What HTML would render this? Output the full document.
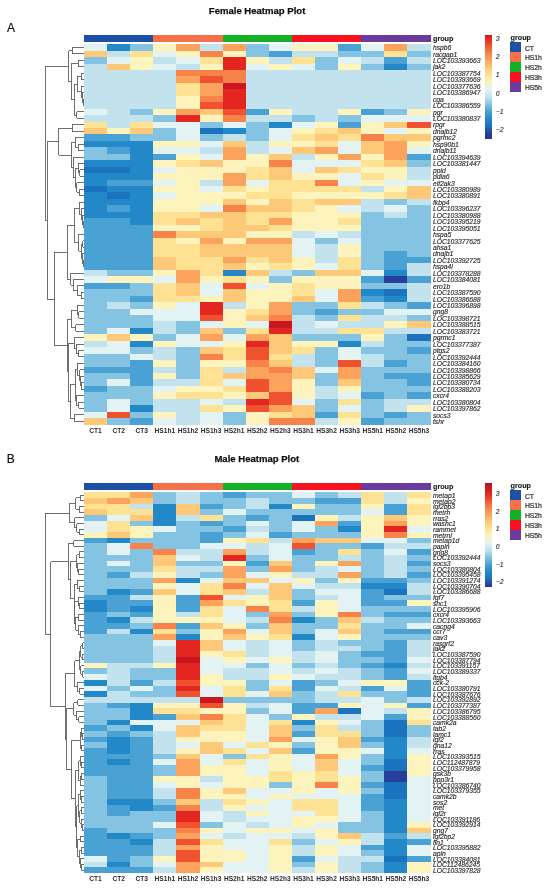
<!DOCTYPE html>
<html><head><meta charset="utf-8"><style>
html,body{margin:0;padding:0;background:#fff;}
body{width:550px;height:889px;overflow:hidden;}
svg{display:block;will-change:transform;}
text{font-family:"Liberation Sans",sans-serif;}
.title{font-size:9.55px;font-weight:bold;fill:#111;stroke:#111;stroke-width:0.25px;}
.letter{font-size:12px;fill:#111;stroke:#111;stroke-width:0.2px;}
.grp{font-size:7.2px;font-weight:bold;fill:#1a1a1a;stroke:#1a1a1a;stroke-width:0.15px;}
.rl{font-size:6.75px;font-style:italic;fill:#2a2a2a;stroke:#2a2a2a;stroke-width:0.15px;}
.cl{font-size:6.6px;font-weight:bold;fill:#2a2a2a;}
.tick{font-size:6.8px;font-style:italic;fill:#333;stroke:#333;stroke-width:0.15px;}
.leg{font-size:6.8px;fill:#262626;stroke:#262626;stroke-width:0.2px;}
.dg{stroke:#5f5f5f;stroke-width:0.9;fill:none;}
</style></head><body>
<svg width="550" height="889" viewBox="0 0 550 889" shape-rendering="crispEdges">
<defs><linearGradient id="cbf" x1="0" y1="0" x2="0" y2="1"><stop offset="-0.0352" stop-color="#c9161f"/><stop offset="0.0352" stop-color="#e3261f"/><stop offset="0.1056" stop-color="#f0522f"/><stop offset="0.1761" stop-color="#f7834a"/><stop offset="0.2465" stop-color="#fba35c"/><stop offset="0.3169" stop-color="#fdc877"/><stop offset="0.3873" stop-color="#fde294"/><stop offset="0.4577" stop-color="#fcf3bd"/><stop offset="0.5282" stop-color="#e3f2f3"/><stop offset="0.5986" stop-color="#c2e3ee"/><stop offset="0.6690" stop-color="#84c3e2"/><stop offset="0.7394" stop-color="#4aa2d4"/><stop offset="0.8099" stop-color="#2388c8"/><stop offset="0.8803" stop-color="#1b72bd"/><stop offset="0.9507" stop-color="#263f98"/><stop offset="1.0035" stop-color="#2a3590"/></linearGradient><linearGradient id="cbm" x1="0" y1="0" x2="0" y2="1"><stop offset="-0.0153" stop-color="#b3121f"/><stop offset="0.0357" stop-color="#c9161f"/><stop offset="0.1036" stop-color="#e3261f"/><stop offset="0.1715" stop-color="#f0522f"/><stop offset="0.2394" stop-color="#f7834a"/><stop offset="0.3073" stop-color="#fba35c"/><stop offset="0.3752" stop-color="#fdc877"/><stop offset="0.4431" stop-color="#fde294"/><stop offset="0.5110" stop-color="#fcf3bd"/><stop offset="0.5789" stop-color="#e3f2f3"/><stop offset="0.6469" stop-color="#c2e3ee"/><stop offset="0.7148" stop-color="#84c3e2"/><stop offset="0.7827" stop-color="#4aa2d4"/><stop offset="0.8506" stop-color="#2388c8"/><stop offset="0.9185" stop-color="#1b72bd"/><stop offset="0.9864" stop-color="#263f98"/><stop offset="1.0374" stop-color="#2a3590"/></linearGradient></defs>
<text x="208.8" y="13.6" class="title">Female Heatmap Plot</text>
<text x="7.1" y="31.8" class="letter">A</text>
<rect x="84.00" y="35.00" width="69.60" height="7" fill="#1c4fa6"/>
<rect x="153.30" y="35.00" width="69.60" height="7" fill="#f6704a"/>
<rect x="222.60" y="35.00" width="69.60" height="7" fill="#14b026"/>
<rect x="291.90" y="35.00" width="69.60" height="7" fill="#fa1220"/>
<rect x="361.20" y="35.00" width="69.60" height="7" fill="#6a3b9e"/>
<text x="433" y="41" class="grp">group</text>
<rect x="84.00" y="44.20" width="23.45" height="6.80" fill="#e3f2f3"/>
<rect x="107.10" y="44.20" width="23.45" height="6.80" fill="#2388c8"/>
<rect x="130.20" y="44.20" width="23.45" height="6.80" fill="#84c3e2"/>
<rect x="153.30" y="44.20" width="23.45" height="6.80" fill="#fcf3bd"/>
<rect x="176.40" y="44.20" width="23.45" height="6.80" fill="#fba35c"/>
<rect x="199.50" y="44.20" width="23.45" height="6.80" fill="#c2e3ee"/>
<rect x="222.60" y="44.20" width="23.45" height="6.80" fill="#fba35c"/>
<rect x="245.70" y="44.20" width="23.45" height="6.80" fill="#84c3e2"/>
<rect x="268.80" y="44.20" width="23.45" height="6.80" fill="#e3f2f3"/>
<rect x="291.90" y="44.20" width="23.45" height="6.80" fill="#fcf3bd"/>
<rect x="315.00" y="44.20" width="23.45" height="6.80" fill="#fcf3bd"/>
<rect x="338.10" y="44.20" width="23.45" height="6.80" fill="#4aa2d4"/>
<rect x="361.20" y="44.20" width="23.45" height="6.80" fill="#e3f2f3"/>
<rect x="384.30" y="44.20" width="23.45" height="6.80" fill="#fba35c"/>
<rect x="407.40" y="44.20" width="23.45" height="6.80" fill="#c2e3ee"/>
<rect x="84.00" y="50.65" width="23.45" height="6.80" fill="#fdc877"/>
<rect x="107.10" y="50.65" width="23.45" height="6.80" fill="#c2e3ee"/>
<rect x="130.20" y="50.65" width="23.45" height="6.80" fill="#fde294"/>
<rect x="153.30" y="50.65" width="23.45" height="6.80" fill="#e3f2f3"/>
<rect x="176.40" y="50.65" width="23.45" height="6.80" fill="#fcf3bd"/>
<rect x="199.50" y="50.65" width="23.45" height="6.80" fill="#f7834a"/>
<rect x="222.60" y="50.65" width="23.45" height="6.80" fill="#fcf3bd"/>
<rect x="245.70" y="50.65" width="23.45" height="6.80" fill="#84c3e2"/>
<rect x="268.80" y="50.65" width="23.45" height="6.80" fill="#4aa2d4"/>
<rect x="291.90" y="50.65" width="23.45" height="6.80" fill="#c2e3ee"/>
<rect x="315.00" y="50.65" width="23.45" height="6.80" fill="#c2e3ee"/>
<rect x="338.10" y="50.65" width="23.45" height="6.80" fill="#84c3e2"/>
<rect x="361.20" y="50.65" width="23.45" height="6.80" fill="#84c3e2"/>
<rect x="384.30" y="50.65" width="23.45" height="6.80" fill="#fde294"/>
<rect x="407.40" y="50.65" width="23.45" height="6.80" fill="#84c3e2"/>
<rect x="84.00" y="57.09" width="23.45" height="6.80" fill="#84c3e2"/>
<rect x="107.10" y="57.09" width="23.45" height="6.80" fill="#e3f2f3"/>
<rect x="130.20" y="57.09" width="23.45" height="6.80" fill="#fcf3bd"/>
<rect x="153.30" y="57.09" width="23.45" height="6.80" fill="#c2e3ee"/>
<rect x="176.40" y="57.09" width="23.45" height="6.80" fill="#e3f2f3"/>
<rect x="199.50" y="57.09" width="23.45" height="6.80" fill="#fde294"/>
<rect x="222.60" y="57.09" width="23.45" height="6.80" fill="#e3261f"/>
<rect x="245.70" y="57.09" width="23.45" height="6.80" fill="#fcf3bd"/>
<rect x="268.80" y="57.09" width="23.45" height="6.80" fill="#c2e3ee"/>
<rect x="291.90" y="57.09" width="23.45" height="6.80" fill="#fde294"/>
<rect x="315.00" y="57.09" width="23.45" height="6.80" fill="#84c3e2"/>
<rect x="338.10" y="57.09" width="23.45" height="6.80" fill="#e3f2f3"/>
<rect x="361.20" y="57.09" width="23.45" height="6.80" fill="#c2e3ee"/>
<rect x="384.30" y="57.09" width="23.45" height="6.80" fill="#4aa2d4"/>
<rect x="407.40" y="57.09" width="23.45" height="6.80" fill="#c2e3ee"/>
<rect x="84.00" y="63.54" width="23.45" height="6.80" fill="#c2e3ee"/>
<rect x="107.10" y="63.54" width="23.45" height="6.80" fill="#fdc877"/>
<rect x="130.20" y="63.54" width="23.45" height="6.80" fill="#fcf3bd"/>
<rect x="153.30" y="63.54" width="23.45" height="6.80" fill="#e3f2f3"/>
<rect x="176.40" y="63.54" width="23.45" height="6.80" fill="#c2e3ee"/>
<rect x="199.50" y="63.54" width="23.45" height="6.80" fill="#fcf3bd"/>
<rect x="222.60" y="63.54" width="23.45" height="6.80" fill="#e3261f"/>
<rect x="245.70" y="63.54" width="23.45" height="6.80" fill="#e3f2f3"/>
<rect x="268.80" y="63.54" width="23.45" height="6.80" fill="#fcf3bd"/>
<rect x="291.90" y="63.54" width="23.45" height="6.80" fill="#e3f2f3"/>
<rect x="315.00" y="63.54" width="23.45" height="6.80" fill="#84c3e2"/>
<rect x="338.10" y="63.54" width="23.45" height="6.80" fill="#fcf3bd"/>
<rect x="361.20" y="63.54" width="23.45" height="6.80" fill="#84c3e2"/>
<rect x="384.30" y="63.54" width="23.45" height="6.80" fill="#2388c8"/>
<rect x="407.40" y="63.54" width="23.45" height="6.80" fill="#84c3e2"/>
<rect x="84.00" y="69.99" width="23.45" height="6.80" fill="#c2e3ee"/>
<rect x="107.10" y="69.99" width="23.45" height="6.80" fill="#c2e3ee"/>
<rect x="130.20" y="69.99" width="23.45" height="6.80" fill="#c2e3ee"/>
<rect x="153.30" y="69.99" width="23.45" height="6.80" fill="#c2e3ee"/>
<rect x="176.40" y="69.99" width="23.45" height="6.80" fill="#f7834a"/>
<rect x="199.50" y="69.99" width="23.45" height="6.80" fill="#f7834a"/>
<rect x="222.60" y="69.99" width="23.45" height="6.80" fill="#f7834a"/>
<rect x="245.70" y="69.99" width="23.45" height="6.80" fill="#c2e3ee"/>
<rect x="268.80" y="69.99" width="23.45" height="6.80" fill="#c2e3ee"/>
<rect x="291.90" y="69.99" width="23.45" height="6.80" fill="#c2e3ee"/>
<rect x="315.00" y="69.99" width="23.45" height="6.80" fill="#c2e3ee"/>
<rect x="338.10" y="69.99" width="23.45" height="6.80" fill="#c2e3ee"/>
<rect x="361.20" y="69.99" width="23.45" height="6.80" fill="#c2e3ee"/>
<rect x="384.30" y="69.99" width="23.45" height="6.80" fill="#c2e3ee"/>
<rect x="407.40" y="69.99" width="23.45" height="6.80" fill="#c2e3ee"/>
<rect x="84.00" y="76.44" width="23.45" height="6.80" fill="#c2e3ee"/>
<rect x="107.10" y="76.44" width="23.45" height="6.80" fill="#c2e3ee"/>
<rect x="130.20" y="76.44" width="23.45" height="6.80" fill="#c2e3ee"/>
<rect x="153.30" y="76.44" width="23.45" height="6.80" fill="#c2e3ee"/>
<rect x="176.40" y="76.44" width="23.45" height="6.80" fill="#fba35c"/>
<rect x="199.50" y="76.44" width="23.45" height="6.80" fill="#f0522f"/>
<rect x="222.60" y="76.44" width="23.45" height="6.80" fill="#f7834a"/>
<rect x="245.70" y="76.44" width="23.45" height="6.80" fill="#c2e3ee"/>
<rect x="268.80" y="76.44" width="23.45" height="6.80" fill="#c2e3ee"/>
<rect x="291.90" y="76.44" width="23.45" height="6.80" fill="#c2e3ee"/>
<rect x="315.00" y="76.44" width="23.45" height="6.80" fill="#c2e3ee"/>
<rect x="338.10" y="76.44" width="23.45" height="6.80" fill="#c2e3ee"/>
<rect x="361.20" y="76.44" width="23.45" height="6.80" fill="#c2e3ee"/>
<rect x="384.30" y="76.44" width="23.45" height="6.80" fill="#c2e3ee"/>
<rect x="407.40" y="76.44" width="23.45" height="6.80" fill="#c2e3ee"/>
<rect x="84.00" y="82.88" width="23.45" height="6.80" fill="#c2e3ee"/>
<rect x="107.10" y="82.88" width="23.45" height="6.80" fill="#c2e3ee"/>
<rect x="130.20" y="82.88" width="23.45" height="6.80" fill="#c2e3ee"/>
<rect x="153.30" y="82.88" width="23.45" height="6.80" fill="#c2e3ee"/>
<rect x="176.40" y="82.88" width="23.45" height="6.80" fill="#fde294"/>
<rect x="199.50" y="82.88" width="23.45" height="6.80" fill="#fba35c"/>
<rect x="222.60" y="82.88" width="23.45" height="6.80" fill="#c9161f"/>
<rect x="245.70" y="82.88" width="23.45" height="6.80" fill="#c2e3ee"/>
<rect x="268.80" y="82.88" width="23.45" height="6.80" fill="#c2e3ee"/>
<rect x="291.90" y="82.88" width="23.45" height="6.80" fill="#c2e3ee"/>
<rect x="315.00" y="82.88" width="23.45" height="6.80" fill="#c2e3ee"/>
<rect x="338.10" y="82.88" width="23.45" height="6.80" fill="#c2e3ee"/>
<rect x="361.20" y="82.88" width="23.45" height="6.80" fill="#c2e3ee"/>
<rect x="384.30" y="82.88" width="23.45" height="6.80" fill="#c2e3ee"/>
<rect x="407.40" y="82.88" width="23.45" height="6.80" fill="#c2e3ee"/>
<rect x="84.00" y="89.33" width="23.45" height="6.80" fill="#c2e3ee"/>
<rect x="107.10" y="89.33" width="23.45" height="6.80" fill="#c2e3ee"/>
<rect x="130.20" y="89.33" width="23.45" height="6.80" fill="#c2e3ee"/>
<rect x="153.30" y="89.33" width="23.45" height="6.80" fill="#c2e3ee"/>
<rect x="176.40" y="89.33" width="23.45" height="6.80" fill="#fde294"/>
<rect x="199.50" y="89.33" width="23.45" height="6.80" fill="#fba35c"/>
<rect x="222.60" y="89.33" width="23.45" height="6.80" fill="#e3261f"/>
<rect x="245.70" y="89.33" width="23.45" height="6.80" fill="#c2e3ee"/>
<rect x="268.80" y="89.33" width="23.45" height="6.80" fill="#c2e3ee"/>
<rect x="291.90" y="89.33" width="23.45" height="6.80" fill="#c2e3ee"/>
<rect x="315.00" y="89.33" width="23.45" height="6.80" fill="#c2e3ee"/>
<rect x="338.10" y="89.33" width="23.45" height="6.80" fill="#c2e3ee"/>
<rect x="361.20" y="89.33" width="23.45" height="6.80" fill="#c2e3ee"/>
<rect x="384.30" y="89.33" width="23.45" height="6.80" fill="#c2e3ee"/>
<rect x="407.40" y="89.33" width="23.45" height="6.80" fill="#c2e3ee"/>
<rect x="84.00" y="95.78" width="23.45" height="6.80" fill="#c2e3ee"/>
<rect x="107.10" y="95.78" width="23.45" height="6.80" fill="#c2e3ee"/>
<rect x="130.20" y="95.78" width="23.45" height="6.80" fill="#c2e3ee"/>
<rect x="153.30" y="95.78" width="23.45" height="6.80" fill="#c2e3ee"/>
<rect x="176.40" y="95.78" width="23.45" height="6.80" fill="#fcf3bd"/>
<rect x="199.50" y="95.78" width="23.45" height="6.80" fill="#f7834a"/>
<rect x="222.60" y="95.78" width="23.45" height="6.80" fill="#e3261f"/>
<rect x="245.70" y="95.78" width="23.45" height="6.80" fill="#c2e3ee"/>
<rect x="268.80" y="95.78" width="23.45" height="6.80" fill="#c2e3ee"/>
<rect x="291.90" y="95.78" width="23.45" height="6.80" fill="#c2e3ee"/>
<rect x="315.00" y="95.78" width="23.45" height="6.80" fill="#c2e3ee"/>
<rect x="338.10" y="95.78" width="23.45" height="6.80" fill="#c2e3ee"/>
<rect x="361.20" y="95.78" width="23.45" height="6.80" fill="#c2e3ee"/>
<rect x="384.30" y="95.78" width="23.45" height="6.80" fill="#c2e3ee"/>
<rect x="407.40" y="95.78" width="23.45" height="6.80" fill="#c2e3ee"/>
<rect x="84.00" y="102.23" width="23.45" height="6.80" fill="#c2e3ee"/>
<rect x="107.10" y="102.23" width="23.45" height="6.80" fill="#c2e3ee"/>
<rect x="130.20" y="102.23" width="23.45" height="6.80" fill="#c2e3ee"/>
<rect x="153.30" y="102.23" width="23.45" height="6.80" fill="#c2e3ee"/>
<rect x="176.40" y="102.23" width="23.45" height="6.80" fill="#fcf3bd"/>
<rect x="199.50" y="102.23" width="23.45" height="6.80" fill="#f0522f"/>
<rect x="222.60" y="102.23" width="23.45" height="6.80" fill="#e3261f"/>
<rect x="245.70" y="102.23" width="23.45" height="6.80" fill="#c2e3ee"/>
<rect x="268.80" y="102.23" width="23.45" height="6.80" fill="#c2e3ee"/>
<rect x="291.90" y="102.23" width="23.45" height="6.80" fill="#c2e3ee"/>
<rect x="315.00" y="102.23" width="23.45" height="6.80" fill="#c2e3ee"/>
<rect x="338.10" y="102.23" width="23.45" height="6.80" fill="#c2e3ee"/>
<rect x="361.20" y="102.23" width="23.45" height="6.80" fill="#c2e3ee"/>
<rect x="384.30" y="102.23" width="23.45" height="6.80" fill="#c2e3ee"/>
<rect x="407.40" y="102.23" width="23.45" height="6.80" fill="#c2e3ee"/>
<rect x="84.00" y="108.67" width="23.45" height="6.80" fill="#e3f2f3"/>
<rect x="107.10" y="108.67" width="23.45" height="6.80" fill="#c2e3ee"/>
<rect x="130.20" y="108.67" width="23.45" height="6.80" fill="#84c3e2"/>
<rect x="153.30" y="108.67" width="23.45" height="6.80" fill="#fcf3bd"/>
<rect x="176.40" y="108.67" width="23.45" height="6.80" fill="#fba35c"/>
<rect x="199.50" y="108.67" width="23.45" height="6.80" fill="#fdc877"/>
<rect x="222.60" y="108.67" width="23.45" height="6.80" fill="#f0522f"/>
<rect x="245.70" y="108.67" width="23.45" height="6.80" fill="#4aa2d4"/>
<rect x="268.80" y="108.67" width="23.45" height="6.80" fill="#fcf3bd"/>
<rect x="291.90" y="108.67" width="23.45" height="6.80" fill="#c2e3ee"/>
<rect x="315.00" y="108.67" width="23.45" height="6.80" fill="#c2e3ee"/>
<rect x="338.10" y="108.67" width="23.45" height="6.80" fill="#fcf3bd"/>
<rect x="361.20" y="108.67" width="23.45" height="6.80" fill="#4aa2d4"/>
<rect x="384.30" y="108.67" width="23.45" height="6.80" fill="#84c3e2"/>
<rect x="407.40" y="108.67" width="23.45" height="6.80" fill="#fcf3bd"/>
<rect x="84.00" y="115.12" width="23.45" height="6.80" fill="#c2e3ee"/>
<rect x="107.10" y="115.12" width="23.45" height="6.80" fill="#c2e3ee"/>
<rect x="130.20" y="115.12" width="23.45" height="6.80" fill="#c2e3ee"/>
<rect x="153.30" y="115.12" width="23.45" height="6.80" fill="#84c3e2"/>
<rect x="176.40" y="115.12" width="23.45" height="6.80" fill="#e3261f"/>
<rect x="199.50" y="115.12" width="23.45" height="6.80" fill="#fcf3bd"/>
<rect x="222.60" y="115.12" width="23.45" height="6.80" fill="#f7834a"/>
<rect x="245.70" y="115.12" width="23.45" height="6.80" fill="#c2e3ee"/>
<rect x="268.80" y="115.12" width="23.45" height="6.80" fill="#c2e3ee"/>
<rect x="291.90" y="115.12" width="23.45" height="6.80" fill="#84c3e2"/>
<rect x="315.00" y="115.12" width="23.45" height="6.80" fill="#c2e3ee"/>
<rect x="338.10" y="115.12" width="23.45" height="6.80" fill="#84c3e2"/>
<rect x="361.20" y="115.12" width="23.45" height="6.80" fill="#e3f2f3"/>
<rect x="384.30" y="115.12" width="23.45" height="6.80" fill="#e3f2f3"/>
<rect x="407.40" y="115.12" width="23.45" height="6.80" fill="#e3f2f3"/>
<rect x="84.00" y="121.57" width="23.45" height="6.80" fill="#fde294"/>
<rect x="107.10" y="121.57" width="23.45" height="6.80" fill="#c2e3ee"/>
<rect x="130.20" y="121.57" width="23.45" height="6.80" fill="#fde294"/>
<rect x="153.30" y="121.57" width="23.45" height="6.80" fill="#e3f2f3"/>
<rect x="176.40" y="121.57" width="23.45" height="6.80" fill="#e3f2f3"/>
<rect x="199.50" y="121.57" width="23.45" height="6.80" fill="#84c3e2"/>
<rect x="222.60" y="121.57" width="23.45" height="6.80" fill="#e3f2f3"/>
<rect x="245.70" y="121.57" width="23.45" height="6.80" fill="#84c3e2"/>
<rect x="268.80" y="121.57" width="23.45" height="6.80" fill="#2388c8"/>
<rect x="291.90" y="121.57" width="23.45" height="6.80" fill="#e3f2f3"/>
<rect x="315.00" y="121.57" width="23.45" height="6.80" fill="#fcf3bd"/>
<rect x="338.10" y="121.57" width="23.45" height="6.80" fill="#4aa2d4"/>
<rect x="361.20" y="121.57" width="23.45" height="6.80" fill="#fcf3bd"/>
<rect x="384.30" y="121.57" width="23.45" height="6.80" fill="#fdc877"/>
<rect x="407.40" y="121.57" width="23.45" height="6.80" fill="#f0522f"/>
<rect x="84.00" y="128.02" width="23.45" height="6.80" fill="#fdc877"/>
<rect x="107.10" y="128.02" width="23.45" height="6.80" fill="#fcf3bd"/>
<rect x="130.20" y="128.02" width="23.45" height="6.80" fill="#fdc877"/>
<rect x="153.30" y="128.02" width="23.45" height="6.80" fill="#84c3e2"/>
<rect x="176.40" y="128.02" width="23.45" height="6.80" fill="#e3f2f3"/>
<rect x="199.50" y="128.02" width="23.45" height="6.80" fill="#1b72bd"/>
<rect x="222.60" y="128.02" width="23.45" height="6.80" fill="#2388c8"/>
<rect x="245.70" y="128.02" width="23.45" height="6.80" fill="#84c3e2"/>
<rect x="268.80" y="128.02" width="23.45" height="6.80" fill="#e3f2f3"/>
<rect x="291.90" y="128.02" width="23.45" height="6.80" fill="#fcf3bd"/>
<rect x="315.00" y="128.02" width="23.45" height="6.80" fill="#fde294"/>
<rect x="338.10" y="128.02" width="23.45" height="6.80" fill="#fdc877"/>
<rect x="361.20" y="128.02" width="23.45" height="6.80" fill="#fcf3bd"/>
<rect x="384.30" y="128.02" width="23.45" height="6.80" fill="#e3f2f3"/>
<rect x="407.40" y="128.02" width="23.45" height="6.80" fill="#fcf3bd"/>
<rect x="84.00" y="134.46" width="23.45" height="6.80" fill="#4aa2d4"/>
<rect x="107.10" y="134.46" width="23.45" height="6.80" fill="#4aa2d4"/>
<rect x="130.20" y="134.46" width="23.45" height="6.80" fill="#84c3e2"/>
<rect x="153.30" y="134.46" width="23.45" height="6.80" fill="#84c3e2"/>
<rect x="176.40" y="134.46" width="23.45" height="6.80" fill="#e3f2f3"/>
<rect x="199.50" y="134.46" width="23.45" height="6.80" fill="#84c3e2"/>
<rect x="222.60" y="134.46" width="23.45" height="6.80" fill="#c2e3ee"/>
<rect x="245.70" y="134.46" width="23.45" height="6.80" fill="#84c3e2"/>
<rect x="268.80" y="134.46" width="23.45" height="6.80" fill="#e3f2f3"/>
<rect x="291.90" y="134.46" width="23.45" height="6.80" fill="#fde294"/>
<rect x="315.00" y="134.46" width="23.45" height="6.80" fill="#fdc877"/>
<rect x="338.10" y="134.46" width="23.45" height="6.80" fill="#fde294"/>
<rect x="361.20" y="134.46" width="23.45" height="6.80" fill="#f7834a"/>
<rect x="384.30" y="134.46" width="23.45" height="6.80" fill="#fdc877"/>
<rect x="407.40" y="134.46" width="23.45" height="6.80" fill="#fdc877"/>
<rect x="84.00" y="140.91" width="23.45" height="6.80" fill="#2388c8"/>
<rect x="107.10" y="140.91" width="23.45" height="6.80" fill="#2388c8"/>
<rect x="130.20" y="140.91" width="23.45" height="6.80" fill="#2388c8"/>
<rect x="153.30" y="140.91" width="23.45" height="6.80" fill="#fcf3bd"/>
<rect x="176.40" y="140.91" width="23.45" height="6.80" fill="#fcf3bd"/>
<rect x="199.50" y="140.91" width="23.45" height="6.80" fill="#e3f2f3"/>
<rect x="222.60" y="140.91" width="23.45" height="6.80" fill="#fdc877"/>
<rect x="245.70" y="140.91" width="23.45" height="6.80" fill="#c2e3ee"/>
<rect x="268.80" y="140.91" width="23.45" height="6.80" fill="#fcf3bd"/>
<rect x="291.90" y="140.91" width="23.45" height="6.80" fill="#fcf3bd"/>
<rect x="315.00" y="140.91" width="23.45" height="6.80" fill="#fde294"/>
<rect x="338.10" y="140.91" width="23.45" height="6.80" fill="#e3f2f3"/>
<rect x="361.20" y="140.91" width="23.45" height="6.80" fill="#fdc877"/>
<rect x="384.30" y="140.91" width="23.45" height="6.80" fill="#fba35c"/>
<rect x="407.40" y="140.91" width="23.45" height="6.80" fill="#fcf3bd"/>
<rect x="84.00" y="147.36" width="23.45" height="6.80" fill="#84c3e2"/>
<rect x="107.10" y="147.36" width="23.45" height="6.80" fill="#4aa2d4"/>
<rect x="130.20" y="147.36" width="23.45" height="6.80" fill="#2388c8"/>
<rect x="153.30" y="147.36" width="23.45" height="6.80" fill="#e3f2f3"/>
<rect x="176.40" y="147.36" width="23.45" height="6.80" fill="#e3f2f3"/>
<rect x="199.50" y="147.36" width="23.45" height="6.80" fill="#c2e3ee"/>
<rect x="222.60" y="147.36" width="23.45" height="6.80" fill="#fba35c"/>
<rect x="245.70" y="147.36" width="23.45" height="6.80" fill="#c2e3ee"/>
<rect x="268.80" y="147.36" width="23.45" height="6.80" fill="#e3f2f3"/>
<rect x="291.90" y="147.36" width="23.45" height="6.80" fill="#fdc877"/>
<rect x="315.00" y="147.36" width="23.45" height="6.80" fill="#fba35c"/>
<rect x="338.10" y="147.36" width="23.45" height="6.80" fill="#e3f2f3"/>
<rect x="361.20" y="147.36" width="23.45" height="6.80" fill="#fdc877"/>
<rect x="384.30" y="147.36" width="23.45" height="6.80" fill="#fba35c"/>
<rect x="407.40" y="147.36" width="23.45" height="6.80" fill="#e3f2f3"/>
<rect x="84.00" y="153.81" width="23.45" height="6.80" fill="#84c3e2"/>
<rect x="107.10" y="153.81" width="23.45" height="6.80" fill="#84c3e2"/>
<rect x="130.20" y="153.81" width="23.45" height="6.80" fill="#2388c8"/>
<rect x="153.30" y="153.81" width="23.45" height="6.80" fill="#4aa2d4"/>
<rect x="176.40" y="153.81" width="23.45" height="6.80" fill="#fcf3bd"/>
<rect x="199.50" y="153.81" width="23.45" height="6.80" fill="#e3f2f3"/>
<rect x="222.60" y="153.81" width="23.45" height="6.80" fill="#fba35c"/>
<rect x="245.70" y="153.81" width="23.45" height="6.80" fill="#fcf3bd"/>
<rect x="268.80" y="153.81" width="23.45" height="6.80" fill="#fdc877"/>
<rect x="291.90" y="153.81" width="23.45" height="6.80" fill="#c2e3ee"/>
<rect x="315.00" y="153.81" width="23.45" height="6.80" fill="#fcf3bd"/>
<rect x="338.10" y="153.81" width="23.45" height="6.80" fill="#fba35c"/>
<rect x="361.20" y="153.81" width="23.45" height="6.80" fill="#fcf3bd"/>
<rect x="384.30" y="153.81" width="23.45" height="6.80" fill="#fba35c"/>
<rect x="407.40" y="153.81" width="23.45" height="6.80" fill="#4aa2d4"/>
<rect x="84.00" y="160.25" width="23.45" height="6.80" fill="#2388c8"/>
<rect x="107.10" y="160.25" width="23.45" height="6.80" fill="#2388c8"/>
<rect x="130.20" y="160.25" width="23.45" height="6.80" fill="#2388c8"/>
<rect x="153.30" y="160.25" width="23.45" height="6.80" fill="#fcf3bd"/>
<rect x="176.40" y="160.25" width="23.45" height="6.80" fill="#fde294"/>
<rect x="199.50" y="160.25" width="23.45" height="6.80" fill="#fdc877"/>
<rect x="222.60" y="160.25" width="23.45" height="6.80" fill="#fcf3bd"/>
<rect x="245.70" y="160.25" width="23.45" height="6.80" fill="#fcf3bd"/>
<rect x="268.80" y="160.25" width="23.45" height="6.80" fill="#f7834a"/>
<rect x="291.90" y="160.25" width="23.45" height="6.80" fill="#e3f2f3"/>
<rect x="315.00" y="160.25" width="23.45" height="6.80" fill="#e3f2f3"/>
<rect x="338.10" y="160.25" width="23.45" height="6.80" fill="#e3f2f3"/>
<rect x="361.20" y="160.25" width="23.45" height="6.80" fill="#fde294"/>
<rect x="384.30" y="160.25" width="23.45" height="6.80" fill="#fdc877"/>
<rect x="407.40" y="160.25" width="23.45" height="6.80" fill="#84c3e2"/>
<rect x="84.00" y="166.70" width="23.45" height="6.80" fill="#1b72bd"/>
<rect x="107.10" y="166.70" width="23.45" height="6.80" fill="#1b72bd"/>
<rect x="130.20" y="166.70" width="23.45" height="6.80" fill="#2388c8"/>
<rect x="153.30" y="166.70" width="23.45" height="6.80" fill="#e3f2f3"/>
<rect x="176.40" y="166.70" width="23.45" height="6.80" fill="#fcf3bd"/>
<rect x="199.50" y="166.70" width="23.45" height="6.80" fill="#fcf3bd"/>
<rect x="222.60" y="166.70" width="23.45" height="6.80" fill="#fcf3bd"/>
<rect x="245.70" y="166.70" width="23.45" height="6.80" fill="#fde294"/>
<rect x="268.80" y="166.70" width="23.45" height="6.80" fill="#fdc877"/>
<rect x="291.90" y="166.70" width="23.45" height="6.80" fill="#e3f2f3"/>
<rect x="315.00" y="166.70" width="23.45" height="6.80" fill="#fdc877"/>
<rect x="338.10" y="166.70" width="23.45" height="6.80" fill="#fde294"/>
<rect x="361.20" y="166.70" width="23.45" height="6.80" fill="#fcf3bd"/>
<rect x="384.30" y="166.70" width="23.45" height="6.80" fill="#fcf3bd"/>
<rect x="407.40" y="166.70" width="23.45" height="6.80" fill="#c2e3ee"/>
<rect x="84.00" y="173.15" width="23.45" height="6.80" fill="#2388c8"/>
<rect x="107.10" y="173.15" width="23.45" height="6.80" fill="#2388c8"/>
<rect x="130.20" y="173.15" width="23.45" height="6.80" fill="#2388c8"/>
<rect x="153.30" y="173.15" width="23.45" height="6.80" fill="#fcf3bd"/>
<rect x="176.40" y="173.15" width="23.45" height="6.80" fill="#fcf3bd"/>
<rect x="199.50" y="173.15" width="23.45" height="6.80" fill="#fcf3bd"/>
<rect x="222.60" y="173.15" width="23.45" height="6.80" fill="#fba35c"/>
<rect x="245.70" y="173.15" width="23.45" height="6.80" fill="#fde294"/>
<rect x="268.80" y="173.15" width="23.45" height="6.80" fill="#fdc877"/>
<rect x="291.90" y="173.15" width="23.45" height="6.80" fill="#fcf3bd"/>
<rect x="315.00" y="173.15" width="23.45" height="6.80" fill="#fcf3bd"/>
<rect x="338.10" y="173.15" width="23.45" height="6.80" fill="#e3f2f3"/>
<rect x="361.20" y="173.15" width="23.45" height="6.80" fill="#fde294"/>
<rect x="384.30" y="173.15" width="23.45" height="6.80" fill="#fcf3bd"/>
<rect x="407.40" y="173.15" width="23.45" height="6.80" fill="#c2e3ee"/>
<rect x="84.00" y="179.60" width="23.45" height="6.80" fill="#2388c8"/>
<rect x="107.10" y="179.60" width="23.45" height="6.80" fill="#4aa2d4"/>
<rect x="130.20" y="179.60" width="23.45" height="6.80" fill="#4aa2d4"/>
<rect x="153.30" y="179.60" width="23.45" height="6.80" fill="#e3f2f3"/>
<rect x="176.40" y="179.60" width="23.45" height="6.80" fill="#fcf3bd"/>
<rect x="199.50" y="179.60" width="23.45" height="6.80" fill="#c2e3ee"/>
<rect x="222.60" y="179.60" width="23.45" height="6.80" fill="#fba35c"/>
<rect x="245.70" y="179.60" width="23.45" height="6.80" fill="#e3f2f3"/>
<rect x="268.80" y="179.60" width="23.45" height="6.80" fill="#fde294"/>
<rect x="291.90" y="179.60" width="23.45" height="6.80" fill="#fde294"/>
<rect x="315.00" y="179.60" width="23.45" height="6.80" fill="#f7834a"/>
<rect x="338.10" y="179.60" width="23.45" height="6.80" fill="#e3f2f3"/>
<rect x="361.20" y="179.60" width="23.45" height="6.80" fill="#fcf3bd"/>
<rect x="384.30" y="179.60" width="23.45" height="6.80" fill="#e3f2f3"/>
<rect x="407.40" y="179.60" width="23.45" height="6.80" fill="#e3f2f3"/>
<rect x="84.00" y="186.04" width="23.45" height="6.80" fill="#1b72bd"/>
<rect x="107.10" y="186.04" width="23.45" height="6.80" fill="#2388c8"/>
<rect x="130.20" y="186.04" width="23.45" height="6.80" fill="#2388c8"/>
<rect x="153.30" y="186.04" width="23.45" height="6.80" fill="#fcf3bd"/>
<rect x="176.40" y="186.04" width="23.45" height="6.80" fill="#fcf3bd"/>
<rect x="199.50" y="186.04" width="23.45" height="6.80" fill="#e3f2f3"/>
<rect x="222.60" y="186.04" width="23.45" height="6.80" fill="#fde294"/>
<rect x="245.70" y="186.04" width="23.45" height="6.80" fill="#fcf3bd"/>
<rect x="268.80" y="186.04" width="23.45" height="6.80" fill="#fde294"/>
<rect x="291.90" y="186.04" width="23.45" height="6.80" fill="#fde294"/>
<rect x="315.00" y="186.04" width="23.45" height="6.80" fill="#fde294"/>
<rect x="338.10" y="186.04" width="23.45" height="6.80" fill="#fde294"/>
<rect x="361.20" y="186.04" width="23.45" height="6.80" fill="#c2e3ee"/>
<rect x="384.30" y="186.04" width="23.45" height="6.80" fill="#fcf3bd"/>
<rect x="407.40" y="186.04" width="23.45" height="6.80" fill="#fdc877"/>
<rect x="84.00" y="192.49" width="23.45" height="6.80" fill="#2388c8"/>
<rect x="107.10" y="192.49" width="23.45" height="6.80" fill="#1b72bd"/>
<rect x="130.20" y="192.49" width="23.45" height="6.80" fill="#2388c8"/>
<rect x="153.30" y="192.49" width="23.45" height="6.80" fill="#e3f2f3"/>
<rect x="176.40" y="192.49" width="23.45" height="6.80" fill="#fcf3bd"/>
<rect x="199.50" y="192.49" width="23.45" height="6.80" fill="#fcf3bd"/>
<rect x="222.60" y="192.49" width="23.45" height="6.80" fill="#fcf3bd"/>
<rect x="245.70" y="192.49" width="23.45" height="6.80" fill="#fde294"/>
<rect x="268.80" y="192.49" width="23.45" height="6.80" fill="#fde294"/>
<rect x="291.90" y="192.49" width="23.45" height="6.80" fill="#fcf3bd"/>
<rect x="315.00" y="192.49" width="23.45" height="6.80" fill="#fcf3bd"/>
<rect x="338.10" y="192.49" width="23.45" height="6.80" fill="#fcf3bd"/>
<rect x="361.20" y="192.49" width="23.45" height="6.80" fill="#fcf3bd"/>
<rect x="384.30" y="192.49" width="23.45" height="6.80" fill="#fde294"/>
<rect x="407.40" y="192.49" width="23.45" height="6.80" fill="#fdc877"/>
<rect x="84.00" y="198.94" width="23.45" height="6.80" fill="#2388c8"/>
<rect x="107.10" y="198.94" width="23.45" height="6.80" fill="#2388c8"/>
<rect x="130.20" y="198.94" width="23.45" height="6.80" fill="#2388c8"/>
<rect x="153.30" y="198.94" width="23.45" height="6.80" fill="#fcf3bd"/>
<rect x="176.40" y="198.94" width="23.45" height="6.80" fill="#fcf3bd"/>
<rect x="199.50" y="198.94" width="23.45" height="6.80" fill="#fcf3bd"/>
<rect x="222.60" y="198.94" width="23.45" height="6.80" fill="#fdc877"/>
<rect x="245.70" y="198.94" width="23.45" height="6.80" fill="#fcf3bd"/>
<rect x="268.80" y="198.94" width="23.45" height="6.80" fill="#fdc877"/>
<rect x="291.90" y="198.94" width="23.45" height="6.80" fill="#fde294"/>
<rect x="315.00" y="198.94" width="23.45" height="6.80" fill="#fdc877"/>
<rect x="338.10" y="198.94" width="23.45" height="6.80" fill="#fdc877"/>
<rect x="361.20" y="198.94" width="23.45" height="6.80" fill="#c2e3ee"/>
<rect x="384.30" y="198.94" width="23.45" height="6.80" fill="#84c3e2"/>
<rect x="407.40" y="198.94" width="23.45" height="6.80" fill="#c2e3ee"/>
<rect x="84.00" y="205.39" width="23.45" height="6.80" fill="#2388c8"/>
<rect x="107.10" y="205.39" width="23.45" height="6.80" fill="#4aa2d4"/>
<rect x="130.20" y="205.39" width="23.45" height="6.80" fill="#2388c8"/>
<rect x="153.30" y="205.39" width="23.45" height="6.80" fill="#fcf3bd"/>
<rect x="176.40" y="205.39" width="23.45" height="6.80" fill="#fcf3bd"/>
<rect x="199.50" y="205.39" width="23.45" height="6.80" fill="#e3f2f3"/>
<rect x="222.60" y="205.39" width="23.45" height="6.80" fill="#f7834a"/>
<rect x="245.70" y="205.39" width="23.45" height="6.80" fill="#fdc877"/>
<rect x="268.80" y="205.39" width="23.45" height="6.80" fill="#fdc877"/>
<rect x="291.90" y="205.39" width="23.45" height="6.80" fill="#fde294"/>
<rect x="315.00" y="205.39" width="23.45" height="6.80" fill="#fcf3bd"/>
<rect x="338.10" y="205.39" width="23.45" height="6.80" fill="#e3f2f3"/>
<rect x="361.20" y="205.39" width="23.45" height="6.80" fill="#c2e3ee"/>
<rect x="384.30" y="205.39" width="23.45" height="6.80" fill="#e3f2f3"/>
<rect x="407.40" y="205.39" width="23.45" height="6.80" fill="#84c3e2"/>
<rect x="84.00" y="211.83" width="23.45" height="6.80" fill="#2388c8"/>
<rect x="107.10" y="211.83" width="23.45" height="6.80" fill="#2388c8"/>
<rect x="130.20" y="211.83" width="23.45" height="6.80" fill="#2388c8"/>
<rect x="153.30" y="211.83" width="23.45" height="6.80" fill="#fde294"/>
<rect x="176.40" y="211.83" width="23.45" height="6.80" fill="#fde294"/>
<rect x="199.50" y="211.83" width="23.45" height="6.80" fill="#fdc877"/>
<rect x="222.60" y="211.83" width="23.45" height="6.80" fill="#fdc877"/>
<rect x="245.70" y="211.83" width="23.45" height="6.80" fill="#fde294"/>
<rect x="268.80" y="211.83" width="23.45" height="6.80" fill="#fde294"/>
<rect x="291.90" y="211.83" width="23.45" height="6.80" fill="#fcf3bd"/>
<rect x="315.00" y="211.83" width="23.45" height="6.80" fill="#fcf3bd"/>
<rect x="338.10" y="211.83" width="23.45" height="6.80" fill="#fcf3bd"/>
<rect x="361.20" y="211.83" width="23.45" height="6.80" fill="#84c3e2"/>
<rect x="384.30" y="211.83" width="23.45" height="6.80" fill="#c2e3ee"/>
<rect x="407.40" y="211.83" width="23.45" height="6.80" fill="#84c3e2"/>
<rect x="84.00" y="218.28" width="23.45" height="6.80" fill="#4aa2d4"/>
<rect x="107.10" y="218.28" width="23.45" height="6.80" fill="#4aa2d4"/>
<rect x="130.20" y="218.28" width="23.45" height="6.80" fill="#2388c8"/>
<rect x="153.30" y="218.28" width="23.45" height="6.80" fill="#fde294"/>
<rect x="176.40" y="218.28" width="23.45" height="6.80" fill="#fdc877"/>
<rect x="199.50" y="218.28" width="23.45" height="6.80" fill="#fde294"/>
<rect x="222.60" y="218.28" width="23.45" height="6.80" fill="#fdc877"/>
<rect x="245.70" y="218.28" width="23.45" height="6.80" fill="#fde294"/>
<rect x="268.80" y="218.28" width="23.45" height="6.80" fill="#fba35c"/>
<rect x="291.90" y="218.28" width="23.45" height="6.80" fill="#fcf3bd"/>
<rect x="315.00" y="218.28" width="23.45" height="6.80" fill="#fcf3bd"/>
<rect x="338.10" y="218.28" width="23.45" height="6.80" fill="#fde294"/>
<rect x="361.20" y="218.28" width="23.45" height="6.80" fill="#84c3e2"/>
<rect x="384.30" y="218.28" width="23.45" height="6.80" fill="#84c3e2"/>
<rect x="407.40" y="218.28" width="23.45" height="6.80" fill="#84c3e2"/>
<rect x="84.00" y="224.73" width="23.45" height="6.80" fill="#4aa2d4"/>
<rect x="107.10" y="224.73" width="23.45" height="6.80" fill="#4aa2d4"/>
<rect x="130.20" y="224.73" width="23.45" height="6.80" fill="#4aa2d4"/>
<rect x="153.30" y="224.73" width="23.45" height="6.80" fill="#fcf3bd"/>
<rect x="176.40" y="224.73" width="23.45" height="6.80" fill="#fcf3bd"/>
<rect x="199.50" y="224.73" width="23.45" height="6.80" fill="#fde294"/>
<rect x="222.60" y="224.73" width="23.45" height="6.80" fill="#fdc877"/>
<rect x="245.70" y="224.73" width="23.45" height="6.80" fill="#fdc877"/>
<rect x="268.80" y="224.73" width="23.45" height="6.80" fill="#fde294"/>
<rect x="291.90" y="224.73" width="23.45" height="6.80" fill="#fcf3bd"/>
<rect x="315.00" y="224.73" width="23.45" height="6.80" fill="#fcf3bd"/>
<rect x="338.10" y="224.73" width="23.45" height="6.80" fill="#fcf3bd"/>
<rect x="361.20" y="224.73" width="23.45" height="6.80" fill="#84c3e2"/>
<rect x="384.30" y="224.73" width="23.45" height="6.80" fill="#84c3e2"/>
<rect x="407.40" y="224.73" width="23.45" height="6.80" fill="#84c3e2"/>
<rect x="84.00" y="231.18" width="23.45" height="6.80" fill="#4aa2d4"/>
<rect x="107.10" y="231.18" width="23.45" height="6.80" fill="#4aa2d4"/>
<rect x="130.20" y="231.18" width="23.45" height="6.80" fill="#4aa2d4"/>
<rect x="153.30" y="231.18" width="23.45" height="6.80" fill="#f7834a"/>
<rect x="176.40" y="231.18" width="23.45" height="6.80" fill="#fdc877"/>
<rect x="199.50" y="231.18" width="23.45" height="6.80" fill="#fdc877"/>
<rect x="222.60" y="231.18" width="23.45" height="6.80" fill="#fdc877"/>
<rect x="245.70" y="231.18" width="23.45" height="6.80" fill="#fcf3bd"/>
<rect x="268.80" y="231.18" width="23.45" height="6.80" fill="#fcf3bd"/>
<rect x="291.90" y="231.18" width="23.45" height="6.80" fill="#c2e3ee"/>
<rect x="315.00" y="231.18" width="23.45" height="6.80" fill="#e3f2f3"/>
<rect x="338.10" y="231.18" width="23.45" height="6.80" fill="#c2e3ee"/>
<rect x="361.20" y="231.18" width="23.45" height="6.80" fill="#84c3e2"/>
<rect x="384.30" y="231.18" width="23.45" height="6.80" fill="#84c3e2"/>
<rect x="407.40" y="231.18" width="23.45" height="6.80" fill="#84c3e2"/>
<rect x="84.00" y="237.62" width="23.45" height="6.80" fill="#4aa2d4"/>
<rect x="107.10" y="237.62" width="23.45" height="6.80" fill="#4aa2d4"/>
<rect x="130.20" y="237.62" width="23.45" height="6.80" fill="#4aa2d4"/>
<rect x="153.30" y="237.62" width="23.45" height="6.80" fill="#fde294"/>
<rect x="176.40" y="237.62" width="23.45" height="6.80" fill="#fcf3bd"/>
<rect x="199.50" y="237.62" width="23.45" height="6.80" fill="#fba35c"/>
<rect x="222.60" y="237.62" width="23.45" height="6.80" fill="#fcf3bd"/>
<rect x="245.70" y="237.62" width="23.45" height="6.80" fill="#fba35c"/>
<rect x="268.80" y="237.62" width="23.45" height="6.80" fill="#fba35c"/>
<rect x="291.90" y="237.62" width="23.45" height="6.80" fill="#e3f2f3"/>
<rect x="315.00" y="237.62" width="23.45" height="6.80" fill="#84c3e2"/>
<rect x="338.10" y="237.62" width="23.45" height="6.80" fill="#e3f2f3"/>
<rect x="361.20" y="237.62" width="23.45" height="6.80" fill="#84c3e2"/>
<rect x="384.30" y="237.62" width="23.45" height="6.80" fill="#84c3e2"/>
<rect x="407.40" y="237.62" width="23.45" height="6.80" fill="#84c3e2"/>
<rect x="84.00" y="244.07" width="23.45" height="6.80" fill="#4aa2d4"/>
<rect x="107.10" y="244.07" width="23.45" height="6.80" fill="#4aa2d4"/>
<rect x="130.20" y="244.07" width="23.45" height="6.80" fill="#4aa2d4"/>
<rect x="153.30" y="244.07" width="23.45" height="6.80" fill="#fde294"/>
<rect x="176.40" y="244.07" width="23.45" height="6.80" fill="#fde294"/>
<rect x="199.50" y="244.07" width="23.45" height="6.80" fill="#fdc877"/>
<rect x="222.60" y="244.07" width="23.45" height="6.80" fill="#fdc877"/>
<rect x="245.70" y="244.07" width="23.45" height="6.80" fill="#fdc877"/>
<rect x="268.80" y="244.07" width="23.45" height="6.80" fill="#fdc877"/>
<rect x="291.90" y="244.07" width="23.45" height="6.80" fill="#e3f2f3"/>
<rect x="315.00" y="244.07" width="23.45" height="6.80" fill="#c2e3ee"/>
<rect x="338.10" y="244.07" width="23.45" height="6.80" fill="#fcf3bd"/>
<rect x="361.20" y="244.07" width="23.45" height="6.80" fill="#84c3e2"/>
<rect x="384.30" y="244.07" width="23.45" height="6.80" fill="#84c3e2"/>
<rect x="407.40" y="244.07" width="23.45" height="6.80" fill="#84c3e2"/>
<rect x="84.00" y="250.52" width="23.45" height="6.80" fill="#4aa2d4"/>
<rect x="107.10" y="250.52" width="23.45" height="6.80" fill="#4aa2d4"/>
<rect x="130.20" y="250.52" width="23.45" height="6.80" fill="#4aa2d4"/>
<rect x="153.30" y="250.52" width="23.45" height="6.80" fill="#fde294"/>
<rect x="176.40" y="250.52" width="23.45" height="6.80" fill="#fde294"/>
<rect x="199.50" y="250.52" width="23.45" height="6.80" fill="#fdc877"/>
<rect x="222.60" y="250.52" width="23.45" height="6.80" fill="#fdc877"/>
<rect x="245.70" y="250.52" width="23.45" height="6.80" fill="#fdc877"/>
<rect x="268.80" y="250.52" width="23.45" height="6.80" fill="#fdc877"/>
<rect x="291.90" y="250.52" width="23.45" height="6.80" fill="#e3f2f3"/>
<rect x="315.00" y="250.52" width="23.45" height="6.80" fill="#c2e3ee"/>
<rect x="338.10" y="250.52" width="23.45" height="6.80" fill="#fcf3bd"/>
<rect x="361.20" y="250.52" width="23.45" height="6.80" fill="#84c3e2"/>
<rect x="384.30" y="250.52" width="23.45" height="6.80" fill="#4aa2d4"/>
<rect x="407.40" y="250.52" width="23.45" height="6.80" fill="#84c3e2"/>
<rect x="84.00" y="256.97" width="23.45" height="6.80" fill="#4aa2d4"/>
<rect x="107.10" y="256.97" width="23.45" height="6.80" fill="#4aa2d4"/>
<rect x="130.20" y="256.97" width="23.45" height="6.80" fill="#4aa2d4"/>
<rect x="153.30" y="256.97" width="23.45" height="6.80" fill="#fdc877"/>
<rect x="176.40" y="256.97" width="23.45" height="6.80" fill="#fde294"/>
<rect x="199.50" y="256.97" width="23.45" height="6.80" fill="#fde294"/>
<rect x="222.60" y="256.97" width="23.45" height="6.80" fill="#fba35c"/>
<rect x="245.70" y="256.97" width="23.45" height="6.80" fill="#fde294"/>
<rect x="268.80" y="256.97" width="23.45" height="6.80" fill="#fdc877"/>
<rect x="291.90" y="256.97" width="23.45" height="6.80" fill="#fcf3bd"/>
<rect x="315.00" y="256.97" width="23.45" height="6.80" fill="#c2e3ee"/>
<rect x="338.10" y="256.97" width="23.45" height="6.80" fill="#fde294"/>
<rect x="361.20" y="256.97" width="23.45" height="6.80" fill="#84c3e2"/>
<rect x="384.30" y="256.97" width="23.45" height="6.80" fill="#4aa2d4"/>
<rect x="407.40" y="256.97" width="23.45" height="6.80" fill="#4aa2d4"/>
<rect x="84.00" y="263.41" width="23.45" height="6.80" fill="#4aa2d4"/>
<rect x="107.10" y="263.41" width="23.45" height="6.80" fill="#4aa2d4"/>
<rect x="130.20" y="263.41" width="23.45" height="6.80" fill="#4aa2d4"/>
<rect x="153.30" y="263.41" width="23.45" height="6.80" fill="#fdc877"/>
<rect x="176.40" y="263.41" width="23.45" height="6.80" fill="#fde294"/>
<rect x="199.50" y="263.41" width="23.45" height="6.80" fill="#fde294"/>
<rect x="222.60" y="263.41" width="23.45" height="6.80" fill="#fdc877"/>
<rect x="245.70" y="263.41" width="23.45" height="6.80" fill="#fcf3bd"/>
<rect x="268.80" y="263.41" width="23.45" height="6.80" fill="#fde294"/>
<rect x="291.90" y="263.41" width="23.45" height="6.80" fill="#fcf3bd"/>
<rect x="315.00" y="263.41" width="23.45" height="6.80" fill="#e3f2f3"/>
<rect x="338.10" y="263.41" width="23.45" height="6.80" fill="#fde294"/>
<rect x="361.20" y="263.41" width="23.45" height="6.80" fill="#84c3e2"/>
<rect x="384.30" y="263.41" width="23.45" height="6.80" fill="#4aa2d4"/>
<rect x="407.40" y="263.41" width="23.45" height="6.80" fill="#c2e3ee"/>
<rect x="84.00" y="269.86" width="23.45" height="6.80" fill="#c2e3ee"/>
<rect x="107.10" y="269.86" width="23.45" height="6.80" fill="#84c3e2"/>
<rect x="130.20" y="269.86" width="23.45" height="6.80" fill="#84c3e2"/>
<rect x="153.30" y="269.86" width="23.45" height="6.80" fill="#fcf3bd"/>
<rect x="176.40" y="269.86" width="23.45" height="6.80" fill="#fba35c"/>
<rect x="199.50" y="269.86" width="23.45" height="6.80" fill="#fde294"/>
<rect x="222.60" y="269.86" width="23.45" height="6.80" fill="#2388c8"/>
<rect x="245.70" y="269.86" width="23.45" height="6.80" fill="#fdc877"/>
<rect x="268.80" y="269.86" width="23.45" height="6.80" fill="#c2e3ee"/>
<rect x="291.90" y="269.86" width="23.45" height="6.80" fill="#84c3e2"/>
<rect x="315.00" y="269.86" width="23.45" height="6.80" fill="#fdc877"/>
<rect x="338.10" y="269.86" width="23.45" height="6.80" fill="#fdc877"/>
<rect x="361.20" y="269.86" width="23.45" height="6.80" fill="#e3f2f3"/>
<rect x="384.30" y="269.86" width="23.45" height="6.80" fill="#2388c8"/>
<rect x="407.40" y="269.86" width="23.45" height="6.80" fill="#c2e3ee"/>
<rect x="84.00" y="276.31" width="23.45" height="6.80" fill="#e3f2f3"/>
<rect x="107.10" y="276.31" width="23.45" height="6.80" fill="#fcf3bd"/>
<rect x="130.20" y="276.31" width="23.45" height="6.80" fill="#fcf3bd"/>
<rect x="153.30" y="276.31" width="23.45" height="6.80" fill="#e3f2f3"/>
<rect x="176.40" y="276.31" width="23.45" height="6.80" fill="#fba35c"/>
<rect x="199.50" y="276.31" width="23.45" height="6.80" fill="#fcf3bd"/>
<rect x="222.60" y="276.31" width="23.45" height="6.80" fill="#fde294"/>
<rect x="245.70" y="276.31" width="23.45" height="6.80" fill="#fcf3bd"/>
<rect x="268.80" y="276.31" width="23.45" height="6.80" fill="#84c3e2"/>
<rect x="291.90" y="276.31" width="23.45" height="6.80" fill="#fcf3bd"/>
<rect x="315.00" y="276.31" width="23.45" height="6.80" fill="#fcf3bd"/>
<rect x="338.10" y="276.31" width="23.45" height="6.80" fill="#fcf3bd"/>
<rect x="361.20" y="276.31" width="23.45" height="6.80" fill="#4aa2d4"/>
<rect x="384.30" y="276.31" width="23.45" height="6.80" fill="#263f98"/>
<rect x="407.40" y="276.31" width="23.45" height="6.80" fill="#4aa2d4"/>
<rect x="84.00" y="282.76" width="23.45" height="6.80" fill="#4aa2d4"/>
<rect x="107.10" y="282.76" width="23.45" height="6.80" fill="#4aa2d4"/>
<rect x="130.20" y="282.76" width="23.45" height="6.80" fill="#84c3e2"/>
<rect x="153.30" y="282.76" width="23.45" height="6.80" fill="#fde294"/>
<rect x="176.40" y="282.76" width="23.45" height="6.80" fill="#fdc877"/>
<rect x="199.50" y="282.76" width="23.45" height="6.80" fill="#e3f2f3"/>
<rect x="222.60" y="282.76" width="23.45" height="6.80" fill="#f0522f"/>
<rect x="245.70" y="282.76" width="23.45" height="6.80" fill="#e3f2f3"/>
<rect x="268.80" y="282.76" width="23.45" height="6.80" fill="#fcf3bd"/>
<rect x="291.90" y="282.76" width="23.45" height="6.80" fill="#fde294"/>
<rect x="315.00" y="282.76" width="23.45" height="6.80" fill="#fcf3bd"/>
<rect x="338.10" y="282.76" width="23.45" height="6.80" fill="#fcf3bd"/>
<rect x="361.20" y="282.76" width="23.45" height="6.80" fill="#84c3e2"/>
<rect x="384.30" y="282.76" width="23.45" height="6.80" fill="#84c3e2"/>
<rect x="407.40" y="282.76" width="23.45" height="6.80" fill="#c2e3ee"/>
<rect x="84.00" y="289.20" width="23.45" height="6.80" fill="#84c3e2"/>
<rect x="107.10" y="289.20" width="23.45" height="6.80" fill="#84c3e2"/>
<rect x="130.20" y="289.20" width="23.45" height="6.80" fill="#84c3e2"/>
<rect x="153.30" y="289.20" width="23.45" height="6.80" fill="#fde294"/>
<rect x="176.40" y="289.20" width="23.45" height="6.80" fill="#fdc877"/>
<rect x="199.50" y="289.20" width="23.45" height="6.80" fill="#e3f2f3"/>
<rect x="222.60" y="289.20" width="23.45" height="6.80" fill="#fdc877"/>
<rect x="245.70" y="289.20" width="23.45" height="6.80" fill="#fcf3bd"/>
<rect x="268.80" y="289.20" width="23.45" height="6.80" fill="#fcf3bd"/>
<rect x="291.90" y="289.20" width="23.45" height="6.80" fill="#fde294"/>
<rect x="315.00" y="289.20" width="23.45" height="6.80" fill="#e3f2f3"/>
<rect x="338.10" y="289.20" width="23.45" height="6.80" fill="#fba35c"/>
<rect x="361.20" y="289.20" width="23.45" height="6.80" fill="#2388c8"/>
<rect x="384.30" y="289.20" width="23.45" height="6.80" fill="#1b72bd"/>
<rect x="407.40" y="289.20" width="23.45" height="6.80" fill="#c2e3ee"/>
<rect x="84.00" y="295.65" width="23.45" height="6.80" fill="#84c3e2"/>
<rect x="107.10" y="295.65" width="23.45" height="6.80" fill="#84c3e2"/>
<rect x="130.20" y="295.65" width="23.45" height="6.80" fill="#4aa2d4"/>
<rect x="153.30" y="295.65" width="23.45" height="6.80" fill="#fde294"/>
<rect x="176.40" y="295.65" width="23.45" height="6.80" fill="#fde294"/>
<rect x="199.50" y="295.65" width="23.45" height="6.80" fill="#fcf3bd"/>
<rect x="222.60" y="295.65" width="23.45" height="6.80" fill="#fdc877"/>
<rect x="245.70" y="295.65" width="23.45" height="6.80" fill="#fcf3bd"/>
<rect x="268.80" y="295.65" width="23.45" height="6.80" fill="#fcf3bd"/>
<rect x="291.90" y="295.65" width="23.45" height="6.80" fill="#fdc877"/>
<rect x="315.00" y="295.65" width="23.45" height="6.80" fill="#e3f2f3"/>
<rect x="338.10" y="295.65" width="23.45" height="6.80" fill="#fba35c"/>
<rect x="361.20" y="295.65" width="23.45" height="6.80" fill="#4aa2d4"/>
<rect x="384.30" y="295.65" width="23.45" height="6.80" fill="#2388c8"/>
<rect x="407.40" y="295.65" width="23.45" height="6.80" fill="#c2e3ee"/>
<rect x="84.00" y="302.10" width="23.45" height="6.80" fill="#84c3e2"/>
<rect x="107.10" y="302.10" width="23.45" height="6.80" fill="#c2e3ee"/>
<rect x="130.20" y="302.10" width="23.45" height="6.80" fill="#84c3e2"/>
<rect x="153.30" y="302.10" width="23.45" height="6.80" fill="#fcf3bd"/>
<rect x="176.40" y="302.10" width="23.45" height="6.80" fill="#e3f2f3"/>
<rect x="199.50" y="302.10" width="23.45" height="6.80" fill="#e3261f"/>
<rect x="222.60" y="302.10" width="23.45" height="6.80" fill="#c2e3ee"/>
<rect x="245.70" y="302.10" width="23.45" height="6.80" fill="#fcf3bd"/>
<rect x="268.80" y="302.10" width="23.45" height="6.80" fill="#fba35c"/>
<rect x="291.90" y="302.10" width="23.45" height="6.80" fill="#84c3e2"/>
<rect x="315.00" y="302.10" width="23.45" height="6.80" fill="#84c3e2"/>
<rect x="338.10" y="302.10" width="23.45" height="6.80" fill="#fde294"/>
<rect x="361.20" y="302.10" width="23.45" height="6.80" fill="#c2e3ee"/>
<rect x="384.30" y="302.10" width="23.45" height="6.80" fill="#84c3e2"/>
<rect x="407.40" y="302.10" width="23.45" height="6.80" fill="#4aa2d4"/>
<rect x="84.00" y="308.55" width="23.45" height="6.80" fill="#84c3e2"/>
<rect x="107.10" y="308.55" width="23.45" height="6.80" fill="#84c3e2"/>
<rect x="130.20" y="308.55" width="23.45" height="6.80" fill="#e3f2f3"/>
<rect x="153.30" y="308.55" width="23.45" height="6.80" fill="#e3f2f3"/>
<rect x="176.40" y="308.55" width="23.45" height="6.80" fill="#e3f2f3"/>
<rect x="199.50" y="308.55" width="23.45" height="6.80" fill="#e3261f"/>
<rect x="222.60" y="308.55" width="23.45" height="6.80" fill="#fcf3bd"/>
<rect x="245.70" y="308.55" width="23.45" height="6.80" fill="#fde294"/>
<rect x="268.80" y="308.55" width="23.45" height="6.80" fill="#fba35c"/>
<rect x="291.90" y="308.55" width="23.45" height="6.80" fill="#84c3e2"/>
<rect x="315.00" y="308.55" width="23.45" height="6.80" fill="#4aa2d4"/>
<rect x="338.10" y="308.55" width="23.45" height="6.80" fill="#84c3e2"/>
<rect x="361.20" y="308.55" width="23.45" height="6.80" fill="#84c3e2"/>
<rect x="384.30" y="308.55" width="23.45" height="6.80" fill="#e3f2f3"/>
<rect x="407.40" y="308.55" width="23.45" height="6.80" fill="#e3f2f3"/>
<rect x="84.00" y="314.99" width="23.45" height="6.80" fill="#84c3e2"/>
<rect x="107.10" y="314.99" width="23.45" height="6.80" fill="#84c3e2"/>
<rect x="130.20" y="314.99" width="23.45" height="6.80" fill="#84c3e2"/>
<rect x="153.30" y="314.99" width="23.45" height="6.80" fill="#e3f2f3"/>
<rect x="176.40" y="314.99" width="23.45" height="6.80" fill="#e3f2f3"/>
<rect x="199.50" y="314.99" width="23.45" height="6.80" fill="#f0522f"/>
<rect x="222.60" y="314.99" width="23.45" height="6.80" fill="#fcf3bd"/>
<rect x="245.70" y="314.99" width="23.45" height="6.80" fill="#fdc877"/>
<rect x="268.80" y="314.99" width="23.45" height="6.80" fill="#f7834a"/>
<rect x="291.90" y="314.99" width="23.45" height="6.80" fill="#c2e3ee"/>
<rect x="315.00" y="314.99" width="23.45" height="6.80" fill="#84c3e2"/>
<rect x="338.10" y="314.99" width="23.45" height="6.80" fill="#fde294"/>
<rect x="361.20" y="314.99" width="23.45" height="6.80" fill="#c2e3ee"/>
<rect x="384.30" y="314.99" width="23.45" height="6.80" fill="#c2e3ee"/>
<rect x="407.40" y="314.99" width="23.45" height="6.80" fill="#84c3e2"/>
<rect x="84.00" y="321.44" width="23.45" height="6.80" fill="#84c3e2"/>
<rect x="107.10" y="321.44" width="23.45" height="6.80" fill="#84c3e2"/>
<rect x="130.20" y="321.44" width="23.45" height="6.80" fill="#84c3e2"/>
<rect x="153.30" y="321.44" width="23.45" height="6.80" fill="#c2e3ee"/>
<rect x="176.40" y="321.44" width="23.45" height="6.80" fill="#84c3e2"/>
<rect x="199.50" y="321.44" width="23.45" height="6.80" fill="#e3f2f3"/>
<rect x="222.60" y="321.44" width="23.45" height="6.80" fill="#fcf3bd"/>
<rect x="245.70" y="321.44" width="23.45" height="6.80" fill="#e3f2f3"/>
<rect x="268.80" y="321.44" width="23.45" height="6.80" fill="#c9161f"/>
<rect x="291.90" y="321.44" width="23.45" height="6.80" fill="#c2e3ee"/>
<rect x="315.00" y="321.44" width="23.45" height="6.80" fill="#e3f2f3"/>
<rect x="338.10" y="321.44" width="23.45" height="6.80" fill="#c2e3ee"/>
<rect x="361.20" y="321.44" width="23.45" height="6.80" fill="#c2e3ee"/>
<rect x="384.30" y="321.44" width="23.45" height="6.80" fill="#fcf3bd"/>
<rect x="407.40" y="321.44" width="23.45" height="6.80" fill="#fdc877"/>
<rect x="84.00" y="327.89" width="23.45" height="6.80" fill="#84c3e2"/>
<rect x="107.10" y="327.89" width="23.45" height="6.80" fill="#e3f2f3"/>
<rect x="130.20" y="327.89" width="23.45" height="6.80" fill="#2388c8"/>
<rect x="153.30" y="327.89" width="23.45" height="6.80" fill="#c2e3ee"/>
<rect x="176.40" y="327.89" width="23.45" height="6.80" fill="#84c3e2"/>
<rect x="199.50" y="327.89" width="23.45" height="6.80" fill="#fdc877"/>
<rect x="222.60" y="327.89" width="23.45" height="6.80" fill="#84c3e2"/>
<rect x="245.70" y="327.89" width="23.45" height="6.80" fill="#fde294"/>
<rect x="268.80" y="327.89" width="23.45" height="6.80" fill="#e3261f"/>
<rect x="291.90" y="327.89" width="23.45" height="6.80" fill="#c2e3ee"/>
<rect x="315.00" y="327.89" width="23.45" height="6.80" fill="#c2e3ee"/>
<rect x="338.10" y="327.89" width="23.45" height="6.80" fill="#fde294"/>
<rect x="361.20" y="327.89" width="23.45" height="6.80" fill="#fde294"/>
<rect x="384.30" y="327.89" width="23.45" height="6.80" fill="#c2e3ee"/>
<rect x="407.40" y="327.89" width="23.45" height="6.80" fill="#c2e3ee"/>
<rect x="84.00" y="334.34" width="23.45" height="6.80" fill="#fcf3bd"/>
<rect x="107.10" y="334.34" width="23.45" height="6.80" fill="#fdc877"/>
<rect x="130.20" y="334.34" width="23.45" height="6.80" fill="#fcf3bd"/>
<rect x="153.30" y="334.34" width="23.45" height="6.80" fill="#84c3e2"/>
<rect x="176.40" y="334.34" width="23.45" height="6.80" fill="#e3f2f3"/>
<rect x="199.50" y="334.34" width="23.45" height="6.80" fill="#fba35c"/>
<rect x="222.60" y="334.34" width="23.45" height="6.80" fill="#e3f2f3"/>
<rect x="245.70" y="334.34" width="23.45" height="6.80" fill="#fba35c"/>
<rect x="268.80" y="334.34" width="23.45" height="6.80" fill="#fdc877"/>
<rect x="291.90" y="334.34" width="23.45" height="6.80" fill="#84c3e2"/>
<rect x="315.00" y="334.34" width="23.45" height="6.80" fill="#84c3e2"/>
<rect x="338.10" y="334.34" width="23.45" height="6.80" fill="#84c3e2"/>
<rect x="361.20" y="334.34" width="23.45" height="6.80" fill="#fcf3bd"/>
<rect x="384.30" y="334.34" width="23.45" height="6.80" fill="#84c3e2"/>
<rect x="407.40" y="334.34" width="23.45" height="6.80" fill="#1b72bd"/>
<rect x="84.00" y="340.78" width="23.45" height="6.80" fill="#c2e3ee"/>
<rect x="107.10" y="340.78" width="23.45" height="6.80" fill="#e3f2f3"/>
<rect x="130.20" y="340.78" width="23.45" height="6.80" fill="#2388c8"/>
<rect x="153.30" y="340.78" width="23.45" height="6.80" fill="#fcf3bd"/>
<rect x="176.40" y="340.78" width="23.45" height="6.80" fill="#e3f2f3"/>
<rect x="199.50" y="340.78" width="23.45" height="6.80" fill="#e3f2f3"/>
<rect x="222.60" y="340.78" width="23.45" height="6.80" fill="#fcf3bd"/>
<rect x="245.70" y="340.78" width="23.45" height="6.80" fill="#e3261f"/>
<rect x="268.80" y="340.78" width="23.45" height="6.80" fill="#fdc877"/>
<rect x="291.90" y="340.78" width="23.45" height="6.80" fill="#fcf3bd"/>
<rect x="315.00" y="340.78" width="23.45" height="6.80" fill="#fcf3bd"/>
<rect x="338.10" y="340.78" width="23.45" height="6.80" fill="#2388c8"/>
<rect x="361.20" y="340.78" width="23.45" height="6.80" fill="#c2e3ee"/>
<rect x="384.30" y="340.78" width="23.45" height="6.80" fill="#84c3e2"/>
<rect x="407.40" y="340.78" width="23.45" height="6.80" fill="#84c3e2"/>
<rect x="84.00" y="347.23" width="23.45" height="6.80" fill="#e3f2f3"/>
<rect x="107.10" y="347.23" width="23.45" height="6.80" fill="#e3f2f3"/>
<rect x="130.20" y="347.23" width="23.45" height="6.80" fill="#84c3e2"/>
<rect x="153.30" y="347.23" width="23.45" height="6.80" fill="#c2e3ee"/>
<rect x="176.40" y="347.23" width="23.45" height="6.80" fill="#84c3e2"/>
<rect x="199.50" y="347.23" width="23.45" height="6.80" fill="#fdc877"/>
<rect x="222.60" y="347.23" width="23.45" height="6.80" fill="#fde294"/>
<rect x="245.70" y="347.23" width="23.45" height="6.80" fill="#f0522f"/>
<rect x="268.80" y="347.23" width="23.45" height="6.80" fill="#fdc877"/>
<rect x="291.90" y="347.23" width="23.45" height="6.80" fill="#fde294"/>
<rect x="315.00" y="347.23" width="23.45" height="6.80" fill="#84c3e2"/>
<rect x="338.10" y="347.23" width="23.45" height="6.80" fill="#e3f2f3"/>
<rect x="361.20" y="347.23" width="23.45" height="6.80" fill="#84c3e2"/>
<rect x="384.30" y="347.23" width="23.45" height="6.80" fill="#84c3e2"/>
<rect x="407.40" y="347.23" width="23.45" height="6.80" fill="#4aa2d4"/>
<rect x="84.00" y="353.68" width="23.45" height="6.80" fill="#84c3e2"/>
<rect x="107.10" y="353.68" width="23.45" height="6.80" fill="#84c3e2"/>
<rect x="130.20" y="353.68" width="23.45" height="6.80" fill="#e3f2f3"/>
<rect x="153.30" y="353.68" width="23.45" height="6.80" fill="#c2e3ee"/>
<rect x="176.40" y="353.68" width="23.45" height="6.80" fill="#84c3e2"/>
<rect x="199.50" y="353.68" width="23.45" height="6.80" fill="#f7834a"/>
<rect x="222.60" y="353.68" width="23.45" height="6.80" fill="#fde294"/>
<rect x="245.70" y="353.68" width="23.45" height="6.80" fill="#f0522f"/>
<rect x="268.80" y="353.68" width="23.45" height="6.80" fill="#fde294"/>
<rect x="291.90" y="353.68" width="23.45" height="6.80" fill="#c2e3ee"/>
<rect x="315.00" y="353.68" width="23.45" height="6.80" fill="#84c3e2"/>
<rect x="338.10" y="353.68" width="23.45" height="6.80" fill="#e3f2f3"/>
<rect x="361.20" y="353.68" width="23.45" height="6.80" fill="#c2e3ee"/>
<rect x="384.30" y="353.68" width="23.45" height="6.80" fill="#84c3e2"/>
<rect x="407.40" y="353.68" width="23.45" height="6.80" fill="#84c3e2"/>
<rect x="84.00" y="360.13" width="23.45" height="6.80" fill="#84c3e2"/>
<rect x="107.10" y="360.13" width="23.45" height="6.80" fill="#84c3e2"/>
<rect x="130.20" y="360.13" width="23.45" height="6.80" fill="#4aa2d4"/>
<rect x="153.30" y="360.13" width="23.45" height="6.80" fill="#fcf3bd"/>
<rect x="176.40" y="360.13" width="23.45" height="6.80" fill="#84c3e2"/>
<rect x="199.50" y="360.13" width="23.45" height="6.80" fill="#fcf3bd"/>
<rect x="222.60" y="360.13" width="23.45" height="6.80" fill="#fcf3bd"/>
<rect x="245.70" y="360.13" width="23.45" height="6.80" fill="#f7834a"/>
<rect x="268.80" y="360.13" width="23.45" height="6.80" fill="#fdc877"/>
<rect x="291.90" y="360.13" width="23.45" height="6.80" fill="#c2e3ee"/>
<rect x="315.00" y="360.13" width="23.45" height="6.80" fill="#84c3e2"/>
<rect x="338.10" y="360.13" width="23.45" height="6.80" fill="#f0522f"/>
<rect x="361.20" y="360.13" width="23.45" height="6.80" fill="#c2e3ee"/>
<rect x="384.30" y="360.13" width="23.45" height="6.80" fill="#4aa2d4"/>
<rect x="407.40" y="360.13" width="23.45" height="6.80" fill="#84c3e2"/>
<rect x="84.00" y="366.57" width="23.45" height="6.80" fill="#4aa2d4"/>
<rect x="107.10" y="366.57" width="23.45" height="6.80" fill="#4aa2d4"/>
<rect x="130.20" y="366.57" width="23.45" height="6.80" fill="#4aa2d4"/>
<rect x="153.30" y="366.57" width="23.45" height="6.80" fill="#c2e3ee"/>
<rect x="176.40" y="366.57" width="23.45" height="6.80" fill="#84c3e2"/>
<rect x="199.50" y="366.57" width="23.45" height="6.80" fill="#fde294"/>
<rect x="222.60" y="366.57" width="23.45" height="6.80" fill="#c2e3ee"/>
<rect x="245.70" y="366.57" width="23.45" height="6.80" fill="#fba35c"/>
<rect x="268.80" y="366.57" width="23.45" height="6.80" fill="#f7834a"/>
<rect x="291.90" y="366.57" width="23.45" height="6.80" fill="#fdc877"/>
<rect x="315.00" y="366.57" width="23.45" height="6.80" fill="#e3f2f3"/>
<rect x="338.10" y="366.57" width="23.45" height="6.80" fill="#fba35c"/>
<rect x="361.20" y="366.57" width="23.45" height="6.80" fill="#84c3e2"/>
<rect x="384.30" y="366.57" width="23.45" height="6.80" fill="#84c3e2"/>
<rect x="407.40" y="366.57" width="23.45" height="6.80" fill="#84c3e2"/>
<rect x="84.00" y="373.02" width="23.45" height="6.80" fill="#84c3e2"/>
<rect x="107.10" y="373.02" width="23.45" height="6.80" fill="#84c3e2"/>
<rect x="130.20" y="373.02" width="23.45" height="6.80" fill="#4aa2d4"/>
<rect x="153.30" y="373.02" width="23.45" height="6.80" fill="#fcf3bd"/>
<rect x="176.40" y="373.02" width="23.45" height="6.80" fill="#84c3e2"/>
<rect x="199.50" y="373.02" width="23.45" height="6.80" fill="#fde294"/>
<rect x="222.60" y="373.02" width="23.45" height="6.80" fill="#fdc877"/>
<rect x="245.70" y="373.02" width="23.45" height="6.80" fill="#fba35c"/>
<rect x="268.80" y="373.02" width="23.45" height="6.80" fill="#fba35c"/>
<rect x="291.90" y="373.02" width="23.45" height="6.80" fill="#fdc877"/>
<rect x="315.00" y="373.02" width="23.45" height="6.80" fill="#84c3e2"/>
<rect x="338.10" y="373.02" width="23.45" height="6.80" fill="#fba35c"/>
<rect x="361.20" y="373.02" width="23.45" height="6.80" fill="#84c3e2"/>
<rect x="384.30" y="373.02" width="23.45" height="6.80" fill="#4aa2d4"/>
<rect x="407.40" y="373.02" width="23.45" height="6.80" fill="#4aa2d4"/>
<rect x="84.00" y="379.47" width="23.45" height="6.80" fill="#84c3e2"/>
<rect x="107.10" y="379.47" width="23.45" height="6.80" fill="#e3f2f3"/>
<rect x="130.20" y="379.47" width="23.45" height="6.80" fill="#4aa2d4"/>
<rect x="153.30" y="379.47" width="23.45" height="6.80" fill="#c2e3ee"/>
<rect x="176.40" y="379.47" width="23.45" height="6.80" fill="#c2e3ee"/>
<rect x="199.50" y="379.47" width="23.45" height="6.80" fill="#fde294"/>
<rect x="222.60" y="379.47" width="23.45" height="6.80" fill="#e3f2f3"/>
<rect x="245.70" y="379.47" width="23.45" height="6.80" fill="#f0522f"/>
<rect x="268.80" y="379.47" width="23.45" height="6.80" fill="#fba35c"/>
<rect x="291.90" y="379.47" width="23.45" height="6.80" fill="#fcf3bd"/>
<rect x="315.00" y="379.47" width="23.45" height="6.80" fill="#84c3e2"/>
<rect x="338.10" y="379.47" width="23.45" height="6.80" fill="#fdc877"/>
<rect x="361.20" y="379.47" width="23.45" height="6.80" fill="#84c3e2"/>
<rect x="384.30" y="379.47" width="23.45" height="6.80" fill="#84c3e2"/>
<rect x="407.40" y="379.47" width="23.45" height="6.80" fill="#4aa2d4"/>
<rect x="84.00" y="385.92" width="23.45" height="6.80" fill="#4aa2d4"/>
<rect x="107.10" y="385.92" width="23.45" height="6.80" fill="#84c3e2"/>
<rect x="130.20" y="385.92" width="23.45" height="6.80" fill="#84c3e2"/>
<rect x="153.30" y="385.92" width="23.45" height="6.80" fill="#e3f2f3"/>
<rect x="176.40" y="385.92" width="23.45" height="6.80" fill="#fcf3bd"/>
<rect x="199.50" y="385.92" width="23.45" height="6.80" fill="#fcf3bd"/>
<rect x="222.60" y="385.92" width="23.45" height="6.80" fill="#fde294"/>
<rect x="245.70" y="385.92" width="23.45" height="6.80" fill="#f0522f"/>
<rect x="268.80" y="385.92" width="23.45" height="6.80" fill="#fba35c"/>
<rect x="291.90" y="385.92" width="23.45" height="6.80" fill="#fcf3bd"/>
<rect x="315.00" y="385.92" width="23.45" height="6.80" fill="#c2e3ee"/>
<rect x="338.10" y="385.92" width="23.45" height="6.80" fill="#fcf3bd"/>
<rect x="361.20" y="385.92" width="23.45" height="6.80" fill="#84c3e2"/>
<rect x="384.30" y="385.92" width="23.45" height="6.80" fill="#84c3e2"/>
<rect x="407.40" y="385.92" width="23.45" height="6.80" fill="#84c3e2"/>
<rect x="84.00" y="392.36" width="23.45" height="6.80" fill="#84c3e2"/>
<rect x="107.10" y="392.36" width="23.45" height="6.80" fill="#84c3e2"/>
<rect x="130.20" y="392.36" width="23.45" height="6.80" fill="#84c3e2"/>
<rect x="153.30" y="392.36" width="23.45" height="6.80" fill="#fcf3bd"/>
<rect x="176.40" y="392.36" width="23.45" height="6.80" fill="#fde294"/>
<rect x="199.50" y="392.36" width="23.45" height="6.80" fill="#fde294"/>
<rect x="222.60" y="392.36" width="23.45" height="6.80" fill="#fcf3bd"/>
<rect x="245.70" y="392.36" width="23.45" height="6.80" fill="#fdc877"/>
<rect x="268.80" y="392.36" width="23.45" height="6.80" fill="#f0522f"/>
<rect x="291.90" y="392.36" width="23.45" height="6.80" fill="#fcf3bd"/>
<rect x="315.00" y="392.36" width="23.45" height="6.80" fill="#c2e3ee"/>
<rect x="338.10" y="392.36" width="23.45" height="6.80" fill="#e3f2f3"/>
<rect x="361.20" y="392.36" width="23.45" height="6.80" fill="#4aa2d4"/>
<rect x="384.30" y="392.36" width="23.45" height="6.80" fill="#84c3e2"/>
<rect x="407.40" y="392.36" width="23.45" height="6.80" fill="#4aa2d4"/>
<rect x="84.00" y="398.81" width="23.45" height="6.80" fill="#84c3e2"/>
<rect x="107.10" y="398.81" width="23.45" height="6.80" fill="#e3f2f3"/>
<rect x="130.20" y="398.81" width="23.45" height="6.80" fill="#84c3e2"/>
<rect x="153.30" y="398.81" width="23.45" height="6.80" fill="#c2e3ee"/>
<rect x="176.40" y="398.81" width="23.45" height="6.80" fill="#c2e3ee"/>
<rect x="199.50" y="398.81" width="23.45" height="6.80" fill="#e3f2f3"/>
<rect x="222.60" y="398.81" width="23.45" height="6.80" fill="#c2e3ee"/>
<rect x="245.70" y="398.81" width="23.45" height="6.80" fill="#e3261f"/>
<rect x="268.80" y="398.81" width="23.45" height="6.80" fill="#f0522f"/>
<rect x="291.90" y="398.81" width="23.45" height="6.80" fill="#e3f2f3"/>
<rect x="315.00" y="398.81" width="23.45" height="6.80" fill="#84c3e2"/>
<rect x="338.10" y="398.81" width="23.45" height="6.80" fill="#fde294"/>
<rect x="361.20" y="398.81" width="23.45" height="6.80" fill="#84c3e2"/>
<rect x="384.30" y="398.81" width="23.45" height="6.80" fill="#c2e3ee"/>
<rect x="407.40" y="398.81" width="23.45" height="6.80" fill="#c2e3ee"/>
<rect x="84.00" y="405.26" width="23.45" height="6.80" fill="#84c3e2"/>
<rect x="107.10" y="405.26" width="23.45" height="6.80" fill="#e3f2f3"/>
<rect x="130.20" y="405.26" width="23.45" height="6.80" fill="#2388c8"/>
<rect x="153.30" y="405.26" width="23.45" height="6.80" fill="#c2e3ee"/>
<rect x="176.40" y="405.26" width="23.45" height="6.80" fill="#c2e3ee"/>
<rect x="199.50" y="405.26" width="23.45" height="6.80" fill="#fde294"/>
<rect x="222.60" y="405.26" width="23.45" height="6.80" fill="#fcf3bd"/>
<rect x="245.70" y="405.26" width="23.45" height="6.80" fill="#f0522f"/>
<rect x="268.80" y="405.26" width="23.45" height="6.80" fill="#fba35c"/>
<rect x="291.90" y="405.26" width="23.45" height="6.80" fill="#fdc877"/>
<rect x="315.00" y="405.26" width="23.45" height="6.80" fill="#84c3e2"/>
<rect x="338.10" y="405.26" width="23.45" height="6.80" fill="#e3f2f3"/>
<rect x="361.20" y="405.26" width="23.45" height="6.80" fill="#84c3e2"/>
<rect x="384.30" y="405.26" width="23.45" height="6.80" fill="#c2e3ee"/>
<rect x="407.40" y="405.26" width="23.45" height="6.80" fill="#fcf3bd"/>
<rect x="84.00" y="411.71" width="23.45" height="6.80" fill="#e3f2f3"/>
<rect x="107.10" y="411.71" width="23.45" height="6.80" fill="#f0522f"/>
<rect x="130.20" y="411.71" width="23.45" height="6.80" fill="#84c3e2"/>
<rect x="153.30" y="411.71" width="23.45" height="6.80" fill="#fcf3bd"/>
<rect x="176.40" y="411.71" width="23.45" height="6.80" fill="#c2e3ee"/>
<rect x="199.50" y="411.71" width="23.45" height="6.80" fill="#e3f2f3"/>
<rect x="222.60" y="411.71" width="23.45" height="6.80" fill="#84c3e2"/>
<rect x="245.70" y="411.71" width="23.45" height="6.80" fill="#fcf3bd"/>
<rect x="268.80" y="411.71" width="23.45" height="6.80" fill="#fde294"/>
<rect x="291.90" y="411.71" width="23.45" height="6.80" fill="#fdc877"/>
<rect x="315.00" y="411.71" width="23.45" height="6.80" fill="#4aa2d4"/>
<rect x="338.10" y="411.71" width="23.45" height="6.80" fill="#fde294"/>
<rect x="361.20" y="411.71" width="23.45" height="6.80" fill="#84c3e2"/>
<rect x="384.30" y="411.71" width="23.45" height="6.80" fill="#4aa2d4"/>
<rect x="407.40" y="411.71" width="23.45" height="6.80" fill="#84c3e2"/>
<rect x="84.00" y="418.15" width="23.45" height="6.80" fill="#fdc877"/>
<rect x="107.10" y="418.15" width="23.45" height="6.80" fill="#84c3e2"/>
<rect x="130.20" y="418.15" width="23.45" height="6.80" fill="#4aa2d4"/>
<rect x="153.30" y="418.15" width="23.45" height="6.80" fill="#e3f2f3"/>
<rect x="176.40" y="418.15" width="23.45" height="6.80" fill="#c2e3ee"/>
<rect x="199.50" y="418.15" width="23.45" height="6.80" fill="#e3f2f3"/>
<rect x="222.60" y="418.15" width="23.45" height="6.80" fill="#84c3e2"/>
<rect x="245.70" y="418.15" width="23.45" height="6.80" fill="#fcf3bd"/>
<rect x="268.80" y="418.15" width="23.45" height="6.80" fill="#f7834a"/>
<rect x="291.90" y="418.15" width="23.45" height="6.80" fill="#f7834a"/>
<rect x="315.00" y="418.15" width="23.45" height="6.80" fill="#c2e3ee"/>
<rect x="338.10" y="418.15" width="23.45" height="6.80" fill="#fcf3bd"/>
<rect x="361.20" y="418.15" width="23.45" height="6.80" fill="#4aa2d4"/>
<rect x="384.30" y="418.15" width="23.45" height="6.80" fill="#84c3e2"/>
<rect x="407.40" y="418.15" width="23.45" height="6.80" fill="#84c3e2"/>
<text x="432.9" y="50.12" class="rl">hspb6</text>
<text x="432.9" y="56.57" class="rl">racgap1</text>
<text x="432.9" y="63.02" class="rl">LOC103393663</text>
<text x="432.9" y="69.47" class="rl">jak2</text>
<text x="432.9" y="75.91" class="rl">LOC103387754</text>
<text x="432.9" y="82.36" class="rl">LOC103393669</text>
<text x="432.9" y="88.81" class="rl">LOC103377636</text>
<text x="432.9" y="95.26" class="rl">LOC103386947</text>
<text x="432.9" y="101.70" class="rl">cga</text>
<text x="432.9" y="108.15" class="rl">LOC103386559</text>
<text x="432.9" y="114.60" class="rl">pgr</text>
<text x="432.9" y="121.05" class="rl">LOC103380837</text>
<text x="432.9" y="127.49" class="rl">rpgr</text>
<text x="432.9" y="133.94" class="rl">dnajb12</text>
<text x="432.9" y="140.39" class="rl">pgrmc2</text>
<text x="432.9" y="146.84" class="rl">hsp90b1</text>
<text x="432.9" y="153.28" class="rl">dnajb11</text>
<text x="432.9" y="159.73" class="rl">LOC103394639</text>
<text x="432.9" y="166.18" class="rl">LOC103381447</text>
<text x="432.9" y="172.63" class="rl">ppid</text>
<text x="432.9" y="179.07" class="rl">pdia6</text>
<text x="432.9" y="185.52" class="rl">eif2ak3</text>
<text x="432.9" y="191.97" class="rl">LOC103380989</text>
<text x="432.9" y="198.42" class="rl">LOC103380891</text>
<text x="432.9" y="204.86" class="rl">fkbp4</text>
<text x="432.9" y="211.31" class="rl">LOC103396237</text>
<text x="432.9" y="217.76" class="rl">LOC103380988</text>
<text x="432.9" y="224.21" class="rl">LOC103395219</text>
<text x="432.9" y="230.65" class="rl">LOC103395051</text>
<text x="432.9" y="237.10" class="rl">hspa5</text>
<text x="432.9" y="243.55" class="rl">LOC103377625</text>
<text x="432.9" y="249.99" class="rl">ahsa1</text>
<text x="432.9" y="256.44" class="rl">dnajb1</text>
<text x="432.9" y="262.89" class="rl">LOC103392725</text>
<text x="432.9" y="269.34" class="rl">hspa4l</text>
<text x="432.9" y="275.78" class="rl">LOC103378288</text>
<text x="432.9" y="282.23" class="rl">LOC103384081</text>
<text x="432.9" y="288.68" class="rl">ero1b</text>
<text x="432.9" y="295.13" class="rl">LOC103387590</text>
<text x="432.9" y="301.57" class="rl">LOC103386688</text>
<text x="432.9" y="308.02" class="rl">LOC103396898</text>
<text x="432.9" y="314.47" class="rl">gng8</text>
<text x="432.9" y="320.92" class="rl">LOC103398721</text>
<text x="432.9" y="327.36" class="rl">LOC103388515</text>
<text x="432.9" y="333.81" class="rl">LOC103383721</text>
<text x="432.9" y="340.26" class="rl">pgrmc1</text>
<text x="432.9" y="346.71" class="rl">LOC103377387</text>
<text x="432.9" y="353.15" class="rl">ptgs2</text>
<text x="432.9" y="359.60" class="rl">LOC103392444</text>
<text x="432.9" y="366.05" class="rl">LOC103384160</text>
<text x="432.9" y="372.50" class="rl">LOC103398866</text>
<text x="432.9" y="378.94" class="rl">LOC103385629</text>
<text x="432.9" y="385.39" class="rl">LOC103380734</text>
<text x="432.9" y="391.84" class="rl">LOC103388203</text>
<text x="432.9" y="398.29" class="rl">cxcr4</text>
<text x="432.9" y="404.73" class="rl">LOC103380804</text>
<text x="432.9" y="411.18" class="rl">LOC103397862</text>
<text x="432.9" y="417.63" class="rl">socs3</text>
<text x="432.9" y="424.08" class="rl">tshr</text>
<text x="95.55" y="432.80" class="cl" text-anchor="middle">CT1</text>
<text x="118.65" y="432.80" class="cl" text-anchor="middle">CT2</text>
<text x="141.75" y="432.80" class="cl" text-anchor="middle">CT3</text>
<text x="164.85" y="432.80" class="cl" text-anchor="middle">HS1h1</text>
<text x="187.95" y="432.80" class="cl" text-anchor="middle">HS1h2</text>
<text x="211.05" y="432.80" class="cl" text-anchor="middle">HS1h3</text>
<text x="234.15" y="432.80" class="cl" text-anchor="middle">HS2h1</text>
<text x="257.25" y="432.80" class="cl" text-anchor="middle">HS2h2</text>
<text x="280.35" y="432.80" class="cl" text-anchor="middle">HS2h3</text>
<text x="303.45" y="432.80" class="cl" text-anchor="middle">HS3h1</text>
<text x="326.55" y="432.80" class="cl" text-anchor="middle">HS3h2</text>
<text x="349.65" y="432.80" class="cl" text-anchor="middle">HS3h3</text>
<text x="372.75" y="432.80" class="cl" text-anchor="middle">HS5h1</text>
<text x="395.85" y="432.80" class="cl" text-anchor="middle">HS5h2</text>
<text x="418.95" y="432.80" class="cl" text-anchor="middle">HS5h3</text>
<rect x="485" y="34.7" width="7.1" height="103.89999999999999" fill="url(#cbf)"/>
<text x="495.8" y="40.76" class="tick">3</text>
<text x="495.8" y="59.05" class="tick">2</text>
<text x="495.8" y="77.34" class="tick">1</text>
<text x="495.8" y="95.64" class="tick">0</text>
<text x="495.8" y="113.93" class="tick">−1</text>
<text x="495.8" y="132.22" class="tick">−2</text>
<text x="510.6" y="39.6" class="grp">group</text>
<rect x="510.3" y="42.00" width="10.6" height="10.0" fill="#1c4fa6"/>
<text x="524.9" y="50.50" class="leg">CT</text>
<rect x="510.3" y="51.95" width="10.6" height="10.0" fill="#f6704a"/>
<text x="524.9" y="60.45" class="leg">HS1h</text>
<rect x="510.3" y="61.90" width="10.6" height="10.0" fill="#14b026"/>
<text x="524.9" y="70.40" class="leg">HS2h</text>
<rect x="510.3" y="71.85" width="10.6" height="10.0" fill="#fa1220"/>
<text x="524.9" y="80.35" class="leg">HS3h</text>
<rect x="510.3" y="81.80" width="10.6" height="10.0" fill="#6a3b9e"/>
<text x="524.9" y="90.30" class="leg">HS5h</text>
<path class="dg" d="M72.20,47.42V53.87M72.20,47.42H83.60M72.20,53.87H83.60M78.30,60.32V66.77M78.30,60.32H83.60M78.30,66.77H83.60M81.40,73.21V79.66M81.40,73.21H83.60M81.40,79.66H83.60M83.00,99.00V105.45M83.00,99.00H83.60M83.00,105.45H83.60M82.00,92.56V102.23M82.00,92.56H83.60M82.00,102.23H83.00M81.00,86.11V97.39M81.00,86.11H83.60M81.00,97.39H82.00M77.40,76.44V91.75M77.40,76.44H81.40M77.40,91.75H81.00M76.50,111.90V118.35M76.50,111.90H83.60M76.50,118.35H83.60M74.20,84.09V115.12M74.20,84.09H77.40M74.20,115.12H76.50M71.00,63.54V99.61M71.00,63.54H78.30M71.00,99.61H74.20M68.80,50.65V81.58M68.80,50.65H72.20M68.80,81.58H71.00M72.00,124.79V131.24M72.00,124.79H83.60M72.00,131.24H83.60M78.25,144.14V150.58M78.25,144.14H83.60M78.25,150.58H83.60M75.10,137.69V147.36M75.10,137.69H83.60M75.10,147.36H78.25M79.60,169.93V176.37M79.60,169.93H83.60M79.60,176.37H83.60M78.70,163.48V173.15M78.70,163.48H83.60M78.70,173.15H79.60M79.60,189.27V195.72M79.60,189.27H83.60M79.60,195.72H83.60M76.90,182.82V192.49M76.90,182.82H83.60M76.90,192.49H79.60M75.60,168.31V187.66M75.60,168.31H78.70M75.60,187.66H76.90M73.30,157.03V177.98M73.30,157.03H83.60M73.30,177.98H75.60M71.05,142.52V167.51M71.05,142.52H75.10M71.05,167.51H73.30M58.50,128.02V155.02M58.50,128.02H72.00M58.50,155.02H71.05M83.00,221.51V227.95M83.00,221.51H83.60M83.00,227.95H83.60M82.10,215.06V224.73M82.10,215.06H83.60M82.10,224.73H83.00M81.20,208.61V219.89M81.20,208.61H83.60M81.20,219.89H82.10M79.00,202.16V214.25M79.00,202.16H83.60M79.00,214.25H81.20M82.50,240.85V247.29M82.50,240.85H83.60M82.50,247.29H83.60M83.00,260.19V266.64M83.00,260.19H83.60M83.00,266.64H83.60M82.00,253.74V263.41M82.00,253.74H83.60M82.00,263.41H83.00M81.50,244.07V258.58M81.50,244.07H82.50M81.50,258.58H82.00M78.50,234.40V251.32M78.50,234.40H83.60M78.50,251.32H81.50M74.50,208.21V242.86M74.50,208.21H79.00M74.50,242.86H78.50M81.00,292.43V298.87M81.00,292.43H83.60M81.00,298.87H83.60M77.40,285.98V295.65M77.40,285.98H83.60M77.40,295.65H81.00M73.30,279.53V290.82M73.30,279.53H83.60M73.30,290.82H77.40M70.60,273.08V285.17M70.60,273.08H83.60M70.60,285.17H73.30M67.30,225.53V279.13M67.30,225.53H74.50M67.30,279.13H70.60M78.70,311.77V318.22M78.70,311.77H83.60M78.70,318.22H83.60M77.40,305.32V314.99M77.40,305.32H83.60M77.40,314.99H78.70M75.60,324.66V331.11M75.60,324.66H83.60M75.60,331.11H83.60M71.05,310.16V327.89M71.05,310.16H77.40M71.05,327.89H75.60M78.70,350.45V356.90M78.70,350.45H83.60M78.70,356.90H83.60M76.00,344.01V353.68M76.00,344.01H83.60M76.00,353.68H78.70M74.20,337.56V348.84M74.20,337.56H83.60M74.20,348.84H76.00M81.40,382.69V389.14M81.40,382.69H83.60M81.40,389.14H83.60M80.50,376.24V385.92M80.50,376.24H83.60M80.50,385.92H81.40M79.60,369.80V381.08M79.60,369.80H83.60M79.60,381.08H80.50M77.30,363.35V375.44M77.30,363.35H83.60M77.30,375.44H79.60M78.70,402.03V408.48M78.70,402.03H83.60M78.70,408.48H83.60M76.40,395.59V405.26M76.40,395.59H83.60M76.40,405.26H78.70M75.40,369.39V400.42M75.40,369.39H77.30M75.40,400.42H76.40M74.00,414.93V421.38M74.00,414.93H83.60M74.00,421.38H83.60M70.20,384.91V418.15M70.20,384.91H75.40M70.20,418.15H74.00M68.30,343.20V401.53M68.30,343.20H74.20M68.30,401.53H70.20M67.50,319.02V372.37M67.50,319.02H71.05M67.50,372.37H68.30M54.40,252.33V345.69M54.40,252.33H67.30M54.40,345.69H67.50M47.20,141.52V299.01M47.20,141.52H58.50M47.20,299.01H54.40M45.00,66.11V220.26M45.00,66.11H68.80M45.00,220.26H47.20"/>
<text x="214.4" y="461.6" class="title">Male Heatmap Plot</text>
<text x="6.8" y="462.5" class="letter">B</text>
<rect x="84.00" y="483.00" width="69.60" height="7" fill="#1c4fa6"/>
<rect x="153.30" y="483.00" width="69.60" height="7" fill="#f6704a"/>
<rect x="222.60" y="483.00" width="69.60" height="7" fill="#14b026"/>
<rect x="291.90" y="483.00" width="69.60" height="7" fill="#fa1220"/>
<rect x="361.20" y="483.00" width="69.60" height="7" fill="#6a3b9e"/>
<text x="433" y="489" class="grp">group</text>
<rect x="84.00" y="492.30" width="23.45" height="6.03" fill="#fde294"/>
<rect x="107.10" y="492.30" width="23.45" height="6.03" fill="#fde294"/>
<rect x="130.20" y="492.30" width="23.45" height="6.03" fill="#fba35c"/>
<rect x="153.30" y="492.30" width="23.45" height="6.03" fill="#84c3e2"/>
<rect x="176.40" y="492.30" width="23.45" height="6.03" fill="#c2e3ee"/>
<rect x="199.50" y="492.30" width="23.45" height="6.03" fill="#84c3e2"/>
<rect x="222.60" y="492.30" width="23.45" height="6.03" fill="#4aa2d4"/>
<rect x="245.70" y="492.30" width="23.45" height="6.03" fill="#84c3e2"/>
<rect x="268.80" y="492.30" width="23.45" height="6.03" fill="#84c3e2"/>
<rect x="291.90" y="492.30" width="23.45" height="6.03" fill="#e3f2f3"/>
<rect x="315.00" y="492.30" width="23.45" height="6.03" fill="#84c3e2"/>
<rect x="338.10" y="492.30" width="23.45" height="6.03" fill="#c2e3ee"/>
<rect x="361.20" y="492.30" width="23.45" height="6.03" fill="#fde294"/>
<rect x="384.30" y="492.30" width="23.45" height="6.03" fill="#c2e3ee"/>
<rect x="407.40" y="492.30" width="23.45" height="6.03" fill="#fde294"/>
<rect x="84.00" y="497.98" width="23.45" height="6.03" fill="#fdc877"/>
<rect x="107.10" y="497.98" width="23.45" height="6.03" fill="#fba35c"/>
<rect x="130.20" y="497.98" width="23.45" height="6.03" fill="#fdc877"/>
<rect x="153.30" y="497.98" width="23.45" height="6.03" fill="#84c3e2"/>
<rect x="176.40" y="497.98" width="23.45" height="6.03" fill="#c2e3ee"/>
<rect x="199.50" y="497.98" width="23.45" height="6.03" fill="#84c3e2"/>
<rect x="222.60" y="497.98" width="23.45" height="6.03" fill="#84c3e2"/>
<rect x="245.70" y="497.98" width="23.45" height="6.03" fill="#c2e3ee"/>
<rect x="268.80" y="497.98" width="23.45" height="6.03" fill="#84c3e2"/>
<rect x="291.90" y="497.98" width="23.45" height="6.03" fill="#84c3e2"/>
<rect x="315.00" y="497.98" width="23.45" height="6.03" fill="#4aa2d4"/>
<rect x="338.10" y="497.98" width="23.45" height="6.03" fill="#4aa2d4"/>
<rect x="361.20" y="497.98" width="23.45" height="6.03" fill="#fde294"/>
<rect x="384.30" y="497.98" width="23.45" height="6.03" fill="#c2e3ee"/>
<rect x="407.40" y="497.98" width="23.45" height="6.03" fill="#fcf3bd"/>
<rect x="84.00" y="503.67" width="23.45" height="6.03" fill="#fde294"/>
<rect x="107.10" y="503.67" width="23.45" height="6.03" fill="#fde294"/>
<rect x="130.20" y="503.67" width="23.45" height="6.03" fill="#c2e3ee"/>
<rect x="153.30" y="503.67" width="23.45" height="6.03" fill="#2388c8"/>
<rect x="176.40" y="503.67" width="23.45" height="6.03" fill="#fdc877"/>
<rect x="199.50" y="503.67" width="23.45" height="6.03" fill="#4aa2d4"/>
<rect x="222.60" y="503.67" width="23.45" height="6.03" fill="#84c3e2"/>
<rect x="245.70" y="503.67" width="23.45" height="6.03" fill="#c2e3ee"/>
<rect x="268.80" y="503.67" width="23.45" height="6.03" fill="#2388c8"/>
<rect x="291.90" y="503.67" width="23.45" height="6.03" fill="#fcf3bd"/>
<rect x="315.00" y="503.67" width="23.45" height="6.03" fill="#84c3e2"/>
<rect x="338.10" y="503.67" width="23.45" height="6.03" fill="#84c3e2"/>
<rect x="361.20" y="503.67" width="23.45" height="6.03" fill="#fcf3bd"/>
<rect x="384.30" y="503.67" width="23.45" height="6.03" fill="#4aa2d4"/>
<rect x="407.40" y="503.67" width="23.45" height="6.03" fill="#fde294"/>
<rect x="84.00" y="509.35" width="23.45" height="6.03" fill="#fdc877"/>
<rect x="107.10" y="509.35" width="23.45" height="6.03" fill="#fde294"/>
<rect x="130.20" y="509.35" width="23.45" height="6.03" fill="#fde294"/>
<rect x="153.30" y="509.35" width="23.45" height="6.03" fill="#2388c8"/>
<rect x="176.40" y="509.35" width="23.45" height="6.03" fill="#fdc877"/>
<rect x="199.50" y="509.35" width="23.45" height="6.03" fill="#84c3e2"/>
<rect x="222.60" y="509.35" width="23.45" height="6.03" fill="#e3f2f3"/>
<rect x="245.70" y="509.35" width="23.45" height="6.03" fill="#84c3e2"/>
<rect x="268.80" y="509.35" width="23.45" height="6.03" fill="#84c3e2"/>
<rect x="291.90" y="509.35" width="23.45" height="6.03" fill="#84c3e2"/>
<rect x="315.00" y="509.35" width="23.45" height="6.03" fill="#84c3e2"/>
<rect x="338.10" y="509.35" width="23.45" height="6.03" fill="#84c3e2"/>
<rect x="361.20" y="509.35" width="23.45" height="6.03" fill="#e3f2f3"/>
<rect x="384.30" y="509.35" width="23.45" height="6.03" fill="#4aa2d4"/>
<rect x="407.40" y="509.35" width="23.45" height="6.03" fill="#fde294"/>
<rect x="84.00" y="515.03" width="23.45" height="6.03" fill="#84c3e2"/>
<rect x="107.10" y="515.03" width="23.45" height="6.03" fill="#e3f2f3"/>
<rect x="130.20" y="515.03" width="23.45" height="6.03" fill="#fdc877"/>
<rect x="153.30" y="515.03" width="23.45" height="6.03" fill="#2388c8"/>
<rect x="176.40" y="515.03" width="23.45" height="6.03" fill="#c2e3ee"/>
<rect x="199.50" y="515.03" width="23.45" height="6.03" fill="#fde294"/>
<rect x="222.60" y="515.03" width="23.45" height="6.03" fill="#84c3e2"/>
<rect x="245.70" y="515.03" width="23.45" height="6.03" fill="#4aa2d4"/>
<rect x="268.80" y="515.03" width="23.45" height="6.03" fill="#84c3e2"/>
<rect x="291.90" y="515.03" width="23.45" height="6.03" fill="#1b72bd"/>
<rect x="315.00" y="515.03" width="23.45" height="6.03" fill="#fcf3bd"/>
<rect x="338.10" y="515.03" width="23.45" height="6.03" fill="#c2e3ee"/>
<rect x="361.20" y="515.03" width="23.45" height="6.03" fill="#fcf3bd"/>
<rect x="384.30" y="515.03" width="23.45" height="6.03" fill="#fdc877"/>
<rect x="407.40" y="515.03" width="23.45" height="6.03" fill="#fcf3bd"/>
<rect x="84.00" y="520.72" width="23.45" height="6.03" fill="#e3f2f3"/>
<rect x="107.10" y="520.72" width="23.45" height="6.03" fill="#fde294"/>
<rect x="130.20" y="520.72" width="23.45" height="6.03" fill="#84c3e2"/>
<rect x="153.30" y="520.72" width="23.45" height="6.03" fill="#2388c8"/>
<rect x="176.40" y="520.72" width="23.45" height="6.03" fill="#84c3e2"/>
<rect x="199.50" y="520.72" width="23.45" height="6.03" fill="#4aa2d4"/>
<rect x="222.60" y="520.72" width="23.45" height="6.03" fill="#84c3e2"/>
<rect x="245.70" y="520.72" width="23.45" height="6.03" fill="#e3f2f3"/>
<rect x="268.80" y="520.72" width="23.45" height="6.03" fill="#84c3e2"/>
<rect x="291.90" y="520.72" width="23.45" height="6.03" fill="#e3f2f3"/>
<rect x="315.00" y="520.72" width="23.45" height="6.03" fill="#fba35c"/>
<rect x="338.10" y="520.72" width="23.45" height="6.03" fill="#4aa2d4"/>
<rect x="361.20" y="520.72" width="23.45" height="6.03" fill="#fcf3bd"/>
<rect x="384.30" y="520.72" width="23.45" height="6.03" fill="#fba35c"/>
<rect x="407.40" y="520.72" width="23.45" height="6.03" fill="#fcf3bd"/>
<rect x="84.00" y="526.40" width="23.45" height="6.03" fill="#e3f2f3"/>
<rect x="107.10" y="526.40" width="23.45" height="6.03" fill="#fde294"/>
<rect x="130.20" y="526.40" width="23.45" height="6.03" fill="#fcf3bd"/>
<rect x="153.30" y="526.40" width="23.45" height="6.03" fill="#e3f2f3"/>
<rect x="176.40" y="526.40" width="23.45" height="6.03" fill="#84c3e2"/>
<rect x="199.50" y="526.40" width="23.45" height="6.03" fill="#84c3e2"/>
<rect x="222.60" y="526.40" width="23.45" height="6.03" fill="#4aa2d4"/>
<rect x="245.70" y="526.40" width="23.45" height="6.03" fill="#c2e3ee"/>
<rect x="268.80" y="526.40" width="23.45" height="6.03" fill="#84c3e2"/>
<rect x="291.90" y="526.40" width="23.45" height="6.03" fill="#e3f2f3"/>
<rect x="315.00" y="526.40" width="23.45" height="6.03" fill="#84c3e2"/>
<rect x="338.10" y="526.40" width="23.45" height="6.03" fill="#2388c8"/>
<rect x="361.20" y="526.40" width="23.45" height="6.03" fill="#fcf3bd"/>
<rect x="384.30" y="526.40" width="23.45" height="6.03" fill="#e3261f"/>
<rect x="407.40" y="526.40" width="23.45" height="6.03" fill="#e3f2f3"/>
<rect x="84.00" y="532.09" width="23.45" height="6.03" fill="#fcf3bd"/>
<rect x="107.10" y="532.09" width="23.45" height="6.03" fill="#fdc877"/>
<rect x="130.20" y="532.09" width="23.45" height="6.03" fill="#fcf3bd"/>
<rect x="153.30" y="532.09" width="23.45" height="6.03" fill="#84c3e2"/>
<rect x="176.40" y="532.09" width="23.45" height="6.03" fill="#84c3e2"/>
<rect x="199.50" y="532.09" width="23.45" height="6.03" fill="#4aa2d4"/>
<rect x="222.60" y="532.09" width="23.45" height="6.03" fill="#84c3e2"/>
<rect x="245.70" y="532.09" width="23.45" height="6.03" fill="#e3f2f3"/>
<rect x="268.80" y="532.09" width="23.45" height="6.03" fill="#4aa2d4"/>
<rect x="291.90" y="532.09" width="23.45" height="6.03" fill="#84c3e2"/>
<rect x="315.00" y="532.09" width="23.45" height="6.03" fill="#84c3e2"/>
<rect x="338.10" y="532.09" width="23.45" height="6.03" fill="#84c3e2"/>
<rect x="361.20" y="532.09" width="23.45" height="6.03" fill="#fcf3bd"/>
<rect x="384.30" y="532.09" width="23.45" height="6.03" fill="#f7834a"/>
<rect x="407.40" y="532.09" width="23.45" height="6.03" fill="#fcf3bd"/>
<rect x="84.00" y="537.77" width="23.45" height="6.03" fill="#4aa2d4"/>
<rect x="107.10" y="537.77" width="23.45" height="6.03" fill="#2388c8"/>
<rect x="130.20" y="537.77" width="23.45" height="6.03" fill="#84c3e2"/>
<rect x="153.30" y="537.77" width="23.45" height="6.03" fill="#84c3e2"/>
<rect x="176.40" y="537.77" width="23.45" height="6.03" fill="#84c3e2"/>
<rect x="199.50" y="537.77" width="23.45" height="6.03" fill="#4aa2d4"/>
<rect x="222.60" y="537.77" width="23.45" height="6.03" fill="#fcf3bd"/>
<rect x="245.70" y="537.77" width="23.45" height="6.03" fill="#fde294"/>
<rect x="268.80" y="537.77" width="23.45" height="6.03" fill="#c2e3ee"/>
<rect x="291.90" y="537.77" width="23.45" height="6.03" fill="#fba35c"/>
<rect x="315.00" y="537.77" width="23.45" height="6.03" fill="#fdc877"/>
<rect x="338.10" y="537.77" width="23.45" height="6.03" fill="#fdc877"/>
<rect x="361.20" y="537.77" width="23.45" height="6.03" fill="#e3f2f3"/>
<rect x="384.30" y="537.77" width="23.45" height="6.03" fill="#e3f2f3"/>
<rect x="407.40" y="537.77" width="23.45" height="6.03" fill="#84c3e2"/>
<rect x="84.00" y="543.45" width="23.45" height="6.03" fill="#84c3e2"/>
<rect x="107.10" y="543.45" width="23.45" height="6.03" fill="#e3f2f3"/>
<rect x="130.20" y="543.45" width="23.45" height="6.03" fill="#f7834a"/>
<rect x="153.30" y="543.45" width="23.45" height="6.03" fill="#84c3e2"/>
<rect x="176.40" y="543.45" width="23.45" height="6.03" fill="#84c3e2"/>
<rect x="199.50" y="543.45" width="23.45" height="6.03" fill="#e3f2f3"/>
<rect x="222.60" y="543.45" width="23.45" height="6.03" fill="#e3f2f3"/>
<rect x="245.70" y="543.45" width="23.45" height="6.03" fill="#c2e3ee"/>
<rect x="268.80" y="543.45" width="23.45" height="6.03" fill="#e3f2f3"/>
<rect x="291.90" y="543.45" width="23.45" height="6.03" fill="#f0522f"/>
<rect x="315.00" y="543.45" width="23.45" height="6.03" fill="#84c3e2"/>
<rect x="338.10" y="543.45" width="23.45" height="6.03" fill="#84c3e2"/>
<rect x="361.20" y="543.45" width="23.45" height="6.03" fill="#4aa2d4"/>
<rect x="384.30" y="543.45" width="23.45" height="6.03" fill="#c2e3ee"/>
<rect x="407.40" y="543.45" width="23.45" height="6.03" fill="#c2e3ee"/>
<rect x="84.00" y="549.14" width="23.45" height="6.03" fill="#84c3e2"/>
<rect x="107.10" y="549.14" width="23.45" height="6.03" fill="#e3f2f3"/>
<rect x="130.20" y="549.14" width="23.45" height="6.03" fill="#84c3e2"/>
<rect x="153.30" y="549.14" width="23.45" height="6.03" fill="#f7834a"/>
<rect x="176.40" y="549.14" width="23.45" height="6.03" fill="#c2e3ee"/>
<rect x="199.50" y="549.14" width="23.45" height="6.03" fill="#c2e3ee"/>
<rect x="222.60" y="549.14" width="23.45" height="6.03" fill="#fba35c"/>
<rect x="245.70" y="549.14" width="23.45" height="6.03" fill="#c2e3ee"/>
<rect x="268.80" y="549.14" width="23.45" height="6.03" fill="#e3f2f3"/>
<rect x="291.90" y="549.14" width="23.45" height="6.03" fill="#4aa2d4"/>
<rect x="315.00" y="549.14" width="23.45" height="6.03" fill="#84c3e2"/>
<rect x="338.10" y="549.14" width="23.45" height="6.03" fill="#fde294"/>
<rect x="361.20" y="549.14" width="23.45" height="6.03" fill="#84c3e2"/>
<rect x="384.30" y="549.14" width="23.45" height="6.03" fill="#e3f2f3"/>
<rect x="407.40" y="549.14" width="23.45" height="6.03" fill="#4aa2d4"/>
<rect x="84.00" y="554.82" width="23.45" height="6.03" fill="#84c3e2"/>
<rect x="107.10" y="554.82" width="23.45" height="6.03" fill="#84c3e2"/>
<rect x="130.20" y="554.82" width="23.45" height="6.03" fill="#84c3e2"/>
<rect x="153.30" y="554.82" width="23.45" height="6.03" fill="#fdc877"/>
<rect x="176.40" y="554.82" width="23.45" height="6.03" fill="#e3f2f3"/>
<rect x="199.50" y="554.82" width="23.45" height="6.03" fill="#c2e3ee"/>
<rect x="222.60" y="554.82" width="23.45" height="6.03" fill="#e3261f"/>
<rect x="245.70" y="554.82" width="23.45" height="6.03" fill="#84c3e2"/>
<rect x="268.80" y="554.82" width="23.45" height="6.03" fill="#e3f2f3"/>
<rect x="291.90" y="554.82" width="23.45" height="6.03" fill="#84c3e2"/>
<rect x="315.00" y="554.82" width="23.45" height="6.03" fill="#84c3e2"/>
<rect x="338.10" y="554.82" width="23.45" height="6.03" fill="#c2e3ee"/>
<rect x="361.20" y="554.82" width="23.45" height="6.03" fill="#84c3e2"/>
<rect x="384.30" y="554.82" width="23.45" height="6.03" fill="#c2e3ee"/>
<rect x="407.40" y="554.82" width="23.45" height="6.03" fill="#84c3e2"/>
<rect x="84.00" y="560.50" width="23.45" height="6.03" fill="#84c3e2"/>
<rect x="107.10" y="560.50" width="23.45" height="6.03" fill="#e3f2f3"/>
<rect x="130.20" y="560.50" width="23.45" height="6.03" fill="#84c3e2"/>
<rect x="153.30" y="560.50" width="23.45" height="6.03" fill="#fdc877"/>
<rect x="176.40" y="560.50" width="23.45" height="6.03" fill="#84c3e2"/>
<rect x="199.50" y="560.50" width="23.45" height="6.03" fill="#84c3e2"/>
<rect x="222.60" y="560.50" width="23.45" height="6.03" fill="#fcf3bd"/>
<rect x="245.70" y="560.50" width="23.45" height="6.03" fill="#4aa2d4"/>
<rect x="268.80" y="560.50" width="23.45" height="6.03" fill="#fdc877"/>
<rect x="291.90" y="560.50" width="23.45" height="6.03" fill="#84c3e2"/>
<rect x="315.00" y="560.50" width="23.45" height="6.03" fill="#fcf3bd"/>
<rect x="338.10" y="560.50" width="23.45" height="6.03" fill="#fba35c"/>
<rect x="361.20" y="560.50" width="23.45" height="6.03" fill="#84c3e2"/>
<rect x="384.30" y="560.50" width="23.45" height="6.03" fill="#c2e3ee"/>
<rect x="407.40" y="560.50" width="23.45" height="6.03" fill="#4aa2d4"/>
<rect x="84.00" y="566.19" width="23.45" height="6.03" fill="#84c3e2"/>
<rect x="107.10" y="566.19" width="23.45" height="6.03" fill="#84c3e2"/>
<rect x="130.20" y="566.19" width="23.45" height="6.03" fill="#84c3e2"/>
<rect x="153.30" y="566.19" width="23.45" height="6.03" fill="#fde294"/>
<rect x="176.40" y="566.19" width="23.45" height="6.03" fill="#c2e3ee"/>
<rect x="199.50" y="566.19" width="23.45" height="6.03" fill="#c2e3ee"/>
<rect x="222.60" y="566.19" width="23.45" height="6.03" fill="#fba35c"/>
<rect x="245.70" y="566.19" width="23.45" height="6.03" fill="#84c3e2"/>
<rect x="268.80" y="566.19" width="23.45" height="6.03" fill="#fba35c"/>
<rect x="291.90" y="566.19" width="23.45" height="6.03" fill="#84c3e2"/>
<rect x="315.00" y="566.19" width="23.45" height="6.03" fill="#c2e3ee"/>
<rect x="338.10" y="566.19" width="23.45" height="6.03" fill="#e3f2f3"/>
<rect x="361.20" y="566.19" width="23.45" height="6.03" fill="#84c3e2"/>
<rect x="384.30" y="566.19" width="23.45" height="6.03" fill="#c2e3ee"/>
<rect x="407.40" y="566.19" width="23.45" height="6.03" fill="#84c3e2"/>
<rect x="84.00" y="571.87" width="23.45" height="6.03" fill="#84c3e2"/>
<rect x="107.10" y="571.87" width="23.45" height="6.03" fill="#4aa2d4"/>
<rect x="130.20" y="571.87" width="23.45" height="6.03" fill="#c2e3ee"/>
<rect x="153.30" y="571.87" width="23.45" height="6.03" fill="#fcf3bd"/>
<rect x="176.40" y="571.87" width="23.45" height="6.03" fill="#c2e3ee"/>
<rect x="199.50" y="571.87" width="23.45" height="6.03" fill="#84c3e2"/>
<rect x="222.60" y="571.87" width="23.45" height="6.03" fill="#fba35c"/>
<rect x="245.70" y="571.87" width="23.45" height="6.03" fill="#e3f2f3"/>
<rect x="268.80" y="571.87" width="23.45" height="6.03" fill="#fcf3bd"/>
<rect x="291.90" y="571.87" width="23.45" height="6.03" fill="#c2e3ee"/>
<rect x="315.00" y="571.87" width="23.45" height="6.03" fill="#c2e3ee"/>
<rect x="338.10" y="571.87" width="23.45" height="6.03" fill="#fba35c"/>
<rect x="361.20" y="571.87" width="23.45" height="6.03" fill="#84c3e2"/>
<rect x="384.30" y="571.87" width="23.45" height="6.03" fill="#c2e3ee"/>
<rect x="407.40" y="571.87" width="23.45" height="6.03" fill="#4aa2d4"/>
<rect x="84.00" y="577.55" width="23.45" height="6.03" fill="#84c3e2"/>
<rect x="107.10" y="577.55" width="23.45" height="6.03" fill="#84c3e2"/>
<rect x="130.20" y="577.55" width="23.45" height="6.03" fill="#84c3e2"/>
<rect x="153.30" y="577.55" width="23.45" height="6.03" fill="#fba35c"/>
<rect x="176.40" y="577.55" width="23.45" height="6.03" fill="#2388c8"/>
<rect x="199.50" y="577.55" width="23.45" height="6.03" fill="#e3f2f3"/>
<rect x="222.60" y="577.55" width="23.45" height="6.03" fill="#fdc877"/>
<rect x="245.70" y="577.55" width="23.45" height="6.03" fill="#fdc877"/>
<rect x="268.80" y="577.55" width="23.45" height="6.03" fill="#e3f2f3"/>
<rect x="291.90" y="577.55" width="23.45" height="6.03" fill="#fcf3bd"/>
<rect x="315.00" y="577.55" width="23.45" height="6.03" fill="#84c3e2"/>
<rect x="338.10" y="577.55" width="23.45" height="6.03" fill="#fcf3bd"/>
<rect x="361.20" y="577.55" width="23.45" height="6.03" fill="#4aa2d4"/>
<rect x="384.30" y="577.55" width="23.45" height="6.03" fill="#4aa2d4"/>
<rect x="407.40" y="577.55" width="23.45" height="6.03" fill="#84c3e2"/>
<rect x="84.00" y="583.24" width="23.45" height="6.03" fill="#84c3e2"/>
<rect x="107.10" y="583.24" width="23.45" height="6.03" fill="#84c3e2"/>
<rect x="130.20" y="583.24" width="23.45" height="6.03" fill="#84c3e2"/>
<rect x="153.30" y="583.24" width="23.45" height="6.03" fill="#fcf3bd"/>
<rect x="176.40" y="583.24" width="23.45" height="6.03" fill="#e3f2f3"/>
<rect x="199.50" y="583.24" width="23.45" height="6.03" fill="#fde294"/>
<rect x="222.60" y="583.24" width="23.45" height="6.03" fill="#f7834a"/>
<rect x="245.70" y="583.24" width="23.45" height="6.03" fill="#e3f2f3"/>
<rect x="268.80" y="583.24" width="23.45" height="6.03" fill="#fdc877"/>
<rect x="291.90" y="583.24" width="23.45" height="6.03" fill="#e3f2f3"/>
<rect x="315.00" y="583.24" width="23.45" height="6.03" fill="#c2e3ee"/>
<rect x="338.10" y="583.24" width="23.45" height="6.03" fill="#c2e3ee"/>
<rect x="361.20" y="583.24" width="23.45" height="6.03" fill="#2388c8"/>
<rect x="384.30" y="583.24" width="23.45" height="6.03" fill="#2388c8"/>
<rect x="407.40" y="583.24" width="23.45" height="6.03" fill="#c2e3ee"/>
<rect x="84.00" y="588.92" width="23.45" height="6.03" fill="#84c3e2"/>
<rect x="107.10" y="588.92" width="23.45" height="6.03" fill="#2388c8"/>
<rect x="130.20" y="588.92" width="23.45" height="6.03" fill="#4aa2d4"/>
<rect x="153.30" y="588.92" width="23.45" height="6.03" fill="#fdc877"/>
<rect x="176.40" y="588.92" width="23.45" height="6.03" fill="#e3f2f3"/>
<rect x="199.50" y="588.92" width="23.45" height="6.03" fill="#fde294"/>
<rect x="222.60" y="588.92" width="23.45" height="6.03" fill="#fdc877"/>
<rect x="245.70" y="588.92" width="23.45" height="6.03" fill="#c2e3ee"/>
<rect x="268.80" y="588.92" width="23.45" height="6.03" fill="#fdc877"/>
<rect x="291.90" y="588.92" width="23.45" height="6.03" fill="#84c3e2"/>
<rect x="315.00" y="588.92" width="23.45" height="6.03" fill="#e3f2f3"/>
<rect x="338.10" y="588.92" width="23.45" height="6.03" fill="#e3f2f3"/>
<rect x="361.20" y="588.92" width="23.45" height="6.03" fill="#4aa2d4"/>
<rect x="384.30" y="588.92" width="23.45" height="6.03" fill="#1b72bd"/>
<rect x="407.40" y="588.92" width="23.45" height="6.03" fill="#c2e3ee"/>
<rect x="84.00" y="594.60" width="23.45" height="6.03" fill="#4aa2d4"/>
<rect x="107.10" y="594.60" width="23.45" height="6.03" fill="#4aa2d4"/>
<rect x="130.20" y="594.60" width="23.45" height="6.03" fill="#c2e3ee"/>
<rect x="153.30" y="594.60" width="23.45" height="6.03" fill="#fcf3bd"/>
<rect x="176.40" y="594.60" width="23.45" height="6.03" fill="#4aa2d4"/>
<rect x="199.50" y="594.60" width="23.45" height="6.03" fill="#f0522f"/>
<rect x="222.60" y="594.60" width="23.45" height="6.03" fill="#e3f2f3"/>
<rect x="245.70" y="594.60" width="23.45" height="6.03" fill="#fcf3bd"/>
<rect x="268.80" y="594.60" width="23.45" height="6.03" fill="#fdc877"/>
<rect x="291.90" y="594.60" width="23.45" height="6.03" fill="#84c3e2"/>
<rect x="315.00" y="594.60" width="23.45" height="6.03" fill="#c2e3ee"/>
<rect x="338.10" y="594.60" width="23.45" height="6.03" fill="#e3f2f3"/>
<rect x="361.20" y="594.60" width="23.45" height="6.03" fill="#4aa2d4"/>
<rect x="384.30" y="594.60" width="23.45" height="6.03" fill="#84c3e2"/>
<rect x="407.40" y="594.60" width="23.45" height="6.03" fill="#84c3e2"/>
<rect x="84.00" y="600.29" width="23.45" height="6.03" fill="#2388c8"/>
<rect x="107.10" y="600.29" width="23.45" height="6.03" fill="#4aa2d4"/>
<rect x="130.20" y="600.29" width="23.45" height="6.03" fill="#4aa2d4"/>
<rect x="153.30" y="600.29" width="23.45" height="6.03" fill="#fcf3bd"/>
<rect x="176.40" y="600.29" width="23.45" height="6.03" fill="#4aa2d4"/>
<rect x="199.50" y="600.29" width="23.45" height="6.03" fill="#fba35c"/>
<rect x="222.60" y="600.29" width="23.45" height="6.03" fill="#fde294"/>
<rect x="245.70" y="600.29" width="23.45" height="6.03" fill="#fcf3bd"/>
<rect x="268.80" y="600.29" width="23.45" height="6.03" fill="#fde294"/>
<rect x="291.90" y="600.29" width="23.45" height="6.03" fill="#4aa2d4"/>
<rect x="315.00" y="600.29" width="23.45" height="6.03" fill="#fcf3bd"/>
<rect x="338.10" y="600.29" width="23.45" height="6.03" fill="#e3f2f3"/>
<rect x="361.20" y="600.29" width="23.45" height="6.03" fill="#4aa2d4"/>
<rect x="384.30" y="600.29" width="23.45" height="6.03" fill="#4aa2d4"/>
<rect x="407.40" y="600.29" width="23.45" height="6.03" fill="#fcf3bd"/>
<rect x="84.00" y="605.97" width="23.45" height="6.03" fill="#2388c8"/>
<rect x="107.10" y="605.97" width="23.45" height="6.03" fill="#4aa2d4"/>
<rect x="130.20" y="605.97" width="23.45" height="6.03" fill="#2388c8"/>
<rect x="153.30" y="605.97" width="23.45" height="6.03" fill="#fcf3bd"/>
<rect x="176.40" y="605.97" width="23.45" height="6.03" fill="#4aa2d4"/>
<rect x="199.50" y="605.97" width="23.45" height="6.03" fill="#fde294"/>
<rect x="222.60" y="605.97" width="23.45" height="6.03" fill="#e3f2f3"/>
<rect x="245.70" y="605.97" width="23.45" height="6.03" fill="#f7834a"/>
<rect x="268.80" y="605.97" width="23.45" height="6.03" fill="#fde294"/>
<rect x="291.90" y="605.97" width="23.45" height="6.03" fill="#c2e3ee"/>
<rect x="315.00" y="605.97" width="23.45" height="6.03" fill="#fcf3bd"/>
<rect x="338.10" y="605.97" width="23.45" height="6.03" fill="#e3f2f3"/>
<rect x="361.20" y="605.97" width="23.45" height="6.03" fill="#84c3e2"/>
<rect x="384.30" y="605.97" width="23.45" height="6.03" fill="#84c3e2"/>
<rect x="407.40" y="605.97" width="23.45" height="6.03" fill="#84c3e2"/>
<rect x="84.00" y="611.66" width="23.45" height="6.03" fill="#4aa2d4"/>
<rect x="107.10" y="611.66" width="23.45" height="6.03" fill="#84c3e2"/>
<rect x="130.20" y="611.66" width="23.45" height="6.03" fill="#4aa2d4"/>
<rect x="153.30" y="611.66" width="23.45" height="6.03" fill="#fcf3bd"/>
<rect x="176.40" y="611.66" width="23.45" height="6.03" fill="#c2e3ee"/>
<rect x="199.50" y="611.66" width="23.45" height="6.03" fill="#fde294"/>
<rect x="222.60" y="611.66" width="23.45" height="6.03" fill="#e3f2f3"/>
<rect x="245.70" y="611.66" width="23.45" height="6.03" fill="#84c3e2"/>
<rect x="268.80" y="611.66" width="23.45" height="6.03" fill="#fba35c"/>
<rect x="291.90" y="611.66" width="23.45" height="6.03" fill="#84c3e2"/>
<rect x="315.00" y="611.66" width="23.45" height="6.03" fill="#fcf3bd"/>
<rect x="338.10" y="611.66" width="23.45" height="6.03" fill="#f7834a"/>
<rect x="361.20" y="611.66" width="23.45" height="6.03" fill="#84c3e2"/>
<rect x="384.30" y="611.66" width="23.45" height="6.03" fill="#4aa2d4"/>
<rect x="407.40" y="611.66" width="23.45" height="6.03" fill="#4aa2d4"/>
<rect x="84.00" y="617.34" width="23.45" height="6.03" fill="#4aa2d4"/>
<rect x="107.10" y="617.34" width="23.45" height="6.03" fill="#2388c8"/>
<rect x="130.20" y="617.34" width="23.45" height="6.03" fill="#c2e3ee"/>
<rect x="153.30" y="617.34" width="23.45" height="6.03" fill="#fcf3bd"/>
<rect x="176.40" y="617.34" width="23.45" height="6.03" fill="#fcf3bd"/>
<rect x="199.50" y="617.34" width="23.45" height="6.03" fill="#fcf3bd"/>
<rect x="222.60" y="617.34" width="23.45" height="6.03" fill="#e3f2f3"/>
<rect x="245.70" y="617.34" width="23.45" height="6.03" fill="#c2e3ee"/>
<rect x="268.80" y="617.34" width="23.45" height="6.03" fill="#f7834a"/>
<rect x="291.90" y="617.34" width="23.45" height="6.03" fill="#2388c8"/>
<rect x="315.00" y="617.34" width="23.45" height="6.03" fill="#84c3e2"/>
<rect x="338.10" y="617.34" width="23.45" height="6.03" fill="#fdc877"/>
<rect x="361.20" y="617.34" width="23.45" height="6.03" fill="#c2e3ee"/>
<rect x="384.30" y="617.34" width="23.45" height="6.03" fill="#84c3e2"/>
<rect x="407.40" y="617.34" width="23.45" height="6.03" fill="#84c3e2"/>
<rect x="84.00" y="623.02" width="23.45" height="6.03" fill="#4aa2d4"/>
<rect x="107.10" y="623.02" width="23.45" height="6.03" fill="#4aa2d4"/>
<rect x="130.20" y="623.02" width="23.45" height="6.03" fill="#84c3e2"/>
<rect x="153.30" y="623.02" width="23.45" height="6.03" fill="#f7834a"/>
<rect x="176.40" y="623.02" width="23.45" height="6.03" fill="#4aa2d4"/>
<rect x="199.50" y="623.02" width="23.45" height="6.03" fill="#fdc877"/>
<rect x="222.60" y="623.02" width="23.45" height="6.03" fill="#fcf3bd"/>
<rect x="245.70" y="623.02" width="23.45" height="6.03" fill="#84c3e2"/>
<rect x="268.80" y="623.02" width="23.45" height="6.03" fill="#fdc877"/>
<rect x="291.90" y="623.02" width="23.45" height="6.03" fill="#84c3e2"/>
<rect x="315.00" y="623.02" width="23.45" height="6.03" fill="#84c3e2"/>
<rect x="338.10" y="623.02" width="23.45" height="6.03" fill="#fde294"/>
<rect x="361.20" y="623.02" width="23.45" height="6.03" fill="#84c3e2"/>
<rect x="384.30" y="623.02" width="23.45" height="6.03" fill="#84c3e2"/>
<rect x="407.40" y="623.02" width="23.45" height="6.03" fill="#e3f2f3"/>
<rect x="84.00" y="628.71" width="23.45" height="6.03" fill="#4aa2d4"/>
<rect x="107.10" y="628.71" width="23.45" height="6.03" fill="#c2e3ee"/>
<rect x="130.20" y="628.71" width="23.45" height="6.03" fill="#2388c8"/>
<rect x="153.30" y="628.71" width="23.45" height="6.03" fill="#fde294"/>
<rect x="176.40" y="628.71" width="23.45" height="6.03" fill="#84c3e2"/>
<rect x="199.50" y="628.71" width="23.45" height="6.03" fill="#fcf3bd"/>
<rect x="222.60" y="628.71" width="23.45" height="6.03" fill="#fba35c"/>
<rect x="245.70" y="628.71" width="23.45" height="6.03" fill="#e3f2f3"/>
<rect x="268.80" y="628.71" width="23.45" height="6.03" fill="#fdc877"/>
<rect x="291.90" y="628.71" width="23.45" height="6.03" fill="#84c3e2"/>
<rect x="315.00" y="628.71" width="23.45" height="6.03" fill="#e3f2f3"/>
<rect x="338.10" y="628.71" width="23.45" height="6.03" fill="#fdc877"/>
<rect x="361.20" y="628.71" width="23.45" height="6.03" fill="#84c3e2"/>
<rect x="384.30" y="628.71" width="23.45" height="6.03" fill="#4aa2d4"/>
<rect x="407.40" y="628.71" width="23.45" height="6.03" fill="#4aa2d4"/>
<rect x="84.00" y="634.39" width="23.45" height="6.03" fill="#84c3e2"/>
<rect x="107.10" y="634.39" width="23.45" height="6.03" fill="#84c3e2"/>
<rect x="130.20" y="634.39" width="23.45" height="6.03" fill="#84c3e2"/>
<rect x="153.30" y="634.39" width="23.45" height="6.03" fill="#fba35c"/>
<rect x="176.40" y="634.39" width="23.45" height="6.03" fill="#2388c8"/>
<rect x="199.50" y="634.39" width="23.45" height="6.03" fill="#fcf3bd"/>
<rect x="222.60" y="634.39" width="23.45" height="6.03" fill="#fdc877"/>
<rect x="245.70" y="634.39" width="23.45" height="6.03" fill="#fcf3bd"/>
<rect x="268.80" y="634.39" width="23.45" height="6.03" fill="#fde294"/>
<rect x="291.90" y="634.39" width="23.45" height="6.03" fill="#2388c8"/>
<rect x="315.00" y="634.39" width="23.45" height="6.03" fill="#e3f2f3"/>
<rect x="338.10" y="634.39" width="23.45" height="6.03" fill="#fcf3bd"/>
<rect x="361.20" y="634.39" width="23.45" height="6.03" fill="#84c3e2"/>
<rect x="384.30" y="634.39" width="23.45" height="6.03" fill="#84c3e2"/>
<rect x="407.40" y="634.39" width="23.45" height="6.03" fill="#84c3e2"/>
<rect x="84.00" y="640.07" width="23.45" height="6.03" fill="#84c3e2"/>
<rect x="107.10" y="640.07" width="23.45" height="6.03" fill="#84c3e2"/>
<rect x="130.20" y="640.07" width="23.45" height="6.03" fill="#84c3e2"/>
<rect x="153.30" y="640.07" width="23.45" height="6.03" fill="#e3f2f3"/>
<rect x="176.40" y="640.07" width="23.45" height="6.03" fill="#e3261f"/>
<rect x="199.50" y="640.07" width="23.45" height="6.03" fill="#fdc877"/>
<rect x="222.60" y="640.07" width="23.45" height="6.03" fill="#e3f2f3"/>
<rect x="245.70" y="640.07" width="23.45" height="6.03" fill="#c2e3ee"/>
<rect x="268.80" y="640.07" width="23.45" height="6.03" fill="#e3f2f3"/>
<rect x="291.90" y="640.07" width="23.45" height="6.03" fill="#84c3e2"/>
<rect x="315.00" y="640.07" width="23.45" height="6.03" fill="#c2e3ee"/>
<rect x="338.10" y="640.07" width="23.45" height="6.03" fill="#84c3e2"/>
<rect x="361.20" y="640.07" width="23.45" height="6.03" fill="#84c3e2"/>
<rect x="384.30" y="640.07" width="23.45" height="6.03" fill="#4aa2d4"/>
<rect x="407.40" y="640.07" width="23.45" height="6.03" fill="#c2e3ee"/>
<rect x="84.00" y="645.76" width="23.45" height="6.03" fill="#84c3e2"/>
<rect x="107.10" y="645.76" width="23.45" height="6.03" fill="#84c3e2"/>
<rect x="130.20" y="645.76" width="23.45" height="6.03" fill="#84c3e2"/>
<rect x="153.30" y="645.76" width="23.45" height="6.03" fill="#c2e3ee"/>
<rect x="176.40" y="645.76" width="23.45" height="6.03" fill="#e3261f"/>
<rect x="199.50" y="645.76" width="23.45" height="6.03" fill="#fdc877"/>
<rect x="222.60" y="645.76" width="23.45" height="6.03" fill="#e3f2f3"/>
<rect x="245.70" y="645.76" width="23.45" height="6.03" fill="#c2e3ee"/>
<rect x="268.80" y="645.76" width="23.45" height="6.03" fill="#e3f2f3"/>
<rect x="291.90" y="645.76" width="23.45" height="6.03" fill="#84c3e2"/>
<rect x="315.00" y="645.76" width="23.45" height="6.03" fill="#c2e3ee"/>
<rect x="338.10" y="645.76" width="23.45" height="6.03" fill="#c2e3ee"/>
<rect x="361.20" y="645.76" width="23.45" height="6.03" fill="#84c3e2"/>
<rect x="384.30" y="645.76" width="23.45" height="6.03" fill="#4aa2d4"/>
<rect x="407.40" y="645.76" width="23.45" height="6.03" fill="#c2e3ee"/>
<rect x="84.00" y="651.44" width="23.45" height="6.03" fill="#84c3e2"/>
<rect x="107.10" y="651.44" width="23.45" height="6.03" fill="#84c3e2"/>
<rect x="130.20" y="651.44" width="23.45" height="6.03" fill="#84c3e2"/>
<rect x="153.30" y="651.44" width="23.45" height="6.03" fill="#c2e3ee"/>
<rect x="176.40" y="651.44" width="23.45" height="6.03" fill="#e3261f"/>
<rect x="199.50" y="651.44" width="23.45" height="6.03" fill="#fcf3bd"/>
<rect x="222.60" y="651.44" width="23.45" height="6.03" fill="#fde294"/>
<rect x="245.70" y="651.44" width="23.45" height="6.03" fill="#c2e3ee"/>
<rect x="268.80" y="651.44" width="23.45" height="6.03" fill="#e3f2f3"/>
<rect x="291.90" y="651.44" width="23.45" height="6.03" fill="#c2e3ee"/>
<rect x="315.00" y="651.44" width="23.45" height="6.03" fill="#e3f2f3"/>
<rect x="338.10" y="651.44" width="23.45" height="6.03" fill="#84c3e2"/>
<rect x="361.20" y="651.44" width="23.45" height="6.03" fill="#4aa2d4"/>
<rect x="384.30" y="651.44" width="23.45" height="6.03" fill="#4aa2d4"/>
<rect x="407.40" y="651.44" width="23.45" height="6.03" fill="#c2e3ee"/>
<rect x="84.00" y="657.12" width="23.45" height="6.03" fill="#84c3e2"/>
<rect x="107.10" y="657.12" width="23.45" height="6.03" fill="#84c3e2"/>
<rect x="130.20" y="657.12" width="23.45" height="6.03" fill="#84c3e2"/>
<rect x="153.30" y="657.12" width="23.45" height="6.03" fill="#c2e3ee"/>
<rect x="176.40" y="657.12" width="23.45" height="6.03" fill="#c9161f"/>
<rect x="199.50" y="657.12" width="23.45" height="6.03" fill="#e3f2f3"/>
<rect x="222.60" y="657.12" width="23.45" height="6.03" fill="#fcf3bd"/>
<rect x="245.70" y="657.12" width="23.45" height="6.03" fill="#e3f2f3"/>
<rect x="268.80" y="657.12" width="23.45" height="6.03" fill="#fcf3bd"/>
<rect x="291.90" y="657.12" width="23.45" height="6.03" fill="#c2e3ee"/>
<rect x="315.00" y="657.12" width="23.45" height="6.03" fill="#e3f2f3"/>
<rect x="338.10" y="657.12" width="23.45" height="6.03" fill="#84c3e2"/>
<rect x="361.20" y="657.12" width="23.45" height="6.03" fill="#84c3e2"/>
<rect x="384.30" y="657.12" width="23.45" height="6.03" fill="#4aa2d4"/>
<rect x="407.40" y="657.12" width="23.45" height="6.03" fill="#e3f2f3"/>
<rect x="84.00" y="662.81" width="23.45" height="6.03" fill="#fcf3bd"/>
<rect x="107.10" y="662.81" width="23.45" height="6.03" fill="#c2e3ee"/>
<rect x="130.20" y="662.81" width="23.45" height="6.03" fill="#c2e3ee"/>
<rect x="153.30" y="662.81" width="23.45" height="6.03" fill="#fcf3bd"/>
<rect x="176.40" y="662.81" width="23.45" height="6.03" fill="#e3261f"/>
<rect x="199.50" y="662.81" width="23.45" height="6.03" fill="#e3f2f3"/>
<rect x="222.60" y="662.81" width="23.45" height="6.03" fill="#e3f2f3"/>
<rect x="245.70" y="662.81" width="23.45" height="6.03" fill="#84c3e2"/>
<rect x="268.80" y="662.81" width="23.45" height="6.03" fill="#e3f2f3"/>
<rect x="291.90" y="662.81" width="23.45" height="6.03" fill="#84c3e2"/>
<rect x="315.00" y="662.81" width="23.45" height="6.03" fill="#c2e3ee"/>
<rect x="338.10" y="662.81" width="23.45" height="6.03" fill="#84c3e2"/>
<rect x="361.20" y="662.81" width="23.45" height="6.03" fill="#4aa2d4"/>
<rect x="384.30" y="662.81" width="23.45" height="6.03" fill="#2388c8"/>
<rect x="407.40" y="662.81" width="23.45" height="6.03" fill="#c2e3ee"/>
<rect x="84.00" y="668.49" width="23.45" height="6.03" fill="#84c3e2"/>
<rect x="107.10" y="668.49" width="23.45" height="6.03" fill="#c2e3ee"/>
<rect x="130.20" y="668.49" width="23.45" height="6.03" fill="#84c3e2"/>
<rect x="153.30" y="668.49" width="23.45" height="6.03" fill="#84c3e2"/>
<rect x="176.40" y="668.49" width="23.45" height="6.03" fill="#e3261f"/>
<rect x="199.50" y="668.49" width="23.45" height="6.03" fill="#e3f2f3"/>
<rect x="222.60" y="668.49" width="23.45" height="6.03" fill="#c2e3ee"/>
<rect x="245.70" y="668.49" width="23.45" height="6.03" fill="#c2e3ee"/>
<rect x="268.80" y="668.49" width="23.45" height="6.03" fill="#e3f2f3"/>
<rect x="291.90" y="668.49" width="23.45" height="6.03" fill="#c2e3ee"/>
<rect x="315.00" y="668.49" width="23.45" height="6.03" fill="#e3f2f3"/>
<rect x="338.10" y="668.49" width="23.45" height="6.03" fill="#c2e3ee"/>
<rect x="361.20" y="668.49" width="23.45" height="6.03" fill="#84c3e2"/>
<rect x="384.30" y="668.49" width="23.45" height="6.03" fill="#4aa2d4"/>
<rect x="407.40" y="668.49" width="23.45" height="6.03" fill="#e3f2f3"/>
<rect x="84.00" y="674.17" width="23.45" height="6.03" fill="#e3f2f3"/>
<rect x="107.10" y="674.17" width="23.45" height="6.03" fill="#c2e3ee"/>
<rect x="130.20" y="674.17" width="23.45" height="6.03" fill="#84c3e2"/>
<rect x="153.30" y="674.17" width="23.45" height="6.03" fill="#84c3e2"/>
<rect x="176.40" y="674.17" width="23.45" height="6.03" fill="#e3261f"/>
<rect x="199.50" y="674.17" width="23.45" height="6.03" fill="#fcf3bd"/>
<rect x="222.60" y="674.17" width="23.45" height="6.03" fill="#c2e3ee"/>
<rect x="245.70" y="674.17" width="23.45" height="6.03" fill="#c2e3ee"/>
<rect x="268.80" y="674.17" width="23.45" height="6.03" fill="#fcf3bd"/>
<rect x="291.90" y="674.17" width="23.45" height="6.03" fill="#e3f2f3"/>
<rect x="315.00" y="674.17" width="23.45" height="6.03" fill="#c2e3ee"/>
<rect x="338.10" y="674.17" width="23.45" height="6.03" fill="#c2e3ee"/>
<rect x="361.20" y="674.17" width="23.45" height="6.03" fill="#84c3e2"/>
<rect x="384.30" y="674.17" width="23.45" height="6.03" fill="#4aa2d4"/>
<rect x="407.40" y="674.17" width="23.45" height="6.03" fill="#c2e3ee"/>
<rect x="84.00" y="679.86" width="23.45" height="6.03" fill="#2388c8"/>
<rect x="107.10" y="679.86" width="23.45" height="6.03" fill="#c2e3ee"/>
<rect x="130.20" y="679.86" width="23.45" height="6.03" fill="#4aa2d4"/>
<rect x="153.30" y="679.86" width="23.45" height="6.03" fill="#c2e3ee"/>
<rect x="176.40" y="679.86" width="23.45" height="6.03" fill="#f0522f"/>
<rect x="199.50" y="679.86" width="23.45" height="6.03" fill="#fcf3bd"/>
<rect x="222.60" y="679.86" width="23.45" height="6.03" fill="#fcf3bd"/>
<rect x="245.70" y="679.86" width="23.45" height="6.03" fill="#84c3e2"/>
<rect x="268.80" y="679.86" width="23.45" height="6.03" fill="#e3f2f3"/>
<rect x="291.90" y="679.86" width="23.45" height="6.03" fill="#4aa2d4"/>
<rect x="315.00" y="679.86" width="23.45" height="6.03" fill="#84c3e2"/>
<rect x="338.10" y="679.86" width="23.45" height="6.03" fill="#e3f2f3"/>
<rect x="361.20" y="679.86" width="23.45" height="6.03" fill="#fcf3bd"/>
<rect x="384.30" y="679.86" width="23.45" height="6.03" fill="#fcf3bd"/>
<rect x="407.40" y="679.86" width="23.45" height="6.03" fill="#4aa2d4"/>
<rect x="84.00" y="685.54" width="23.45" height="6.03" fill="#e3f2f3"/>
<rect x="107.10" y="685.54" width="23.45" height="6.03" fill="#84c3e2"/>
<rect x="130.20" y="685.54" width="23.45" height="6.03" fill="#e3f2f3"/>
<rect x="153.30" y="685.54" width="23.45" height="6.03" fill="#84c3e2"/>
<rect x="176.40" y="685.54" width="23.45" height="6.03" fill="#e3261f"/>
<rect x="199.50" y="685.54" width="23.45" height="6.03" fill="#e3f2f3"/>
<rect x="222.60" y="685.54" width="23.45" height="6.03" fill="#fde294"/>
<rect x="245.70" y="685.54" width="23.45" height="6.03" fill="#84c3e2"/>
<rect x="268.80" y="685.54" width="23.45" height="6.03" fill="#fde294"/>
<rect x="291.90" y="685.54" width="23.45" height="6.03" fill="#4aa2d4"/>
<rect x="315.00" y="685.54" width="23.45" height="6.03" fill="#e3f2f3"/>
<rect x="338.10" y="685.54" width="23.45" height="6.03" fill="#c2e3ee"/>
<rect x="361.20" y="685.54" width="23.45" height="6.03" fill="#4aa2d4"/>
<rect x="384.30" y="685.54" width="23.45" height="6.03" fill="#e3f2f3"/>
<rect x="407.40" y="685.54" width="23.45" height="6.03" fill="#4aa2d4"/>
<rect x="84.00" y="691.23" width="23.45" height="6.03" fill="#2388c8"/>
<rect x="107.10" y="691.23" width="23.45" height="6.03" fill="#c2e3ee"/>
<rect x="130.20" y="691.23" width="23.45" height="6.03" fill="#84c3e2"/>
<rect x="153.30" y="691.23" width="23.45" height="6.03" fill="#84c3e2"/>
<rect x="176.40" y="691.23" width="23.45" height="6.03" fill="#f0522f"/>
<rect x="199.50" y="691.23" width="23.45" height="6.03" fill="#e3f2f3"/>
<rect x="222.60" y="691.23" width="23.45" height="6.03" fill="#fde294"/>
<rect x="245.70" y="691.23" width="23.45" height="6.03" fill="#e3f2f3"/>
<rect x="268.80" y="691.23" width="23.45" height="6.03" fill="#fdc877"/>
<rect x="291.90" y="691.23" width="23.45" height="6.03" fill="#84c3e2"/>
<rect x="315.00" y="691.23" width="23.45" height="6.03" fill="#c2e3ee"/>
<rect x="338.10" y="691.23" width="23.45" height="6.03" fill="#fde294"/>
<rect x="361.20" y="691.23" width="23.45" height="6.03" fill="#84c3e2"/>
<rect x="384.30" y="691.23" width="23.45" height="6.03" fill="#84c3e2"/>
<rect x="407.40" y="691.23" width="23.45" height="6.03" fill="#4aa2d4"/>
<rect x="84.00" y="696.91" width="23.45" height="6.03" fill="#c2e3ee"/>
<rect x="107.10" y="696.91" width="23.45" height="6.03" fill="#c2e3ee"/>
<rect x="130.20" y="696.91" width="23.45" height="6.03" fill="#c2e3ee"/>
<rect x="153.30" y="696.91" width="23.45" height="6.03" fill="#c2e3ee"/>
<rect x="176.40" y="696.91" width="23.45" height="6.03" fill="#c2e3ee"/>
<rect x="199.50" y="696.91" width="23.45" height="6.03" fill="#c9161f"/>
<rect x="222.60" y="696.91" width="23.45" height="6.03" fill="#84c3e2"/>
<rect x="245.70" y="696.91" width="23.45" height="6.03" fill="#84c3e2"/>
<rect x="268.80" y="696.91" width="23.45" height="6.03" fill="#84c3e2"/>
<rect x="291.90" y="696.91" width="23.45" height="6.03" fill="#84c3e2"/>
<rect x="315.00" y="696.91" width="23.45" height="6.03" fill="#c2e3ee"/>
<rect x="338.10" y="696.91" width="23.45" height="6.03" fill="#c2e3ee"/>
<rect x="361.20" y="696.91" width="23.45" height="6.03" fill="#e3f2f3"/>
<rect x="384.30" y="696.91" width="23.45" height="6.03" fill="#84c3e2"/>
<rect x="407.40" y="696.91" width="23.45" height="6.03" fill="#c2e3ee"/>
<rect x="84.00" y="702.59" width="23.45" height="6.03" fill="#84c3e2"/>
<rect x="107.10" y="702.59" width="23.45" height="6.03" fill="#4aa2d4"/>
<rect x="130.20" y="702.59" width="23.45" height="6.03" fill="#2388c8"/>
<rect x="153.30" y="702.59" width="23.45" height="6.03" fill="#fcf3bd"/>
<rect x="176.40" y="702.59" width="23.45" height="6.03" fill="#fcf3bd"/>
<rect x="199.50" y="702.59" width="23.45" height="6.03" fill="#f0522f"/>
<rect x="222.60" y="702.59" width="23.45" height="6.03" fill="#fcf3bd"/>
<rect x="245.70" y="702.59" width="23.45" height="6.03" fill="#c2e3ee"/>
<rect x="268.80" y="702.59" width="23.45" height="6.03" fill="#e3f2f3"/>
<rect x="291.90" y="702.59" width="23.45" height="6.03" fill="#4aa2d4"/>
<rect x="315.00" y="702.59" width="23.45" height="6.03" fill="#4aa2d4"/>
<rect x="338.10" y="702.59" width="23.45" height="6.03" fill="#fcf3bd"/>
<rect x="361.20" y="702.59" width="23.45" height="6.03" fill="#e3f2f3"/>
<rect x="384.30" y="702.59" width="23.45" height="6.03" fill="#fcf3bd"/>
<rect x="407.40" y="702.59" width="23.45" height="6.03" fill="#4aa2d4"/>
<rect x="84.00" y="708.28" width="23.45" height="6.03" fill="#84c3e2"/>
<rect x="107.10" y="708.28" width="23.45" height="6.03" fill="#84c3e2"/>
<rect x="130.20" y="708.28" width="23.45" height="6.03" fill="#2388c8"/>
<rect x="153.30" y="708.28" width="23.45" height="6.03" fill="#fde294"/>
<rect x="176.40" y="708.28" width="23.45" height="6.03" fill="#fde294"/>
<rect x="199.50" y="708.28" width="23.45" height="6.03" fill="#fcf3bd"/>
<rect x="222.60" y="708.28" width="23.45" height="6.03" fill="#fcf3bd"/>
<rect x="245.70" y="708.28" width="23.45" height="6.03" fill="#84c3e2"/>
<rect x="268.80" y="708.28" width="23.45" height="6.03" fill="#e3f2f3"/>
<rect x="291.90" y="708.28" width="23.45" height="6.03" fill="#4aa2d4"/>
<rect x="315.00" y="708.28" width="23.45" height="6.03" fill="#fba35c"/>
<rect x="338.10" y="708.28" width="23.45" height="6.03" fill="#1b72bd"/>
<rect x="361.20" y="708.28" width="23.45" height="6.03" fill="#e3f2f3"/>
<rect x="384.30" y="708.28" width="23.45" height="6.03" fill="#c2e3ee"/>
<rect x="407.40" y="708.28" width="23.45" height="6.03" fill="#fcf3bd"/>
<rect x="84.00" y="713.96" width="23.45" height="6.03" fill="#84c3e2"/>
<rect x="107.10" y="713.96" width="23.45" height="6.03" fill="#84c3e2"/>
<rect x="130.20" y="713.96" width="23.45" height="6.03" fill="#2388c8"/>
<rect x="153.30" y="713.96" width="23.45" height="6.03" fill="#4aa2d4"/>
<rect x="176.40" y="713.96" width="23.45" height="6.03" fill="#fdc877"/>
<rect x="199.50" y="713.96" width="23.45" height="6.03" fill="#f7834a"/>
<rect x="222.60" y="713.96" width="23.45" height="6.03" fill="#fde294"/>
<rect x="245.70" y="713.96" width="23.45" height="6.03" fill="#e3f2f3"/>
<rect x="268.80" y="713.96" width="23.45" height="6.03" fill="#84c3e2"/>
<rect x="291.90" y="713.96" width="23.45" height="6.03" fill="#fcf3bd"/>
<rect x="315.00" y="713.96" width="23.45" height="6.03" fill="#c2e3ee"/>
<rect x="338.10" y="713.96" width="23.45" height="6.03" fill="#c2e3ee"/>
<rect x="361.20" y="713.96" width="23.45" height="6.03" fill="#e3f2f3"/>
<rect x="384.30" y="713.96" width="23.45" height="6.03" fill="#4aa2d4"/>
<rect x="407.40" y="713.96" width="23.45" height="6.03" fill="#fcf3bd"/>
<rect x="84.00" y="719.64" width="23.45" height="6.03" fill="#84c3e2"/>
<rect x="107.10" y="719.64" width="23.45" height="6.03" fill="#2388c8"/>
<rect x="130.20" y="719.64" width="23.45" height="6.03" fill="#e3f2f3"/>
<rect x="153.30" y="719.64" width="23.45" height="6.03" fill="#e3f2f3"/>
<rect x="176.40" y="719.64" width="23.45" height="6.03" fill="#e3f2f3"/>
<rect x="199.50" y="719.64" width="23.45" height="6.03" fill="#fdc877"/>
<rect x="222.60" y="719.64" width="23.45" height="6.03" fill="#fde294"/>
<rect x="245.70" y="719.64" width="23.45" height="6.03" fill="#e3f2f3"/>
<rect x="268.80" y="719.64" width="23.45" height="6.03" fill="#fde294"/>
<rect x="291.90" y="719.64" width="23.45" height="6.03" fill="#2388c8"/>
<rect x="315.00" y="719.64" width="23.45" height="6.03" fill="#fcf3bd"/>
<rect x="338.10" y="719.64" width="23.45" height="6.03" fill="#e3f2f3"/>
<rect x="361.20" y="719.64" width="23.45" height="6.03" fill="#84c3e2"/>
<rect x="384.30" y="719.64" width="23.45" height="6.03" fill="#1b72bd"/>
<rect x="407.40" y="719.64" width="23.45" height="6.03" fill="#fde294"/>
<rect x="84.00" y="725.33" width="23.45" height="6.03" fill="#4aa2d4"/>
<rect x="107.10" y="725.33" width="23.45" height="6.03" fill="#84c3e2"/>
<rect x="130.20" y="725.33" width="23.45" height="6.03" fill="#2388c8"/>
<rect x="153.30" y="725.33" width="23.45" height="6.03" fill="#e3f2f3"/>
<rect x="176.40" y="725.33" width="23.45" height="6.03" fill="#fdc877"/>
<rect x="199.50" y="725.33" width="23.45" height="6.03" fill="#fde294"/>
<rect x="222.60" y="725.33" width="23.45" height="6.03" fill="#fde294"/>
<rect x="245.70" y="725.33" width="23.45" height="6.03" fill="#e3f2f3"/>
<rect x="268.80" y="725.33" width="23.45" height="6.03" fill="#fdc877"/>
<rect x="291.90" y="725.33" width="23.45" height="6.03" fill="#84c3e2"/>
<rect x="315.00" y="725.33" width="23.45" height="6.03" fill="#fde294"/>
<rect x="338.10" y="725.33" width="23.45" height="6.03" fill="#c2e3ee"/>
<rect x="361.20" y="725.33" width="23.45" height="6.03" fill="#84c3e2"/>
<rect x="384.30" y="725.33" width="23.45" height="6.03" fill="#1b72bd"/>
<rect x="407.40" y="725.33" width="23.45" height="6.03" fill="#84c3e2"/>
<rect x="84.00" y="731.01" width="23.45" height="6.03" fill="#84c3e2"/>
<rect x="107.10" y="731.01" width="23.45" height="6.03" fill="#4aa2d4"/>
<rect x="130.20" y="731.01" width="23.45" height="6.03" fill="#84c3e2"/>
<rect x="153.30" y="731.01" width="23.45" height="6.03" fill="#c2e3ee"/>
<rect x="176.40" y="731.01" width="23.45" height="6.03" fill="#fdc877"/>
<rect x="199.50" y="731.01" width="23.45" height="6.03" fill="#fcf3bd"/>
<rect x="222.60" y="731.01" width="23.45" height="6.03" fill="#fcf3bd"/>
<rect x="245.70" y="731.01" width="23.45" height="6.03" fill="#e3f2f3"/>
<rect x="268.80" y="731.01" width="23.45" height="6.03" fill="#fdc877"/>
<rect x="291.90" y="731.01" width="23.45" height="6.03" fill="#4aa2d4"/>
<rect x="315.00" y="731.01" width="23.45" height="6.03" fill="#fde294"/>
<rect x="338.10" y="731.01" width="23.45" height="6.03" fill="#fde294"/>
<rect x="361.20" y="731.01" width="23.45" height="6.03" fill="#84c3e2"/>
<rect x="384.30" y="731.01" width="23.45" height="6.03" fill="#1b72bd"/>
<rect x="407.40" y="731.01" width="23.45" height="6.03" fill="#84c3e2"/>
<rect x="84.00" y="736.69" width="23.45" height="6.03" fill="#4aa2d4"/>
<rect x="107.10" y="736.69" width="23.45" height="6.03" fill="#2388c8"/>
<rect x="130.20" y="736.69" width="23.45" height="6.03" fill="#4aa2d4"/>
<rect x="153.30" y="736.69" width="23.45" height="6.03" fill="#c2e3ee"/>
<rect x="176.40" y="736.69" width="23.45" height="6.03" fill="#fcf3bd"/>
<rect x="199.50" y="736.69" width="23.45" height="6.03" fill="#fcf3bd"/>
<rect x="222.60" y="736.69" width="23.45" height="6.03" fill="#fcf3bd"/>
<rect x="245.70" y="736.69" width="23.45" height="6.03" fill="#e3f2f3"/>
<rect x="268.80" y="736.69" width="23.45" height="6.03" fill="#fba35c"/>
<rect x="291.90" y="736.69" width="23.45" height="6.03" fill="#e3f2f3"/>
<rect x="315.00" y="736.69" width="23.45" height="6.03" fill="#fcf3bd"/>
<rect x="338.10" y="736.69" width="23.45" height="6.03" fill="#fdc877"/>
<rect x="361.20" y="736.69" width="23.45" height="6.03" fill="#4aa2d4"/>
<rect x="384.30" y="736.69" width="23.45" height="6.03" fill="#2388c8"/>
<rect x="407.40" y="736.69" width="23.45" height="6.03" fill="#c2e3ee"/>
<rect x="84.00" y="742.38" width="23.45" height="6.03" fill="#84c3e2"/>
<rect x="107.10" y="742.38" width="23.45" height="6.03" fill="#2388c8"/>
<rect x="130.20" y="742.38" width="23.45" height="6.03" fill="#4aa2d4"/>
<rect x="153.30" y="742.38" width="23.45" height="6.03" fill="#c2e3ee"/>
<rect x="176.40" y="742.38" width="23.45" height="6.03" fill="#e3f2f3"/>
<rect x="199.50" y="742.38" width="23.45" height="6.03" fill="#fdc877"/>
<rect x="222.60" y="742.38" width="23.45" height="6.03" fill="#e3f2f3"/>
<rect x="245.70" y="742.38" width="23.45" height="6.03" fill="#fde294"/>
<rect x="268.80" y="742.38" width="23.45" height="6.03" fill="#fcf3bd"/>
<rect x="291.90" y="742.38" width="23.45" height="6.03" fill="#84c3e2"/>
<rect x="315.00" y="742.38" width="23.45" height="6.03" fill="#fcf3bd"/>
<rect x="338.10" y="742.38" width="23.45" height="6.03" fill="#fdc877"/>
<rect x="361.20" y="742.38" width="23.45" height="6.03" fill="#84c3e2"/>
<rect x="384.30" y="742.38" width="23.45" height="6.03" fill="#2388c8"/>
<rect x="407.40" y="742.38" width="23.45" height="6.03" fill="#c2e3ee"/>
<rect x="84.00" y="748.06" width="23.45" height="6.03" fill="#4aa2d4"/>
<rect x="107.10" y="748.06" width="23.45" height="6.03" fill="#2388c8"/>
<rect x="130.20" y="748.06" width="23.45" height="6.03" fill="#4aa2d4"/>
<rect x="153.30" y="748.06" width="23.45" height="6.03" fill="#c2e3ee"/>
<rect x="176.40" y="748.06" width="23.45" height="6.03" fill="#fcf3bd"/>
<rect x="199.50" y="748.06" width="23.45" height="6.03" fill="#fdc877"/>
<rect x="222.60" y="748.06" width="23.45" height="6.03" fill="#fde294"/>
<rect x="245.70" y="748.06" width="23.45" height="6.03" fill="#e3f2f3"/>
<rect x="268.80" y="748.06" width="23.45" height="6.03" fill="#fdc877"/>
<rect x="291.90" y="748.06" width="23.45" height="6.03" fill="#4aa2d4"/>
<rect x="315.00" y="748.06" width="23.45" height="6.03" fill="#fcf3bd"/>
<rect x="338.10" y="748.06" width="23.45" height="6.03" fill="#fcf3bd"/>
<rect x="361.20" y="748.06" width="23.45" height="6.03" fill="#e3f2f3"/>
<rect x="384.30" y="748.06" width="23.45" height="6.03" fill="#2388c8"/>
<rect x="407.40" y="748.06" width="23.45" height="6.03" fill="#e3f2f3"/>
<rect x="84.00" y="753.74" width="23.45" height="6.03" fill="#4aa2d4"/>
<rect x="107.10" y="753.74" width="23.45" height="6.03" fill="#4aa2d4"/>
<rect x="130.20" y="753.74" width="23.45" height="6.03" fill="#4aa2d4"/>
<rect x="153.30" y="753.74" width="23.45" height="6.03" fill="#84c3e2"/>
<rect x="176.40" y="753.74" width="23.45" height="6.03" fill="#fdc877"/>
<rect x="199.50" y="753.74" width="23.45" height="6.03" fill="#e3f2f3"/>
<rect x="222.60" y="753.74" width="23.45" height="6.03" fill="#84c3e2"/>
<rect x="245.70" y="753.74" width="23.45" height="6.03" fill="#fde294"/>
<rect x="268.80" y="753.74" width="23.45" height="6.03" fill="#fcf3bd"/>
<rect x="291.90" y="753.74" width="23.45" height="6.03" fill="#e3f2f3"/>
<rect x="315.00" y="753.74" width="23.45" height="6.03" fill="#fba35c"/>
<rect x="338.10" y="753.74" width="23.45" height="6.03" fill="#fcf3bd"/>
<rect x="361.20" y="753.74" width="23.45" height="6.03" fill="#84c3e2"/>
<rect x="384.30" y="753.74" width="23.45" height="6.03" fill="#2388c8"/>
<rect x="407.40" y="753.74" width="23.45" height="6.03" fill="#fcf3bd"/>
<rect x="84.00" y="759.43" width="23.45" height="6.03" fill="#4aa2d4"/>
<rect x="107.10" y="759.43" width="23.45" height="6.03" fill="#2388c8"/>
<rect x="130.20" y="759.43" width="23.45" height="6.03" fill="#4aa2d4"/>
<rect x="153.30" y="759.43" width="23.45" height="6.03" fill="#e3f2f3"/>
<rect x="176.40" y="759.43" width="23.45" height="6.03" fill="#fba35c"/>
<rect x="199.50" y="759.43" width="23.45" height="6.03" fill="#e3f2f3"/>
<rect x="222.60" y="759.43" width="23.45" height="6.03" fill="#fde294"/>
<rect x="245.70" y="759.43" width="23.45" height="6.03" fill="#e3f2f3"/>
<rect x="268.80" y="759.43" width="23.45" height="6.03" fill="#fcf3bd"/>
<rect x="291.90" y="759.43" width="23.45" height="6.03" fill="#e3f2f3"/>
<rect x="315.00" y="759.43" width="23.45" height="6.03" fill="#fdc877"/>
<rect x="338.10" y="759.43" width="23.45" height="6.03" fill="#e3f2f3"/>
<rect x="361.20" y="759.43" width="23.45" height="6.03" fill="#84c3e2"/>
<rect x="384.30" y="759.43" width="23.45" height="6.03" fill="#1b72bd"/>
<rect x="407.40" y="759.43" width="23.45" height="6.03" fill="#fcf3bd"/>
<rect x="84.00" y="765.11" width="23.45" height="6.03" fill="#4aa2d4"/>
<rect x="107.10" y="765.11" width="23.45" height="6.03" fill="#4aa2d4"/>
<rect x="130.20" y="765.11" width="23.45" height="6.03" fill="#4aa2d4"/>
<rect x="153.30" y="765.11" width="23.45" height="6.03" fill="#84c3e2"/>
<rect x="176.40" y="765.11" width="23.45" height="6.03" fill="#fba35c"/>
<rect x="199.50" y="765.11" width="23.45" height="6.03" fill="#fcf3bd"/>
<rect x="222.60" y="765.11" width="23.45" height="6.03" fill="#fcf3bd"/>
<rect x="245.70" y="765.11" width="23.45" height="6.03" fill="#e3f2f3"/>
<rect x="268.80" y="765.11" width="23.45" height="6.03" fill="#fcf3bd"/>
<rect x="291.90" y="765.11" width="23.45" height="6.03" fill="#e3f2f3"/>
<rect x="315.00" y="765.11" width="23.45" height="6.03" fill="#fdc877"/>
<rect x="338.10" y="765.11" width="23.45" height="6.03" fill="#e3f2f3"/>
<rect x="361.20" y="765.11" width="23.45" height="6.03" fill="#4aa2d4"/>
<rect x="384.30" y="765.11" width="23.45" height="6.03" fill="#1b72bd"/>
<rect x="407.40" y="765.11" width="23.45" height="6.03" fill="#fcf3bd"/>
<rect x="84.00" y="770.80" width="23.45" height="6.03" fill="#4aa2d4"/>
<rect x="107.10" y="770.80" width="23.45" height="6.03" fill="#4aa2d4"/>
<rect x="130.20" y="770.80" width="23.45" height="6.03" fill="#4aa2d4"/>
<rect x="153.30" y="770.80" width="23.45" height="6.03" fill="#84c3e2"/>
<rect x="176.40" y="770.80" width="23.45" height="6.03" fill="#fba35c"/>
<rect x="199.50" y="770.80" width="23.45" height="6.03" fill="#fcf3bd"/>
<rect x="222.60" y="770.80" width="23.45" height="6.03" fill="#fcf3bd"/>
<rect x="245.70" y="770.80" width="23.45" height="6.03" fill="#e3f2f3"/>
<rect x="268.80" y="770.80" width="23.45" height="6.03" fill="#fde294"/>
<rect x="291.90" y="770.80" width="23.45" height="6.03" fill="#fcf3bd"/>
<rect x="315.00" y="770.80" width="23.45" height="6.03" fill="#fde294"/>
<rect x="338.10" y="770.80" width="23.45" height="6.03" fill="#e3f2f3"/>
<rect x="361.20" y="770.80" width="23.45" height="6.03" fill="#84c3e2"/>
<rect x="384.30" y="770.80" width="23.45" height="6.03" fill="#263f98"/>
<rect x="407.40" y="770.80" width="23.45" height="6.03" fill="#fcf3bd"/>
<rect x="84.00" y="776.48" width="23.45" height="6.03" fill="#84c3e2"/>
<rect x="107.10" y="776.48" width="23.45" height="6.03" fill="#4aa2d4"/>
<rect x="130.20" y="776.48" width="23.45" height="6.03" fill="#4aa2d4"/>
<rect x="153.30" y="776.48" width="23.45" height="6.03" fill="#fcf3bd"/>
<rect x="176.40" y="776.48" width="23.45" height="6.03" fill="#fcf3bd"/>
<rect x="199.50" y="776.48" width="23.45" height="6.03" fill="#c2e3ee"/>
<rect x="222.60" y="776.48" width="23.45" height="6.03" fill="#fcf3bd"/>
<rect x="245.70" y="776.48" width="23.45" height="6.03" fill="#fcf3bd"/>
<rect x="268.80" y="776.48" width="23.45" height="6.03" fill="#fde294"/>
<rect x="291.90" y="776.48" width="23.45" height="6.03" fill="#fcf3bd"/>
<rect x="315.00" y="776.48" width="23.45" height="6.03" fill="#fde294"/>
<rect x="338.10" y="776.48" width="23.45" height="6.03" fill="#fcf3bd"/>
<rect x="361.20" y="776.48" width="23.45" height="6.03" fill="#84c3e2"/>
<rect x="384.30" y="776.48" width="23.45" height="6.03" fill="#263f98"/>
<rect x="407.40" y="776.48" width="23.45" height="6.03" fill="#e3f2f3"/>
<rect x="84.00" y="782.16" width="23.45" height="6.03" fill="#84c3e2"/>
<rect x="107.10" y="782.16" width="23.45" height="6.03" fill="#4aa2d4"/>
<rect x="130.20" y="782.16" width="23.45" height="6.03" fill="#4aa2d4"/>
<rect x="153.30" y="782.16" width="23.45" height="6.03" fill="#e3f2f3"/>
<rect x="176.40" y="782.16" width="23.45" height="6.03" fill="#fcf3bd"/>
<rect x="199.50" y="782.16" width="23.45" height="6.03" fill="#e3f2f3"/>
<rect x="222.60" y="782.16" width="23.45" height="6.03" fill="#fcf3bd"/>
<rect x="245.70" y="782.16" width="23.45" height="6.03" fill="#fcf3bd"/>
<rect x="268.80" y="782.16" width="23.45" height="6.03" fill="#84c3e2"/>
<rect x="291.90" y="782.16" width="23.45" height="6.03" fill="#fcf3bd"/>
<rect x="315.00" y="782.16" width="23.45" height="6.03" fill="#f7834a"/>
<rect x="338.10" y="782.16" width="23.45" height="6.03" fill="#fcf3bd"/>
<rect x="361.20" y="782.16" width="23.45" height="6.03" fill="#4aa2d4"/>
<rect x="384.30" y="782.16" width="23.45" height="6.03" fill="#1b72bd"/>
<rect x="407.40" y="782.16" width="23.45" height="6.03" fill="#e3f2f3"/>
<rect x="84.00" y="787.85" width="23.45" height="6.03" fill="#84c3e2"/>
<rect x="107.10" y="787.85" width="23.45" height="6.03" fill="#4aa2d4"/>
<rect x="130.20" y="787.85" width="23.45" height="6.03" fill="#4aa2d4"/>
<rect x="153.30" y="787.85" width="23.45" height="6.03" fill="#c2e3ee"/>
<rect x="176.40" y="787.85" width="23.45" height="6.03" fill="#f7834a"/>
<rect x="199.50" y="787.85" width="23.45" height="6.03" fill="#fcf3bd"/>
<rect x="222.60" y="787.85" width="23.45" height="6.03" fill="#fdc877"/>
<rect x="245.70" y="787.85" width="23.45" height="6.03" fill="#e3f2f3"/>
<rect x="268.80" y="787.85" width="23.45" height="6.03" fill="#e3f2f3"/>
<rect x="291.90" y="787.85" width="23.45" height="6.03" fill="#fcf3bd"/>
<rect x="315.00" y="787.85" width="23.45" height="6.03" fill="#e3f2f3"/>
<rect x="338.10" y="787.85" width="23.45" height="6.03" fill="#fcf3bd"/>
<rect x="361.20" y="787.85" width="23.45" height="6.03" fill="#84c3e2"/>
<rect x="384.30" y="787.85" width="23.45" height="6.03" fill="#1b72bd"/>
<rect x="407.40" y="787.85" width="23.45" height="6.03" fill="#e3f2f3"/>
<rect x="84.00" y="793.53" width="23.45" height="6.03" fill="#84c3e2"/>
<rect x="107.10" y="793.53" width="23.45" height="6.03" fill="#4aa2d4"/>
<rect x="130.20" y="793.53" width="23.45" height="6.03" fill="#4aa2d4"/>
<rect x="153.30" y="793.53" width="23.45" height="6.03" fill="#c2e3ee"/>
<rect x="176.40" y="793.53" width="23.45" height="6.03" fill="#f7834a"/>
<rect x="199.50" y="793.53" width="23.45" height="6.03" fill="#fcf3bd"/>
<rect x="222.60" y="793.53" width="23.45" height="6.03" fill="#fcf3bd"/>
<rect x="245.70" y="793.53" width="23.45" height="6.03" fill="#e3f2f3"/>
<rect x="268.80" y="793.53" width="23.45" height="6.03" fill="#fcf3bd"/>
<rect x="291.90" y="793.53" width="23.45" height="6.03" fill="#e3f2f3"/>
<rect x="315.00" y="793.53" width="23.45" height="6.03" fill="#e3f2f3"/>
<rect x="338.10" y="793.53" width="23.45" height="6.03" fill="#e3f2f3"/>
<rect x="361.20" y="793.53" width="23.45" height="6.03" fill="#4aa2d4"/>
<rect x="384.30" y="793.53" width="23.45" height="6.03" fill="#1b72bd"/>
<rect x="407.40" y="793.53" width="23.45" height="6.03" fill="#e3f2f3"/>
<rect x="84.00" y="799.21" width="23.45" height="6.03" fill="#84c3e2"/>
<rect x="107.10" y="799.21" width="23.45" height="6.03" fill="#2388c8"/>
<rect x="130.20" y="799.21" width="23.45" height="6.03" fill="#2388c8"/>
<rect x="153.30" y="799.21" width="23.45" height="6.03" fill="#84c3e2"/>
<rect x="176.40" y="799.21" width="23.45" height="6.03" fill="#fdc877"/>
<rect x="199.50" y="799.21" width="23.45" height="6.03" fill="#c2e3ee"/>
<rect x="222.60" y="799.21" width="23.45" height="6.03" fill="#fde294"/>
<rect x="245.70" y="799.21" width="23.45" height="6.03" fill="#fcf3bd"/>
<rect x="268.80" y="799.21" width="23.45" height="6.03" fill="#e3f2f3"/>
<rect x="291.90" y="799.21" width="23.45" height="6.03" fill="#fde294"/>
<rect x="315.00" y="799.21" width="23.45" height="6.03" fill="#fde294"/>
<rect x="338.10" y="799.21" width="23.45" height="6.03" fill="#e3f2f3"/>
<rect x="361.20" y="799.21" width="23.45" height="6.03" fill="#4aa2d4"/>
<rect x="384.30" y="799.21" width="23.45" height="6.03" fill="#2388c8"/>
<rect x="407.40" y="799.21" width="23.45" height="6.03" fill="#e3f2f3"/>
<rect x="84.00" y="804.90" width="23.45" height="6.03" fill="#84c3e2"/>
<rect x="107.10" y="804.90" width="23.45" height="6.03" fill="#4aa2d4"/>
<rect x="130.20" y="804.90" width="23.45" height="6.03" fill="#2388c8"/>
<rect x="153.30" y="804.90" width="23.45" height="6.03" fill="#4aa2d4"/>
<rect x="176.40" y="804.90" width="23.45" height="6.03" fill="#f7834a"/>
<rect x="199.50" y="804.90" width="23.45" height="6.03" fill="#c2e3ee"/>
<rect x="222.60" y="804.90" width="23.45" height="6.03" fill="#fcf3bd"/>
<rect x="245.70" y="804.90" width="23.45" height="6.03" fill="#e3f2f3"/>
<rect x="268.80" y="804.90" width="23.45" height="6.03" fill="#e3f2f3"/>
<rect x="291.90" y="804.90" width="23.45" height="6.03" fill="#fde294"/>
<rect x="315.00" y="804.90" width="23.45" height="6.03" fill="#fde294"/>
<rect x="338.10" y="804.90" width="23.45" height="6.03" fill="#e3f2f3"/>
<rect x="361.20" y="804.90" width="23.45" height="6.03" fill="#4aa2d4"/>
<rect x="384.30" y="804.90" width="23.45" height="6.03" fill="#2388c8"/>
<rect x="407.40" y="804.90" width="23.45" height="6.03" fill="#e3f2f3"/>
<rect x="84.00" y="810.58" width="23.45" height="6.03" fill="#84c3e2"/>
<rect x="107.10" y="810.58" width="23.45" height="6.03" fill="#4aa2d4"/>
<rect x="130.20" y="810.58" width="23.45" height="6.03" fill="#84c3e2"/>
<rect x="153.30" y="810.58" width="23.45" height="6.03" fill="#84c3e2"/>
<rect x="176.40" y="810.58" width="23.45" height="6.03" fill="#e3261f"/>
<rect x="199.50" y="810.58" width="23.45" height="6.03" fill="#e3f2f3"/>
<rect x="222.60" y="810.58" width="23.45" height="6.03" fill="#c2e3ee"/>
<rect x="245.70" y="810.58" width="23.45" height="6.03" fill="#fcf3bd"/>
<rect x="268.80" y="810.58" width="23.45" height="6.03" fill="#e3f2f3"/>
<rect x="291.90" y="810.58" width="23.45" height="6.03" fill="#e3f2f3"/>
<rect x="315.00" y="810.58" width="23.45" height="6.03" fill="#fde294"/>
<rect x="338.10" y="810.58" width="23.45" height="6.03" fill="#e3f2f3"/>
<rect x="361.20" y="810.58" width="23.45" height="6.03" fill="#84c3e2"/>
<rect x="384.30" y="810.58" width="23.45" height="6.03" fill="#2388c8"/>
<rect x="407.40" y="810.58" width="23.45" height="6.03" fill="#e3f2f3"/>
<rect x="84.00" y="816.26" width="23.45" height="6.03" fill="#84c3e2"/>
<rect x="107.10" y="816.26" width="23.45" height="6.03" fill="#84c3e2"/>
<rect x="130.20" y="816.26" width="23.45" height="6.03" fill="#84c3e2"/>
<rect x="153.30" y="816.26" width="23.45" height="6.03" fill="#84c3e2"/>
<rect x="176.40" y="816.26" width="23.45" height="6.03" fill="#e3261f"/>
<rect x="199.50" y="816.26" width="23.45" height="6.03" fill="#e3f2f3"/>
<rect x="222.60" y="816.26" width="23.45" height="6.03" fill="#c2e3ee"/>
<rect x="245.70" y="816.26" width="23.45" height="6.03" fill="#e3f2f3"/>
<rect x="268.80" y="816.26" width="23.45" height="6.03" fill="#e3f2f3"/>
<rect x="291.90" y="816.26" width="23.45" height="6.03" fill="#fcf3bd"/>
<rect x="315.00" y="816.26" width="23.45" height="6.03" fill="#fcf3bd"/>
<rect x="338.10" y="816.26" width="23.45" height="6.03" fill="#e3f2f3"/>
<rect x="361.20" y="816.26" width="23.45" height="6.03" fill="#84c3e2"/>
<rect x="384.30" y="816.26" width="23.45" height="6.03" fill="#2388c8"/>
<rect x="407.40" y="816.26" width="23.45" height="6.03" fill="#e3f2f3"/>
<rect x="84.00" y="821.95" width="23.45" height="6.03" fill="#84c3e2"/>
<rect x="107.10" y="821.95" width="23.45" height="6.03" fill="#84c3e2"/>
<rect x="130.20" y="821.95" width="23.45" height="6.03" fill="#84c3e2"/>
<rect x="153.30" y="821.95" width="23.45" height="6.03" fill="#e3f2f3"/>
<rect x="176.40" y="821.95" width="23.45" height="6.03" fill="#f0522f"/>
<rect x="199.50" y="821.95" width="23.45" height="6.03" fill="#84c3e2"/>
<rect x="222.60" y="821.95" width="23.45" height="6.03" fill="#e3f2f3"/>
<rect x="245.70" y="821.95" width="23.45" height="6.03" fill="#c2e3ee"/>
<rect x="268.80" y="821.95" width="23.45" height="6.03" fill="#e3f2f3"/>
<rect x="291.90" y="821.95" width="23.45" height="6.03" fill="#fcf3bd"/>
<rect x="315.00" y="821.95" width="23.45" height="6.03" fill="#e3f2f3"/>
<rect x="338.10" y="821.95" width="23.45" height="6.03" fill="#84c3e2"/>
<rect x="361.20" y="821.95" width="23.45" height="6.03" fill="#84c3e2"/>
<rect x="384.30" y="821.95" width="23.45" height="6.03" fill="#2388c8"/>
<rect x="407.40" y="821.95" width="23.45" height="6.03" fill="#fcf3bd"/>
<rect x="84.00" y="827.63" width="23.45" height="6.03" fill="#4aa2d4"/>
<rect x="107.10" y="827.63" width="23.45" height="6.03" fill="#84c3e2"/>
<rect x="130.20" y="827.63" width="23.45" height="6.03" fill="#84c3e2"/>
<rect x="153.30" y="827.63" width="23.45" height="6.03" fill="#84c3e2"/>
<rect x="176.40" y="827.63" width="23.45" height="6.03" fill="#f7834a"/>
<rect x="199.50" y="827.63" width="23.45" height="6.03" fill="#fcf3bd"/>
<rect x="222.60" y="827.63" width="23.45" height="6.03" fill="#e3f2f3"/>
<rect x="245.70" y="827.63" width="23.45" height="6.03" fill="#fcf3bd"/>
<rect x="268.80" y="827.63" width="23.45" height="6.03" fill="#fcf3bd"/>
<rect x="291.90" y="827.63" width="23.45" height="6.03" fill="#e3f2f3"/>
<rect x="315.00" y="827.63" width="23.45" height="6.03" fill="#fcf3bd"/>
<rect x="338.10" y="827.63" width="23.45" height="6.03" fill="#84c3e2"/>
<rect x="361.20" y="827.63" width="23.45" height="6.03" fill="#84c3e2"/>
<rect x="384.30" y="827.63" width="23.45" height="6.03" fill="#2388c8"/>
<rect x="407.40" y="827.63" width="23.45" height="6.03" fill="#fdc877"/>
<rect x="84.00" y="833.31" width="23.45" height="6.03" fill="#4aa2d4"/>
<rect x="107.10" y="833.31" width="23.45" height="6.03" fill="#2388c8"/>
<rect x="130.20" y="833.31" width="23.45" height="6.03" fill="#4aa2d4"/>
<rect x="153.30" y="833.31" width="23.45" height="6.03" fill="#84c3e2"/>
<rect x="176.40" y="833.31" width="23.45" height="6.03" fill="#fba35c"/>
<rect x="199.50" y="833.31" width="23.45" height="6.03" fill="#e3f2f3"/>
<rect x="222.60" y="833.31" width="23.45" height="6.03" fill="#c2e3ee"/>
<rect x="245.70" y="833.31" width="23.45" height="6.03" fill="#e3f2f3"/>
<rect x="268.80" y="833.31" width="23.45" height="6.03" fill="#e3f2f3"/>
<rect x="291.90" y="833.31" width="23.45" height="6.03" fill="#c2e3ee"/>
<rect x="315.00" y="833.31" width="23.45" height="6.03" fill="#fcf3bd"/>
<rect x="338.10" y="833.31" width="23.45" height="6.03" fill="#fdc877"/>
<rect x="361.20" y="833.31" width="23.45" height="6.03" fill="#c2e3ee"/>
<rect x="384.30" y="833.31" width="23.45" height="6.03" fill="#4aa2d4"/>
<rect x="407.40" y="833.31" width="23.45" height="6.03" fill="#c2e3ee"/>
<rect x="84.00" y="839.00" width="23.45" height="6.03" fill="#4aa2d4"/>
<rect x="107.10" y="839.00" width="23.45" height="6.03" fill="#4aa2d4"/>
<rect x="130.20" y="839.00" width="23.45" height="6.03" fill="#2388c8"/>
<rect x="153.30" y="839.00" width="23.45" height="6.03" fill="#c2e3ee"/>
<rect x="176.40" y="839.00" width="23.45" height="6.03" fill="#f0522f"/>
<rect x="199.50" y="839.00" width="23.45" height="6.03" fill="#fde294"/>
<rect x="222.60" y="839.00" width="23.45" height="6.03" fill="#e3f2f3"/>
<rect x="245.70" y="839.00" width="23.45" height="6.03" fill="#e3f2f3"/>
<rect x="268.80" y="839.00" width="23.45" height="6.03" fill="#fde294"/>
<rect x="291.90" y="839.00" width="23.45" height="6.03" fill="#84c3e2"/>
<rect x="315.00" y="839.00" width="23.45" height="6.03" fill="#e3f2f3"/>
<rect x="338.10" y="839.00" width="23.45" height="6.03" fill="#fcf3bd"/>
<rect x="361.20" y="839.00" width="23.45" height="6.03" fill="#c2e3ee"/>
<rect x="384.30" y="839.00" width="23.45" height="6.03" fill="#2388c8"/>
<rect x="407.40" y="839.00" width="23.45" height="6.03" fill="#4aa2d4"/>
<rect x="84.00" y="844.68" width="23.45" height="6.03" fill="#4aa2d4"/>
<rect x="107.10" y="844.68" width="23.45" height="6.03" fill="#4aa2d4"/>
<rect x="130.20" y="844.68" width="23.45" height="6.03" fill="#4aa2d4"/>
<rect x="153.30" y="844.68" width="23.45" height="6.03" fill="#c2e3ee"/>
<rect x="176.40" y="844.68" width="23.45" height="6.03" fill="#fba35c"/>
<rect x="199.50" y="844.68" width="23.45" height="6.03" fill="#fcf3bd"/>
<rect x="222.60" y="844.68" width="23.45" height="6.03" fill="#e3f2f3"/>
<rect x="245.70" y="844.68" width="23.45" height="6.03" fill="#e3f2f3"/>
<rect x="268.80" y="844.68" width="23.45" height="6.03" fill="#fcf3bd"/>
<rect x="291.90" y="844.68" width="23.45" height="6.03" fill="#c2e3ee"/>
<rect x="315.00" y="844.68" width="23.45" height="6.03" fill="#fcf3bd"/>
<rect x="338.10" y="844.68" width="23.45" height="6.03" fill="#e3f2f3"/>
<rect x="361.20" y="844.68" width="23.45" height="6.03" fill="#4aa2d4"/>
<rect x="384.30" y="844.68" width="23.45" height="6.03" fill="#2388c8"/>
<rect x="407.40" y="844.68" width="23.45" height="6.03" fill="#e3f2f3"/>
<rect x="84.00" y="850.37" width="23.45" height="6.03" fill="#4aa2d4"/>
<rect x="107.10" y="850.37" width="23.45" height="6.03" fill="#4aa2d4"/>
<rect x="130.20" y="850.37" width="23.45" height="6.03" fill="#4aa2d4"/>
<rect x="153.30" y="850.37" width="23.45" height="6.03" fill="#c2e3ee"/>
<rect x="176.40" y="850.37" width="23.45" height="6.03" fill="#f0522f"/>
<rect x="199.50" y="850.37" width="23.45" height="6.03" fill="#fcf3bd"/>
<rect x="222.60" y="850.37" width="23.45" height="6.03" fill="#fcf3bd"/>
<rect x="245.70" y="850.37" width="23.45" height="6.03" fill="#e3f2f3"/>
<rect x="268.80" y="850.37" width="23.45" height="6.03" fill="#fcf3bd"/>
<rect x="291.90" y="850.37" width="23.45" height="6.03" fill="#c2e3ee"/>
<rect x="315.00" y="850.37" width="23.45" height="6.03" fill="#fcf3bd"/>
<rect x="338.10" y="850.37" width="23.45" height="6.03" fill="#e3f2f3"/>
<rect x="361.20" y="850.37" width="23.45" height="6.03" fill="#84c3e2"/>
<rect x="384.30" y="850.37" width="23.45" height="6.03" fill="#2388c8"/>
<rect x="407.40" y="850.37" width="23.45" height="6.03" fill="#e3f2f3"/>
<rect x="84.00" y="856.05" width="23.45" height="6.03" fill="#e3f2f3"/>
<rect x="107.10" y="856.05" width="23.45" height="6.03" fill="#4aa2d4"/>
<rect x="130.20" y="856.05" width="23.45" height="6.03" fill="#84c3e2"/>
<rect x="153.30" y="856.05" width="23.45" height="6.03" fill="#fcf3bd"/>
<rect x="176.40" y="856.05" width="23.45" height="6.03" fill="#f0522f"/>
<rect x="199.50" y="856.05" width="23.45" height="6.03" fill="#fcf3bd"/>
<rect x="222.60" y="856.05" width="23.45" height="6.03" fill="#fcf3bd"/>
<rect x="245.70" y="856.05" width="23.45" height="6.03" fill="#e3f2f3"/>
<rect x="268.80" y="856.05" width="23.45" height="6.03" fill="#fcf3bd"/>
<rect x="291.90" y="856.05" width="23.45" height="6.03" fill="#4aa2d4"/>
<rect x="315.00" y="856.05" width="23.45" height="6.03" fill="#e3f2f3"/>
<rect x="338.10" y="856.05" width="23.45" height="6.03" fill="#c2e3ee"/>
<rect x="361.20" y="856.05" width="23.45" height="6.03" fill="#c2e3ee"/>
<rect x="384.30" y="856.05" width="23.45" height="6.03" fill="#1b72bd"/>
<rect x="407.40" y="856.05" width="23.45" height="6.03" fill="#4aa2d4"/>
<rect x="84.00" y="861.73" width="23.45" height="6.03" fill="#c2e3ee"/>
<rect x="107.10" y="861.73" width="23.45" height="6.03" fill="#2388c8"/>
<rect x="130.20" y="861.73" width="23.45" height="6.03" fill="#84c3e2"/>
<rect x="153.30" y="861.73" width="23.45" height="6.03" fill="#e3f2f3"/>
<rect x="176.40" y="861.73" width="23.45" height="6.03" fill="#fba35c"/>
<rect x="199.50" y="861.73" width="23.45" height="6.03" fill="#fdc877"/>
<rect x="222.60" y="861.73" width="23.45" height="6.03" fill="#e3f2f3"/>
<rect x="245.70" y="861.73" width="23.45" height="6.03" fill="#e3f2f3"/>
<rect x="268.80" y="861.73" width="23.45" height="6.03" fill="#fcf3bd"/>
<rect x="291.90" y="861.73" width="23.45" height="6.03" fill="#84c3e2"/>
<rect x="315.00" y="861.73" width="23.45" height="6.03" fill="#fcf3bd"/>
<rect x="338.10" y="861.73" width="23.45" height="6.03" fill="#c2e3ee"/>
<rect x="361.20" y="861.73" width="23.45" height="6.03" fill="#84c3e2"/>
<rect x="384.30" y="861.73" width="23.45" height="6.03" fill="#2388c8"/>
<rect x="407.40" y="861.73" width="23.45" height="6.03" fill="#fcf3bd"/>
<rect x="84.00" y="867.42" width="23.45" height="6.03" fill="#4aa2d4"/>
<rect x="107.10" y="867.42" width="23.45" height="6.03" fill="#4aa2d4"/>
<rect x="130.20" y="867.42" width="23.45" height="6.03" fill="#4aa2d4"/>
<rect x="153.30" y="867.42" width="23.45" height="6.03" fill="#c2e3ee"/>
<rect x="176.40" y="867.42" width="23.45" height="6.03" fill="#fba35c"/>
<rect x="199.50" y="867.42" width="23.45" height="6.03" fill="#fcf3bd"/>
<rect x="222.60" y="867.42" width="23.45" height="6.03" fill="#e3f2f3"/>
<rect x="245.70" y="867.42" width="23.45" height="6.03" fill="#e3f2f3"/>
<rect x="268.80" y="867.42" width="23.45" height="6.03" fill="#fcf3bd"/>
<rect x="291.90" y="867.42" width="23.45" height="6.03" fill="#c2e3ee"/>
<rect x="315.00" y="867.42" width="23.45" height="6.03" fill="#fcf3bd"/>
<rect x="338.10" y="867.42" width="23.45" height="6.03" fill="#c2e3ee"/>
<rect x="361.20" y="867.42" width="23.45" height="6.03" fill="#84c3e2"/>
<rect x="384.30" y="867.42" width="23.45" height="6.03" fill="#2388c8"/>
<rect x="407.40" y="867.42" width="23.45" height="6.03" fill="#fcf3bd"/>
<text x="432.9" y="497.84" class="rl">metap1</text>
<text x="432.9" y="503.53" class="rl">metap2</text>
<text x="432.9" y="509.21" class="rl">igf2bp3</text>
<text x="432.9" y="514.89" class="rl">metrn</text>
<text x="432.9" y="520.58" class="rl">rras2</text>
<text x="432.9" y="526.26" class="rl">washc1</text>
<text x="432.9" y="531.94" class="rl">rammet</text>
<text x="432.9" y="537.63" class="rl">metrnl</text>
<text x="432.9" y="543.31" class="rl">metap1d</text>
<text x="432.9" y="548.99" class="rl">papln</text>
<text x="432.9" y="554.68" class="rl">gng8</text>
<text x="432.9" y="560.36" class="rl">LOC103392444</text>
<text x="432.9" y="566.04" class="rl">socs3</text>
<text x="432.9" y="571.73" class="rl">LOC103380804</text>
<text x="432.9" y="577.41" class="rl">LOC103395458</text>
<text x="432.9" y="583.10" class="rl">LOC103391274</text>
<text x="432.9" y="588.78" class="rl">LOC103390704</text>
<text x="432.9" y="594.46" class="rl">LOC103386688</text>
<text x="432.9" y="600.15" class="rl">fgf7</text>
<text x="432.9" y="605.83" class="rl">shc1</text>
<text x="432.9" y="611.51" class="rl">LOC103395906</text>
<text x="432.9" y="617.20" class="rl">cxcr4</text>
<text x="432.9" y="622.88" class="rl">LOC103393663</text>
<text x="432.9" y="628.56" class="rl">cacng4</text>
<text x="432.9" y="634.25" class="rl">ccr7</text>
<text x="432.9" y="639.93" class="rl">cav3</text>
<text x="432.9" y="645.61" class="rl">rasgrf2</text>
<text x="432.9" y="651.30" class="rl">jak2</text>
<text x="432.9" y="656.98" class="rl">LOC103387590</text>
<text x="432.9" y="662.67" class="rl">LOC103387794</text>
<text x="432.9" y="668.35" class="rl">LOC103391157</text>
<text x="432.9" y="674.03" class="rl">LOC103389337</text>
<text x="432.9" y="679.72" class="rl">itgb4</text>
<text x="432.9" y="685.40" class="rl">cck-2</text>
<text x="432.9" y="691.08" class="rl">LOC103380791</text>
<text x="432.9" y="696.77" class="rl">LOC103387676</text>
<text x="432.9" y="702.45" class="rl">LOC103392892</text>
<text x="432.9" y="708.13" class="rl">LOC103377387</text>
<text x="432.9" y="713.82" class="rl">LOC103386795</text>
<text x="432.9" y="719.50" class="rl">LOC103388560</text>
<text x="432.9" y="725.19" class="rl">camk2a</text>
<text x="432.9" y="730.87" class="rl">tab2</text>
<text x="432.9" y="736.55" class="rl">lamc1</text>
<text x="432.9" y="742.24" class="rl">igf2</text>
<text x="432.9" y="747.92" class="rl">gna12</text>
<text x="432.9" y="753.60" class="rl">rras</text>
<text x="432.9" y="759.29" class="rl">LOC103393515</text>
<text x="432.9" y="764.97" class="rl">LOC112487879</text>
<text x="432.9" y="770.65" class="rl">LOC103379958</text>
<text x="432.9" y="776.34" class="rl">gsk3b</text>
<text x="432.9" y="782.02" class="rl">ppp3r1</text>
<text x="432.9" y="787.70" class="rl">LOC103386740</text>
<text x="432.9" y="793.39" class="rl">LOC103379355</text>
<text x="432.9" y="799.07" class="rl">camk2b</text>
<text x="432.9" y="804.76" class="rl">sos2</text>
<text x="432.9" y="810.44" class="rl">met</text>
<text x="432.9" y="816.12" class="rl">igf2r</text>
<text x="432.9" y="821.81" class="rl">LOC103391186</text>
<text x="432.9" y="827.49" class="rl">LOC103392914</text>
<text x="432.9" y="833.17" class="rl">gng7</text>
<text x="432.9" y="838.86" class="rl">igf2bp2</text>
<text x="432.9" y="844.54" class="rl">fln1</text>
<text x="432.9" y="850.22" class="rl">LOC103395882</text>
<text x="432.9" y="855.91" class="rl">apln</text>
<text x="432.9" y="861.59" class="rl">LOC103384081</text>
<text x="432.9" y="867.27" class="rl">LOC112486245</text>
<text x="432.9" y="872.96" class="rl">LOC103397828</text>
<text x="95.55" y="881.30" class="cl" text-anchor="middle">CT1</text>
<text x="118.65" y="881.30" class="cl" text-anchor="middle">CT2</text>
<text x="141.75" y="881.30" class="cl" text-anchor="middle">CT3</text>
<text x="164.85" y="881.30" class="cl" text-anchor="middle">HS1h1</text>
<text x="187.95" y="881.30" class="cl" text-anchor="middle">HS1h2</text>
<text x="211.05" y="881.30" class="cl" text-anchor="middle">HS1h3</text>
<text x="234.15" y="881.30" class="cl" text-anchor="middle">HS2h1</text>
<text x="257.25" y="881.30" class="cl" text-anchor="middle">HS2h2</text>
<text x="280.35" y="881.30" class="cl" text-anchor="middle">HS2h3</text>
<text x="303.45" y="881.30" class="cl" text-anchor="middle">HS3h1</text>
<text x="326.55" y="881.30" class="cl" text-anchor="middle">HS3h2</text>
<text x="349.65" y="881.30" class="cl" text-anchor="middle">HS3h3</text>
<text x="372.75" y="881.30" class="cl" text-anchor="middle">HS5h1</text>
<text x="395.85" y="881.30" class="cl" text-anchor="middle">HS5h2</text>
<text x="418.95" y="881.30" class="cl" text-anchor="middle">HS5h3</text>
<rect x="485" y="482.7" width="7.1" height="104.00000000000006" fill="url(#cbm)"/>
<text x="495.8" y="495.87" class="tick">3</text>
<text x="495.8" y="513.53" class="tick">2</text>
<text x="495.8" y="531.18" class="tick">1</text>
<text x="495.8" y="548.84" class="tick">0</text>
<text x="495.8" y="566.50" class="tick">−1</text>
<text x="495.8" y="584.16" class="tick">−2</text>
<text x="510.6" y="487.6" class="grp">group</text>
<rect x="510.3" y="490.00" width="10.6" height="10.0" fill="#1c4fa6"/>
<text x="524.9" y="498.50" class="leg">CT</text>
<rect x="510.3" y="499.95" width="10.6" height="10.0" fill="#f6704a"/>
<text x="524.9" y="508.45" class="leg">HS1h</text>
<rect x="510.3" y="509.90" width="10.6" height="10.0" fill="#14b026"/>
<text x="524.9" y="518.40" class="leg">HS2h</text>
<rect x="510.3" y="519.85" width="10.6" height="10.0" fill="#fa1220"/>
<text x="524.9" y="528.35" class="leg">HS3h</text>
<rect x="510.3" y="529.80" width="10.6" height="10.0" fill="#6a3b9e"/>
<text x="524.9" y="538.30" class="leg">HS5h</text>
<path class="dg" d="M80.50,495.14V500.83M80.50,495.14H83.60M80.50,500.83H83.60M79.20,506.51V512.19M79.20,506.51H83.60M79.20,512.19H83.60M75.60,497.98V509.35M75.60,497.98H80.50M75.60,509.35H79.20M79.60,529.24V534.93M79.60,529.24H83.60M79.60,534.93H83.60M76.50,523.56V532.09M76.50,523.56H83.60M76.50,532.09H79.60M74.50,517.88V527.82M74.50,517.88H83.60M74.50,527.82H76.50M69.00,503.67V522.85M69.00,503.67H75.60M69.00,522.85H74.50M73.75,540.61V546.29M73.75,540.61H83.60M73.75,546.29H83.60M79.20,551.98V557.66M79.20,551.98H83.60M79.20,557.66H83.60M78.50,569.03V574.71M78.50,569.03H83.60M78.50,574.71H83.60M77.60,563.34V571.87M77.60,563.34H83.60M77.60,571.87H78.50M76.50,554.82V567.61M76.50,554.82H79.20M76.50,567.61H77.60M79.60,586.08V591.76M79.60,586.08H83.60M79.60,591.76H83.60M77.40,580.40V588.92M77.40,580.40H83.60M77.40,588.92H79.60M79.30,603.13V608.81M79.30,603.13H83.60M79.30,608.81H83.60M78.30,597.45V605.97M78.30,597.45H83.60M78.30,605.97H79.30M78.30,614.50V620.18M78.30,614.50H83.60M78.30,620.18H83.60M80.30,631.55V637.23M80.30,631.55H83.60M80.30,637.23H83.60M78.30,625.86V634.39M78.30,625.86H83.60M78.30,634.39H80.30M75.50,617.34V630.13M75.50,617.34H78.30M75.50,630.13H78.30M74.80,601.71V623.73M74.80,601.71H78.30M74.80,623.73H75.50M74.20,584.66V612.72M74.20,584.66H77.40M74.20,612.72H74.80M70.60,561.21V598.69M70.60,561.21H76.50M70.60,598.69H74.20M68.40,543.45V579.95M68.40,543.45H73.75M68.40,579.95H70.60M82.50,642.91V648.60M82.50,642.91H83.60M82.50,648.60H83.60M82.00,654.28V659.97M82.00,654.28H83.60M82.00,659.97H83.60M80.50,645.76V657.12M80.50,645.76H82.50M80.50,657.12H82.00M82.50,671.33V677.02M82.50,671.33H83.60M82.50,677.02H83.60M80.50,665.65V674.17M80.50,665.65H83.60M80.50,674.17H82.50M79.60,651.44V669.91M79.60,651.44H80.50M79.60,669.91H80.50M79.60,688.38V694.07M79.60,688.38H83.60M79.60,694.07H83.60M77.40,682.70V691.23M77.40,682.70H83.60M77.40,691.23H79.60M74.65,660.68V686.96M74.65,660.68H79.60M74.65,686.96H77.40M77.80,699.75V705.43M77.80,699.75H83.60M77.80,705.43H83.60M78.50,716.80V722.49M78.50,716.80H83.60M78.50,722.49H83.60M76.00,711.12V719.64M76.00,711.12H83.60M76.00,719.64H78.50M73.75,702.59V715.38M73.75,702.59H77.80M73.75,715.38H76.00M82.00,733.85V739.54M82.00,733.85H83.60M82.00,739.54H83.60M81.00,728.17V736.69M81.00,728.17H83.60M81.00,736.69H82.00M81.50,745.22V750.90M81.50,745.22H83.60M81.50,750.90H83.60M80.00,732.43V748.06M80.00,732.43H81.00M80.00,748.06H81.50M81.00,762.27V767.95M81.00,762.27H83.60M81.00,767.95H83.60M80.00,756.59V765.11M80.00,756.59H83.60M80.00,765.11H81.00M81.00,773.64V779.32M81.00,773.64H83.60M81.00,779.32H83.60M80.00,776.48V785.00M80.00,776.48H81.00M80.00,785.00H83.60M78.90,760.85V780.74M78.90,760.85H80.00M78.90,780.74H80.00M81.00,796.37V802.06M81.00,796.37H83.60M81.00,802.06H83.60M80.00,790.69V799.21M80.00,790.69H83.60M80.00,799.21H81.00M81.00,807.74V813.42M81.00,807.74H83.60M81.00,813.42H83.60M82.00,824.79V830.47M82.00,824.79H83.60M82.00,830.47H83.60M81.00,819.11V827.63M81.00,819.11H83.60M81.00,827.63H82.00M79.50,810.58V823.37M79.50,810.58H81.00M79.50,823.37H81.00M78.00,794.95V816.97M78.00,794.95H80.00M78.00,816.97H79.50M80.00,836.16V841.84M80.00,836.16H83.60M80.00,841.84H83.60M81.00,847.52V853.21M81.00,847.52H83.60M81.00,853.21H83.60M81.00,864.57V870.26M81.00,864.57H83.60M81.00,870.26H83.60M80.00,858.89V867.42M80.00,858.89H83.60M80.00,867.42H81.00M79.00,850.37V863.15M79.00,850.37H81.00M79.00,863.15H80.00M77.50,839.00V856.76M77.50,839.00H80.00M77.50,856.76H79.00M76.50,805.96V847.88M76.50,805.96H78.00M76.50,847.88H77.50M75.10,770.80V826.92M75.10,770.80H78.90M75.10,826.92H76.50M71.50,740.25V798.86M71.50,740.25H80.00M71.50,798.86H75.10M66.30,708.99V769.55M66.30,708.99H73.75M66.30,769.55H71.50M65.20,673.82V739.27M65.20,673.82H74.65M65.20,739.27H66.30M50.80,561.70V706.54M50.80,561.70H68.40M50.80,706.54H65.20M45.00,513.26V634.12M45.00,513.26H69.00M45.00,634.12H50.80"/>
</svg>
</body></html>
